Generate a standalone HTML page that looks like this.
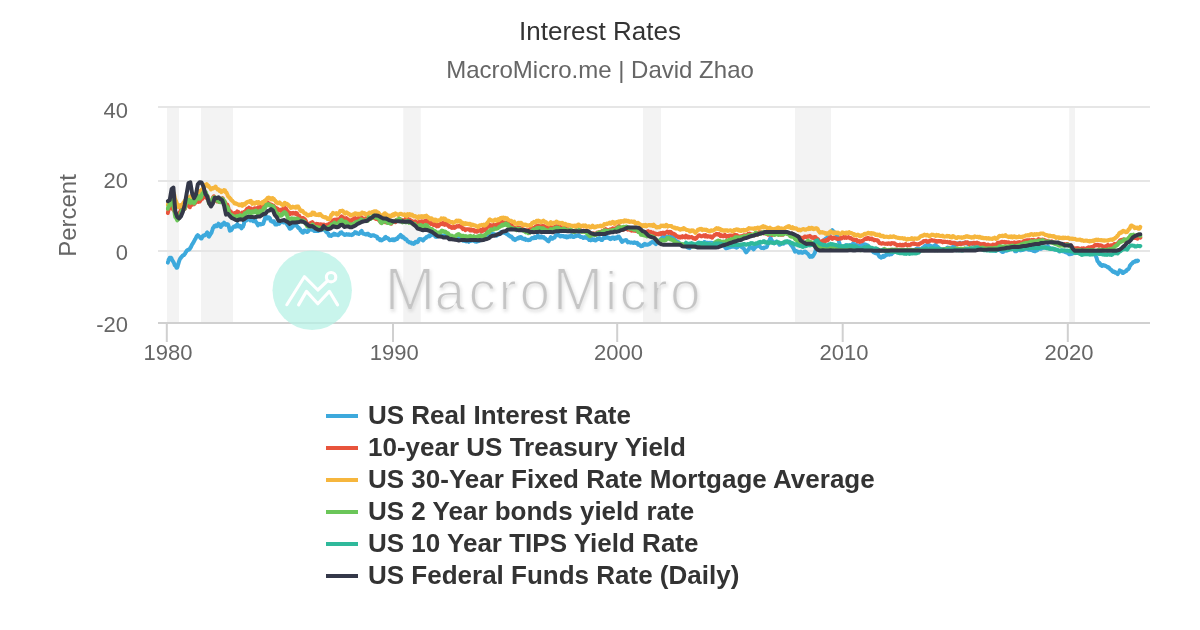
<!DOCTYPE html>
<html lang="en"><head><meta charset="utf-8"><title>Interest Rates</title>
<style>
html,body{margin:0;padding:0;background:#fff;}
body{width:1200px;height:630px;overflow:hidden;font-family:"Liberation Sans",sans-serif;}
svg{display:block}
text{font-family:"Liberation Sans",sans-serif}
.ax{font-size:22px;fill:#666}
.lg{font-size:26px;font-weight:bold;fill:#333}
</style></head><body>
<svg width="1200" height="630" viewBox="0 0 1200 630">
<defs><filter id="wmblur" x="-5%" y="-20%" width="110%" height="140%"><feGaussianBlur stdDeviation="1.6"/></filter>
<filter id="wmsoft" x="-5%" y="-20%" width="110%" height="140%"><feGaussianBlur stdDeviation="0.5"/></filter>
<mask id="wmmask" maskUnits="userSpaceOnUse" x="380" y="255" width="330" height="70"><text y="310.4" font-size="61" fill="#fff" stroke="#000" stroke-width="2.0"><tspan x="384.6">M</tspan><tspan font-size="55" x="434.4 468.6 498.4 519.5">acro</tspan><tspan x="552.5">M</tspan><tspan font-size="55" x="604.9 619.5 649.4 669.9">icro</tspan></text></mask>
<clipPath id="plot"><rect x="165.8" y="100" width="990" height="230"/></clipPath></defs>
<rect width="1200" height="630" fill="#fff"/>

<rect x="167.0" y="107" width="12.0" height="216" fill="#f3f3f3"/>
<rect x="201.0" y="107" width="32.0" height="216" fill="#f3f3f3"/>
<rect x="403.3" y="107" width="17.4" height="216" fill="#f3f3f3"/>
<rect x="643.0" y="107" width="18.0" height="216" fill="#f3f3f3"/>
<rect x="795.0" y="107" width="36.0" height="216" fill="#f3f3f3"/>
<rect x="1069.2" y="107" width="5.8" height="216" fill="#f3f3f3"/>
<rect x="158" y="106.0" width="992" height="2" fill="#e6e6e6"/>
<rect x="158" y="180.0" width="992" height="2" fill="#e6e6e6"/>
<rect x="158" y="250.0" width="992" height="2" fill="#e6e6e6"/>
<rect x="158" y="322" width="992" height="2" fill="#d0d0d0"/>
<rect x="165.8" y="323" width="2" height="19" fill="#d0d0d0"/>
<text class="ax" x="168.0" y="360" text-anchor="middle">1980</text>
<rect x="392.0" y="323" width="2" height="19" fill="#d0d0d0"/>
<text class="ax" x="394.2" y="360" text-anchor="middle">1990</text>
<rect x="616.2" y="323" width="2" height="19" fill="#d0d0d0"/>
<text class="ax" x="618.4" y="360" text-anchor="middle">2000</text>
<rect x="841.7" y="323" width="2" height="19" fill="#d0d0d0"/>
<text class="ax" x="843.9" y="360" text-anchor="middle">2010</text>
<rect x="1066.8" y="323" width="2" height="19" fill="#d0d0d0"/>
<text class="ax" x="1069.0" y="360" text-anchor="middle">2020</text>
<g id="wm">
<circle cx="312.2" cy="290.3" r="39.7" fill="#b7f2e6" fill-opacity="0.75"/>
<g fill="none" stroke="#fff" stroke-width="3.1" stroke-linecap="round" stroke-linejoin="round">
<path d="M286.8 304.7 L304.4 276.7 L317.8 290.0 L327.3 281.0"/>
<circle cx="331.1" cy="277.2" r="4.7"/>
<path d="M298.6 304.9 L306.5 291.4 L317.8 303.8 L329.4 291.4 L337.6 304.9"/>
</g>
<text y="311.6" font-size="61" fill="#b8b8b8" opacity="0.32" filter="url(#wmblur)"><tspan x="385.6">M</tspan><tspan font-size="55" x="435.4 469.6 499.4 520.5">acro</tspan><tspan x="553.5">M</tspan><tspan font-size="55" x="605.9 620.5 650.4 670.9">icro</tspan></text>
<rect x="380" y="255" width="330" height="70" fill="#c5c5c5" mask="url(#wmmask)" filter="url(#wmsoft)"/>
</g>
<text class="ax" x="128" y="117.7" text-anchor="end">40</text>
<text class="ax" x="128" y="187.6" text-anchor="end">20</text>
<text class="ax" x="128" y="259.9" text-anchor="end">0</text>
<text class="ax" x="128" y="332.1" text-anchor="end">-20</text>
<text x="75.9" y="215.5" font-size="24" fill="#666" text-anchor="middle" transform="rotate(-90 75.9 215.5)">Percent</text>
<g fill="none" stroke-linejoin="round" stroke-linecap="round" clip-path="url(#plot)">
<path d="M167.8 262.6 L168.3 261.0 L168.7 259.5 L169.2 258.7 L169.7 257.8 L170.1 257.9 L170.6 257.9 L171.1 257.8 L171.6 258.6 L172.0 259.9 L172.5 260.5 L173.0 261.4 L173.4 262.0 L173.9 262.9 L174.4 264.2 L174.8 265.3 L175.3 265.2 L175.8 266.2 L176.2 267.1 L176.7 267.8 L177.2 267.8 L177.7 266.1 L178.1 264.6 L178.6 262.9 L179.1 261.2 L179.5 260.1 L180.0 258.9 L180.5 258.2 L180.9 257.9 L181.4 256.8 L181.9 256.6 L182.4 255.8 L182.8 255.4 L183.3 255.1 L183.8 255.1 L184.2 254.9 L184.7 254.0 L185.2 253.4 L185.6 252.4 L186.1 251.9 L186.6 250.8 L187.0 250.4 L187.5 250.2 L188.0 249.9 L188.5 249.7 L188.9 249.6 L189.4 249.0 L189.9 248.8 L190.3 247.9 L190.8 247.3 L191.3 246.2 L191.7 245.4 L192.2 244.2 L192.7 243.8 L193.1 242.8 L193.6 242.2 L194.1 241.1 L194.6 240.2 L195.0 239.4 L195.5 238.9 L196.0 237.6 L196.4 236.9 L196.9 235.9 L197.4 235.9 L197.8 235.2 L198.3 235.6 L198.8 236.1 L199.2 236.5 L199.7 236.9 L200.2 237.6 L200.7 238.2 L201.1 238.4 L201.6 238.4 L202.1 237.3 L202.5 236.7 L203.0 236.0 L203.5 235.5 L203.9 235.4 L204.4 235.5 L204.9 235.2 L205.4 234.6 L205.8 234.5 L206.3 234.3 L206.8 232.8 L207.2 232.4 L207.7 233.4 L208.2 234.5 L208.6 236.4 L209.1 236.6 L209.6 235.4 L210.0 235.0 L210.5 234.0 L211.0 233.4 L211.5 232.6 L211.9 231.3 L212.4 229.9 L212.9 228.2 L213.3 227.6 L213.8 227.3 L214.3 226.2 L214.7 226.4 L215.2 225.8 L215.7 225.3 L216.1 225.6 L216.6 226.3 L217.1 226.1 L217.6 225.3 L218.0 224.6 L218.5 223.7 L219.0 225.0 L219.4 225.3 L219.9 225.4 L220.4 226.0 L220.8 226.9 L221.3 225.7 L221.8 224.3 L222.2 224.1 L222.7 224.8 L223.2 224.7 L223.7 224.1 L224.1 222.6 L224.6 223.3 L225.1 224.1 L225.5 223.9 L226.0 224.8 L226.5 224.0 L226.9 224.7 L227.4 224.9 L227.9 224.3 L228.3 225.2 L228.8 226.7 L229.3 228.3 L229.8 230.7 L230.2 230.5 L230.7 230.4 L231.2 230.2 L231.6 229.5 L232.1 229.0 L232.6 227.9 L233.0 227.3 L233.5 226.8 L234.0 226.7 L234.5 226.5 L234.9 226.2 L235.4 226.7 L235.9 226.4 L236.3 226.5 L236.8 225.0 L237.3 224.1 L237.7 225.0 L238.2 225.7 L238.7 226.5 L239.1 226.3 L239.6 226.5 L240.1 225.9 L240.6 226.7 L241.0 227.7 L241.5 228.4 L242.0 226.8 L242.4 226.4 L242.9 226.9 L243.4 225.2 L243.8 224.7 L244.3 221.2 L244.8 220.1 L245.2 219.9 L245.7 219.9 L246.2 220.6 L246.7 219.6 L247.1 219.8 L247.6 218.5 L248.1 219.3 L248.5 218.8 L249.0 218.0 L249.5 217.6 L249.9 219.2 L250.4 220.4 L250.9 219.5 L251.3 219.2 L251.8 220.1 L252.3 220.4 L252.8 220.7 L253.2 221.2 L253.7 221.3 L254.2 220.5 L254.6 220.6 L255.1 220.2 L255.6 221.2 L256.0 221.9 L256.5 223.0 L257.0 223.3 L257.5 224.4 L257.9 225.3 L258.4 224.5 L258.9 223.9 L259.3 224.1 L259.8 224.0 L260.3 224.1 L260.7 224.5 L261.2 224.2 L261.7 224.1 L262.1 224.1 L262.6 224.1 L263.1 223.8 L263.6 222.7 L264.0 221.2 L264.5 220.3 L265.0 218.3 L265.4 217.5 L265.9 217.2 L266.4 216.7 L266.8 217.5 L267.3 218.4 L267.8 217.6 L268.2 218.1 L268.7 217.3 L269.2 217.6 L269.7 218.0 L270.1 218.6 L270.6 220.8 L271.1 220.7 L271.5 221.2 L272.0 221.6 L272.5 221.7 L272.9 221.2 L273.4 221.2 L273.9 221.3 L274.3 222.9 L274.8 223.2 L275.3 224.5 L275.8 224.1 L276.2 223.8 L276.7 224.5 L277.2 224.0 L277.6 223.8 L278.1 223.2 L278.6 223.8 L279.0 223.9 L279.5 223.7 L280.0 222.3 L280.5 221.8 L280.9 222.2 L281.4 222.1 L281.9 222.1 L282.3 222.0 L282.8 222.1 L283.3 222.1 L283.7 222.5 L284.2 222.3 L284.7 221.5 L285.1 221.9 L285.6 222.5 L286.1 223.2 L286.6 223.7 L287.0 224.2 L287.5 225.2 L288.0 225.6 L288.4 226.1 L288.9 227.2 L289.4 228.0 L289.8 228.8 L290.3 228.6 L290.8 227.4 L291.2 228.2 L291.7 227.4 L292.2 227.1 L292.7 226.8 L293.1 226.2 L293.6 225.3 L294.1 225.2 L294.5 225.2 L295.0 225.3 L295.5 225.0 L295.9 224.7 L296.4 225.3 L296.9 226.0 L297.3 226.5 L297.8 227.2 L298.3 228.0 L298.8 227.7 L299.2 228.2 L299.7 229.2 L300.2 229.3 L300.6 230.6 L301.1 231.0 L301.6 231.0 L302.0 232.1 L302.5 232.6 L303.0 232.7 L303.4 231.6 L303.9 230.8 L304.4 231.4 L304.9 230.5 L305.3 231.0 L305.8 231.2 L306.3 231.5 L306.7 231.5 L307.2 232.0 L307.7 231.7 L308.1 231.6 L308.6 230.7 L309.1 229.2 L309.6 228.0 L310.0 228.5 L310.5 229.1 L311.0 229.2 L311.4 229.6 L311.9 228.6 L312.4 228.9 L312.8 229.8 L313.3 229.6 L313.8 229.8 L314.2 231.0 L314.7 231.0 L315.2 231.0 L315.7 231.0 L316.1 231.0 L316.6 231.0 L317.1 230.8 L317.5 231.0 L318.0 231.1 L318.5 230.0 L318.9 229.8 L319.4 229.6 L319.9 230.2 L320.3 229.9 L320.8 229.4 L321.3 230.1 L321.8 229.3 L322.2 229.6 L322.7 229.3 L323.2 229.4 L323.6 229.3 L324.1 229.2 L324.6 230.1 L325.0 229.8 L325.5 230.9 L326.0 231.7 L326.4 231.6 L326.9 232.5 L327.4 232.8 L327.9 233.1 L328.3 233.5 L328.8 235.3 L329.3 235.7 L329.7 235.0 L330.2 235.0 L330.7 235.5 L331.1 235.9 L331.6 235.5 L332.1 235.4 L332.6 234.8 L333.0 234.3 L333.5 234.2 L334.0 233.7 L334.4 234.0 L334.9 234.6 L335.4 234.0 L335.8 234.7 L336.3 234.8 L336.8 234.8 L337.2 234.9 L337.7 235.3 L338.2 235.2 L338.7 234.3 L339.1 234.4 L339.6 234.0 L340.1 233.0 L340.5 232.4 L341.0 232.4 L341.5 232.3 L341.9 233.4 L342.4 233.5 L342.9 233.7 L343.3 234.0 L343.8 234.2 L344.3 234.9 L344.8 235.0 L345.2 234.8 L345.7 234.7 L346.2 234.4 L346.6 234.1 L347.1 234.3 L347.6 234.6 L348.0 234.7 L348.5 234.3 L349.0 234.3 L349.4 234.5 L349.9 234.9 L350.4 234.8 L350.9 234.9 L351.3 234.7 L351.8 235.1 L352.3 234.8 L352.7 234.6 L353.2 233.8 L353.7 233.8 L354.1 233.4 L354.6 232.9 L355.1 232.1 L355.5 232.4 L356.0 233.0 L356.5 232.7 L357.0 233.4 L357.4 233.3 L357.9 233.5 L358.4 233.4 L358.8 234.0 L359.3 233.2 L359.8 233.1 L360.2 233.1 L360.7 231.7 L361.2 231.5 L361.7 230.8 L362.1 232.0 L362.6 233.1 L363.1 233.6 L363.5 233.3 L364.0 233.8 L364.5 234.0 L364.9 234.1 L365.4 234.5 L365.9 234.2 L366.3 234.2 L366.8 234.4 L367.3 233.8 L367.8 233.7 L368.2 233.8 L368.7 234.3 L369.2 235.2 L369.6 234.8 L370.1 235.0 L370.6 235.9 L371.0 235.5 L371.5 235.9 L372.0 235.6 L372.4 235.4 L372.9 235.2 L373.4 235.2 L373.9 235.2 L374.3 235.7 L374.8 235.9 L375.3 236.1 L375.7 236.3 L376.2 236.3 L376.7 236.7 L377.1 236.8 L377.6 238.6 L378.1 238.7 L378.5 239.0 L379.0 238.5 L379.5 238.9 L380.0 240.2 L380.4 240.0 L380.9 240.2 L381.4 239.8 L381.8 240.4 L382.3 239.9 L382.8 239.5 L383.2 239.2 L383.7 239.0 L384.2 239.0 L384.7 238.0 L385.1 237.2 L385.6 236.9 L386.1 237.7 L386.5 237.7 L387.0 237.9 L387.5 238.4 L387.9 238.7 L388.4 238.5 L388.9 239.4 L389.3 239.8 L389.8 240.3 L390.3 240.0 L390.8 239.9 L391.2 239.9 L391.7 240.0 L392.2 239.4 L392.6 239.9 L393.1 240.2 L393.6 239.3 L394.0 239.6 L394.5 240.2 L395.0 239.7 L395.4 239.7 L395.9 238.8 L396.4 239.2 L396.9 239.1 L397.3 238.9 L397.8 237.8 L398.3 237.4 L398.7 236.5 L399.2 236.3 L399.7 236.1 L400.1 235.4 L400.6 234.9 L401.1 235.6 L401.5 236.6 L402.0 237.4 L402.5 237.5 L403.0 236.7 L403.4 237.4 L403.9 237.9 L404.4 238.1 L404.8 238.8 L405.3 239.3 L405.8 239.5 L406.2 239.3 L406.7 239.9 L407.2 240.6 L407.7 241.5 L408.1 241.5 L408.6 241.6 L409.1 242.2 L409.5 242.6 L410.0 242.5 L410.5 242.4 L410.9 242.6 L411.4 243.0 L411.9 243.5 L412.3 243.5 L412.8 243.6 L413.3 243.1 L413.8 243.9 L414.2 243.6 L414.7 242.8 L415.2 242.7 L415.6 241.9 L416.1 242.1 L416.6 242.0 L417.0 242.0 L417.5 242.3 L418.0 241.7 L418.4 240.2 L418.9 239.6 L419.4 239.0 L419.9 239.0 L420.3 239.2 L420.8 239.1 L421.3 239.5 L421.7 239.8 L422.2 239.5 L422.7 239.9 L423.1 240.4 L423.6 239.8 L424.1 239.3 L424.5 238.5 L425.0 238.3 L425.5 238.3 L426.0 237.9 L426.4 236.9 L426.9 236.9 L427.4 236.7 L427.8 236.6 L428.3 236.3 L428.8 235.8 L429.2 235.4 L429.7 236.3 L430.2 235.5 L430.7 235.5 L431.1 235.4 L431.6 234.1 L432.1 234.3 L432.5 233.4 L433.0 233.8 L433.5 234.8 L433.9 234.7 L434.4 234.7 L434.9 235.4 L435.3 236.7 L435.8 236.7 L436.3 236.9 L436.8 236.8 L437.2 235.4 L437.7 235.3 L438.2 235.2 L438.6 235.1 L439.1 235.2 L439.6 235.2 L440.0 234.8 L440.5 234.8 L441.0 235.2 L441.4 235.3 L441.9 235.9 L442.4 235.5 L442.9 235.8 L443.3 235.6 L443.8 236.0 L444.3 235.8 L444.7 235.5 L445.2 235.8 L445.7 234.5 L446.1 235.1 L446.6 235.5 L447.1 236.0 L447.5 235.5 L448.0 235.8 L448.5 236.5 L449.0 237.7 L449.4 238.2 L449.9 238.0 L450.4 238.3 L450.8 238.8 L451.3 239.1 L451.8 239.0 L452.2 238.8 L452.7 239.0 L453.2 238.8 L453.6 237.8 L454.1 237.7 L454.6 238.7 L455.1 238.6 L455.5 238.3 L456.0 237.9 L456.5 237.1 L456.9 237.0 L457.4 237.2 L457.9 237.2 L458.3 237.2 L458.8 236.7 L459.3 237.1 L459.8 238.4 L460.2 238.9 L460.7 239.5 L461.2 239.2 L461.6 239.4 L462.1 239.4 L462.6 239.8 L463.0 240.7 L463.5 240.4 L464.0 240.4 L464.4 240.5 L464.9 241.1 L465.4 241.0 L465.9 241.2 L466.3 241.4 L466.8 241.0 L467.3 240.8 L467.7 241.1 L468.2 241.4 L468.7 241.8 L469.1 241.2 L469.6 240.4 L470.1 240.3 L470.5 241.0 L471.0 240.9 L471.5 240.3 L472.0 239.7 L472.4 239.7 L472.9 240.0 L473.4 240.3 L473.8 240.9 L474.3 241.1 L474.8 241.2 L475.2 241.6 L475.7 241.6 L476.2 241.7 L476.6 241.6 L477.1 241.3 L477.6 241.5 L478.1 241.1 L478.5 240.9 L479.0 241.0 L479.5 240.4 L479.9 240.0 L480.4 240.3 L480.9 239.7 L481.3 239.9 L481.8 239.7 L482.3 239.7 L482.8 239.9 L483.2 238.8 L483.7 239.3 L484.2 238.7 L484.6 238.8 L485.1 238.5 L485.6 238.3 L486.0 237.9 L486.5 236.9 L487.0 235.9 L487.4 236.1 L487.9 235.6 L488.4 234.7 L488.9 234.6 L489.3 234.0 L489.8 234.2 L490.3 233.6 L490.7 233.2 L491.2 233.1 L491.7 233.5 L492.1 234.5 L492.6 234.3 L493.1 234.9 L493.5 234.5 L494.0 234.1 L494.5 234.3 L495.0 234.9 L495.4 234.6 L495.9 235.0 L496.4 235.7 L496.8 235.6 L497.3 234.8 L497.8 235.0 L498.2 234.9 L498.7 234.4 L499.2 234.4 L499.6 233.6 L500.1 232.6 L500.6 232.3 L501.1 232.3 L501.5 233.1 L502.0 232.0 L502.5 231.9 L502.9 231.8 L503.4 231.7 L503.9 232.4 L504.3 232.9 L504.8 232.8 L505.3 232.3 L505.8 233.4 L506.2 233.7 L506.7 234.2 L507.2 234.1 L507.6 234.0 L508.1 234.6 L508.6 235.4 L509.0 235.4 L509.5 235.7 L510.0 236.5 L510.4 236.1 L510.9 236.6 L511.4 236.6 L511.9 237.6 L512.3 237.5 L512.8 238.6 L513.3 238.5 L513.7 239.4 L514.2 238.9 L514.7 239.4 L515.1 240.1 L515.6 239.6 L516.1 239.1 L516.5 239.1 L517.0 238.8 L517.5 238.2 L518.0 237.8 L518.4 238.5 L518.9 237.7 L519.4 237.3 L519.8 237.3 L520.3 237.1 L520.8 237.8 L521.2 237.2 L521.7 237.9 L522.2 238.5 L522.6 238.8 L523.1 238.7 L523.6 238.9 L524.1 239.2 L524.5 238.7 L525.0 238.8 L525.5 239.7 L525.9 239.9 L526.4 239.6 L526.9 239.7 L527.3 239.8 L527.8 239.9 L528.3 240.2 L528.7 239.7 L529.2 240.0 L529.7 240.0 L530.2 239.7 L530.6 239.2 L531.1 238.8 L531.6 238.2 L532.0 238.4 L532.5 237.9 L533.0 237.9 L533.4 238.3 L533.9 238.1 L534.4 237.1 L534.9 237.0 L535.3 237.3 L535.8 238.0 L536.3 237.6 L536.7 237.2 L537.2 236.7 L537.7 235.5 L538.1 235.8 L538.6 236.3 L539.1 237.0 L539.5 237.6 L540.0 237.5 L540.5 237.6 L541.0 236.5 L541.4 237.3 L541.9 237.5 L542.4 237.0 L542.8 237.1 L543.3 237.6 L543.8 237.2 L544.2 237.7 L544.7 238.5 L545.2 238.4 L545.6 238.7 L546.1 239.5 L546.6 239.8 L547.1 240.2 L547.5 240.6 L548.0 241.1 L548.5 241.4 L548.9 240.7 L549.4 239.5 L549.9 238.7 L550.3 238.0 L550.8 237.2 L551.3 237.8 L551.7 237.8 L552.2 238.8 L552.7 238.6 L553.2 238.1 L553.6 237.8 L554.1 237.6 L554.6 237.5 L555.0 236.7 L555.5 235.7 L556.0 235.6 L556.4 235.0 L556.9 235.2 L557.4 235.0 L557.9 235.2 L558.3 234.8 L558.8 235.1 L559.3 235.3 L559.7 235.8 L560.2 236.4 L560.7 236.4 L561.1 236.0 L561.6 235.7 L562.1 236.3 L562.5 236.1 L563.0 235.9 L563.5 236.0 L564.0 236.6 L564.4 236.4 L564.9 236.8 L565.4 236.2 L565.8 236.2 L566.3 236.2 L566.8 237.4 L567.2 236.9 L567.7 236.6 L568.2 237.1 L568.6 236.4 L569.1 236.3 L569.6 236.3 L570.1 236.6 L570.5 236.7 L571.0 236.6 L571.5 235.3 L571.9 235.9 L572.4 236.2 L572.9 236.8 L573.3 237.1 L573.8 236.9 L574.3 236.9 L574.7 236.1 L575.2 236.0 L575.7 235.6 L576.2 236.1 L576.6 235.6 L577.1 235.6 L577.6 235.4 L578.0 235.6 L578.5 236.0 L579.0 235.4 L579.4 236.0 L579.9 236.3 L580.4 236.9 L580.8 236.9 L581.3 237.1 L581.8 237.0 L582.3 237.1 L582.7 237.5 L583.2 237.9 L583.7 237.5 L584.1 237.2 L584.6 237.1 L585.1 237.7 L585.5 237.4 L586.0 237.3 L586.5 237.4 L587.0 237.7 L587.4 238.3 L587.9 238.6 L588.4 238.7 L588.8 239.4 L589.3 240.1 L589.8 240.1 L590.2 240.1 L590.7 240.4 L591.2 240.1 L591.6 239.3 L592.1 239.1 L592.6 239.3 L593.1 239.9 L593.5 239.7 L594.0 239.4 L594.5 239.8 L594.9 240.2 L595.4 240.5 L595.9 240.0 L596.3 239.7 L596.8 239.7 L597.3 238.8 L597.7 238.4 L598.2 238.3 L598.7 239.0 L599.2 238.6 L599.6 238.2 L600.1 239.2 L600.6 239.3 L601.0 239.5 L601.5 240.1 L602.0 240.1 L602.4 239.8 L602.9 238.9 L603.4 238.2 L603.8 237.6 L604.3 237.1 L604.8 237.1 L605.3 237.0 L605.7 237.8 L606.2 237.4 L606.7 236.7 L607.1 237.5 L607.6 237.8 L608.1 237.6 L608.5 237.6 L609.0 238.3 L609.5 238.6 L610.0 239.0 L610.4 238.3 L610.9 239.1 L611.4 238.6 L611.8 237.9 L612.3 237.5 L612.8 237.4 L613.2 237.5 L613.7 238.5 L614.2 238.7 L614.6 238.9 L615.1 238.7 L615.6 237.6 L616.1 238.5 L616.5 238.0 L617.0 238.2 L617.5 237.1 L617.9 236.5 L618.4 236.7 L618.9 236.6 L619.3 237.5 L619.8 237.9 L620.3 238.7 L620.7 239.8 L621.2 240.7 L621.7 241.5 L622.2 242.0 L622.6 241.7 L623.1 240.6 L623.6 240.7 L624.0 240.6 L624.5 240.5 L625.0 240.3 L625.4 240.3 L625.9 240.0 L626.4 240.1 L626.8 240.8 L627.3 241.6 L627.8 242.3 L628.3 242.0 L628.7 242.1 L629.2 242.1 L629.7 242.5 L630.1 242.5 L630.6 242.7 L631.1 242.5 L631.5 242.6 L632.0 242.6 L632.5 242.7 L633.0 242.7 L633.4 242.9 L633.9 242.9 L634.4 242.4 L634.8 242.6 L635.3 242.9 L635.8 242.7 L636.2 243.0 L636.7 243.1 L637.2 242.8 L637.6 243.7 L638.1 244.7 L638.6 244.4 L639.1 244.3 L639.5 245.1 L640.0 245.5 L640.5 245.4 L640.9 246.3 L641.4 246.1 L641.9 246.0 L642.3 245.7 L642.8 245.9 L643.3 244.9 L643.7 244.6 L644.2 244.1 L644.7 243.9 L645.2 244.6 L645.6 244.4 L646.1 244.8 L646.6 244.6 L647.0 244.8 L647.5 244.7 L648.0 244.7 L648.4 244.4 L648.9 244.0 L649.4 244.2 L649.8 243.9 L650.3 243.1 L650.8 242.8 L651.3 242.8 L651.7 242.3 L652.2 242.0 L652.7 241.9 L653.1 242.2 L653.6 242.4 L654.1 242.1 L654.5 243.0 L655.0 243.4 L655.5 243.9 L656.0 244.1 L656.4 243.1 L656.9 242.7 L657.4 241.9 L657.8 242.5 L658.3 242.3 L658.8 241.4 L659.2 240.9 L659.7 240.6 L660.2 239.9 L660.6 239.5 L661.1 239.0 L661.6 238.4 L662.1 237.7 L662.5 237.5 L663.0 237.1 L663.5 236.2 L663.9 237.1 L664.4 237.4 L664.9 237.1 L665.3 237.4 L665.8 237.4 L666.3 236.6 L666.7 236.9 L667.2 237.3 L667.7 237.1 L668.2 236.6 L668.6 237.8 L669.1 238.2 L669.6 237.7 L670.0 237.6 L670.5 236.4 L671.0 236.3 L671.4 236.8 L671.9 236.8 L672.4 237.3 L672.8 237.5 L673.3 237.9 L673.8 237.7 L674.3 239.5 L674.7 239.7 L675.2 239.9 L675.7 240.5 L676.1 240.7 L676.6 241.7 L677.1 242.0 L677.5 242.2 L678.0 242.6 L678.5 242.1 L678.9 243.0 L679.4 243.4 L679.9 243.8 L680.4 244.3 L680.8 244.9 L681.3 244.6 L681.8 244.4 L682.2 244.4 L682.7 244.3 L683.2 244.7 L683.6 245.1 L684.1 245.1 L684.6 245.1 L685.1 245.6 L685.5 246.1 L686.0 246.3 L686.5 246.2 L686.9 246.5 L687.4 247.4 L687.9 247.8 L688.3 247.6 L688.8 247.5 L689.3 248.0 L689.7 248.1 L690.2 246.9 L690.7 245.6 L691.2 244.7 L691.6 244.6 L692.1 244.8 L692.6 245.2 L693.0 245.5 L693.5 245.9 L694.0 246.1 L694.4 246.2 L694.9 245.9 L695.4 246.2 L695.8 245.7 L696.3 245.3 L696.8 245.0 L697.3 244.4 L697.7 243.6 L698.2 243.2 L698.7 242.5 L699.1 242.5 L699.6 243.0 L700.1 243.8 L700.5 243.7 L701.0 244.4 L701.5 243.4 L701.9 243.4 L702.4 243.1 L702.9 243.2 L703.4 242.9 L703.8 242.8 L704.3 242.0 L704.8 241.9 L705.2 242.4 L705.7 243.0 L706.2 242.7 L706.6 242.8 L707.1 243.0 L707.6 242.7 L708.1 242.9 L708.5 242.9 L709.0 243.0 L709.5 242.9 L709.9 242.8 L710.4 243.0 L710.9 242.7 L711.3 242.8 L711.8 243.6 L712.3 243.5 L712.7 243.1 L713.2 243.3 L713.7 243.1 L714.2 243.5 L714.6 243.9 L715.1 244.7 L715.6 245.2 L716.0 245.8 L716.5 245.9 L717.0 245.7 L717.4 245.6 L717.9 245.5 L718.4 245.6 L718.8 245.9 L719.3 245.6 L719.8 245.6 L720.3 245.1 L720.7 244.7 L721.2 244.8 L721.7 245.4 L722.1 245.4 L722.6 245.2 L723.1 245.4 L723.5 245.1 L724.0 245.6 L724.5 246.1 L724.9 246.9 L725.4 247.9 L725.9 248.2 L726.4 248.3 L726.8 248.1 L727.3 248.0 L727.8 247.8 L728.2 247.8 L728.7 247.6 L729.2 247.3 L729.6 246.9 L730.1 246.7 L730.6 247.1 L731.0 246.4 L731.5 246.5 L732.0 246.7 L732.5 246.6 L732.9 246.7 L733.4 246.5 L733.9 246.8 L734.3 246.3 L734.8 245.9 L735.3 246.4 L735.7 247.4 L736.2 247.5 L736.7 247.8 L737.2 247.4 L737.6 246.9 L738.1 246.6 L738.6 246.4 L739.0 246.0 L739.5 246.0 L740.0 245.7 L740.4 244.7 L740.9 245.5 L741.4 246.2 L741.8 247.3 L742.3 247.6 L742.8 247.6 L743.3 248.2 L743.7 248.4 L744.2 249.2 L744.7 249.8 L745.1 250.9 L745.6 251.7 L746.1 252.4 L746.5 252.1 L747.0 251.3 L747.5 250.8 L747.9 250.4 L748.4 249.7 L748.9 249.1 L749.4 247.8 L749.8 246.9 L750.3 247.3 L750.8 247.0 L751.2 247.3 L751.7 247.6 L752.2 247.6 L752.6 248.6 L753.1 248.7 L753.6 249.4 L754.0 248.7 L754.5 248.3 L755.0 247.6 L755.5 247.2 L755.9 246.9 L756.4 246.7 L756.9 246.2 L757.3 246.2 L757.8 245.8 L758.3 245.4 L758.7 245.6 L759.2 245.4 L759.7 246.2 L760.2 246.8 L760.6 247.2 L761.1 247.8 L761.6 248.1 L762.0 248.0 L762.5 248.0 L763.0 248.0 L763.4 247.7 L763.9 248.1 L764.4 247.4 L764.8 247.4 L765.3 247.5 L765.8 247.4 L766.3 247.2 L766.7 246.9 L767.2 245.7 L767.7 244.3 L768.1 243.4 L768.6 241.7 L769.1 240.9 L769.5 240.3 L770.0 239.2 L770.5 237.9 L770.9 238.7 L771.4 240.1 L771.9 240.4 L772.4 241.5 L772.8 242.1 L773.3 242.8 L773.8 243.0 L774.2 243.4 L774.7 242.9 L775.2 242.5 L775.6 242.0 L776.1 241.6 L776.6 241.5 L777.0 242.1 L777.5 242.4 L778.0 242.7 L778.5 243.4 L778.9 243.8 L779.4 244.7 L779.9 244.8 L780.3 244.3 L780.8 244.1 L781.3 243.3 L781.7 243.5 L782.2 243.4 L782.7 243.3 L783.2 243.6 L783.6 243.7 L784.1 243.1 L784.6 242.9 L785.0 242.5 L785.5 241.9 L786.0 241.9 L786.4 242.4 L786.9 242.2 L787.4 241.6 L787.8 241.6 L788.3 241.9 L788.8 242.2 L789.3 241.6 L789.7 241.9 L790.2 243.3 L790.7 244.7 L791.1 245.0 L791.6 245.7 L792.1 246.2 L792.5 246.8 L793.0 247.6 L793.5 248.4 L793.9 249.2 L794.4 250.3 L794.9 251.6 L795.4 251.2 L795.8 251.2 L796.3 251.0 L796.8 251.1 L797.2 251.4 L797.7 251.8 L798.2 252.1 L798.6 252.8 L799.1 252.6 L799.6 252.5 L800.0 252.0 L800.5 251.7 L801.0 251.8 L801.5 252.3 L801.9 252.8 L802.4 252.9 L802.9 252.6 L803.3 252.5 L803.8 252.0 L804.3 251.6 L804.7 251.7 L805.2 251.6 L805.7 251.8 L806.1 252.3 L806.6 252.9 L807.1 253.4 L807.6 253.6 L808.0 254.0 L808.5 254.7 L809.0 255.1 L809.4 256.2 L809.9 256.8 L810.4 256.3 L810.8 256.3 L811.3 256.1 L811.8 256.8 L812.3 256.7 L812.7 256.4 L813.2 255.6 L813.7 254.9 L814.1 254.1 L814.6 253.2 L815.1 252.1 L815.5 250.9 L816.0 248.5 L816.5 246.5 L816.9 243.9 L817.4 241.8 L817.9 242.4 L818.4 242.4 L818.8 242.6 L819.3 242.4 L819.8 242.1 L820.2 242.2 L820.7 241.8 L821.2 241.6 L821.6 241.7 L822.1 241.5 L822.6 241.3 L823.0 241.4 L823.5 241.1 L824.0 240.1 L824.5 239.8 L824.9 239.5 L825.4 238.9 L825.9 239.1 L826.3 238.5 L826.8 238.5 L827.3 237.5 L827.7 237.0 L828.2 236.0 L828.7 234.4 L829.1 234.0 L829.6 234.0 L830.1 232.6 L830.6 232.6 L831.0 231.5 L831.5 231.5 L832.0 231.7 L832.4 230.1 L832.9 231.1 L833.4 231.3 L833.8 231.5 L834.3 232.9 L834.8 233.1 L835.3 233.6 L835.7 233.6 L836.2 234.0 L836.7 235.5 L837.1 236.2 L837.6 236.9 L838.1 238.1 L838.5 239.7 L839.0 241.7 L839.5 243.5 L839.9 245.2 L840.4 245.8 L840.9 246.2 L841.4 246.8 L841.8 247.4 L842.3 247.2 L842.8 247.2 L843.2 247.3 L843.7 246.8 L844.2 246.0 L844.6 245.8 L845.1 245.6 L845.6 245.3 L846.0 245.1 L846.5 245.3 L847.0 245.9 L847.5 246.0 L847.9 245.9 L848.4 245.6 L848.9 245.6 L849.3 245.4 L849.8 245.0 L850.3 245.1 L850.7 245.9 L851.2 246.3 L851.7 245.6 L852.1 244.9 L852.6 244.5 L853.1 243.4 L853.6 244.1 L854.0 244.0 L854.5 244.0 L855.0 244.5 L855.4 244.9 L855.9 244.9 L856.4 245.0 L856.8 245.8 L857.3 245.9 L857.8 245.4 L858.3 245.5 L858.7 245.6 L859.2 245.9 L859.7 246.1 L860.1 246.3 L860.6 245.6 L861.1 246.0 L861.5 245.2 L862.0 245.0 L862.5 244.8 L862.9 244.8 L863.4 244.8 L863.9 244.2 L864.4 244.2 L864.8 244.4 L865.3 244.5 L865.8 244.5 L866.2 244.8 L866.7 245.0 L867.2 245.4 L867.6 245.3 L868.1 245.5 L868.6 246.8 L869.0 247.3 L869.5 247.6 L870.0 248.7 L870.5 249.2 L870.9 249.2 L871.4 249.7 L871.9 250.2 L872.3 251.0 L872.8 251.4 L873.3 252.1 L873.7 252.6 L874.2 252.6 L874.7 252.7 L875.1 253.0 L875.6 253.3 L876.1 253.2 L876.6 253.2 L877.0 253.1 L877.5 253.3 L878.0 254.1 L878.4 255.0 L878.9 255.8 L879.4 256.5 L879.8 256.5 L880.3 257.2 L880.8 257.4 L881.3 257.7 L881.7 257.3 L882.2 256.7 L882.7 256.4 L883.1 255.7 L883.6 255.8 L884.1 256.8 L884.5 256.3 L885.0 256.0 L885.5 255.2 L885.9 255.4 L886.4 255.0 L886.9 254.6 L887.4 254.8 L887.8 254.3 L888.3 254.2 L888.8 254.4 L889.2 254.7 L889.7 254.6 L890.2 253.9 L890.6 253.6 L891.1 254.3 L891.6 254.2 L892.0 253.4 L892.5 253.0 L893.0 252.8 L893.5 252.3 L893.9 252.1 L894.4 251.8 L894.9 251.5 L895.3 251.5 L895.8 250.8 L896.3 250.6 L896.7 250.6 L897.2 250.7 L897.7 251.0 L898.1 251.2 L898.6 251.1 L899.1 251.3 L899.6 251.0 L900.0 250.5 L900.5 251.0 L901.0 251.3 L901.4 250.9 L901.9 250.9 L902.4 251.6 L902.8 251.6 L903.3 251.8 L903.8 251.8 L904.2 252.1 L904.7 252.4 L905.2 252.7 L905.7 252.7 L906.1 252.4 L906.6 252.2 L907.1 252.0 L907.5 251.8 L908.0 251.4 L908.5 251.4 L908.9 251.5 L909.4 251.3 L909.9 250.6 L910.4 250.5 L910.8 250.0 L911.3 249.7 L911.8 250.2 L912.2 250.3 L912.7 250.6 L913.2 251.0 L913.6 250.8 L914.1 250.3 L914.6 250.1 L915.0 249.6 L915.5 249.4 L916.0 249.0 L916.5 248.7 L916.9 248.7 L917.4 248.6 L917.9 248.5 L918.3 248.8 L918.8 249.2 L919.3 249.0 L919.7 249.7 L920.2 249.5 L920.7 249.2 L921.1 248.7 L921.6 249.0 L922.1 248.6 L922.6 248.2 L923.0 247.5 L923.5 247.9 L924.0 247.0 L924.4 246.4 L924.9 245.9 L925.4 245.8 L925.8 245.7 L926.3 245.3 L926.8 244.8 L927.2 244.8 L927.7 245.1 L928.2 245.0 L928.7 245.0 L929.1 245.1 L929.6 245.3 L930.1 245.6 L930.5 245.9 L931.0 246.0 L931.5 246.1 L931.9 246.5 L932.4 246.7 L932.9 246.3 L933.4 246.6 L933.8 246.9 L934.3 246.4 L934.8 245.6 L935.2 245.1 L935.7 245.1 L936.2 245.8 L936.6 246.1 L937.1 246.6 L937.6 246.9 L938.0 247.1 L938.5 247.8 L939.0 248.3 L939.5 248.6 L939.9 248.8 L940.4 249.1 L940.9 249.4 L941.3 249.7 L941.8 249.7 L942.3 249.3 L942.7 249.3 L943.2 250.0 L943.7 249.4 L944.1 249.2 L944.6 249.3 L945.1 249.2 L945.6 249.7 L946.0 249.5 L946.5 248.6 L947.0 247.9 L947.4 247.6 L947.9 248.1 L948.4 248.0 L948.8 247.8 L949.3 248.4 L949.8 248.1 L950.2 248.7 L950.7 248.8 L951.2 248.7 L951.7 248.1 L952.1 247.7 L952.6 247.0 L953.1 247.1 L953.5 246.7 L954.0 245.8 L954.5 246.0 L954.9 245.4 L955.4 244.8 L955.9 244.5 L956.4 244.0 L956.8 243.5 L957.3 243.4 L957.8 243.5 L958.2 243.6 L958.7 243.9 L959.2 243.7 L959.6 242.9 L960.1 242.8 L960.6 243.5 L961.0 244.0 L961.5 243.8 L962.0 243.5 L962.5 243.5 L962.9 243.4 L963.4 243.1 L963.9 242.8 L964.3 242.8 L964.8 242.5 L965.3 243.1 L965.7 242.8 L966.2 242.8 L966.7 243.5 L967.1 243.0 L967.6 243.7 L968.1 244.1 L968.6 243.1 L969.0 243.2 L969.5 243.5 L970.0 243.2 L970.4 243.0 L970.9 243.4 L971.4 243.1 L971.8 243.0 L972.3 243.6 L972.8 243.9 L973.2 244.4 L973.7 244.2 L974.2 244.5 L974.7 244.8 L975.1 245.1 L975.6 245.3 L976.1 245.2 L976.5 245.2 L977.0 245.5 L977.5 246.5 L977.9 247.0 L978.4 247.7 L978.9 248.2 L979.3 248.4 L979.8 248.4 L980.3 248.2 L980.8 247.8 L981.2 247.8 L981.7 247.8 L982.2 247.8 L982.6 247.6 L983.1 247.5 L983.6 247.7 L984.0 247.8 L984.5 248.7 L985.0 248.2 L985.5 248.4 L985.9 248.1 L986.4 248.6 L986.9 248.5 L987.3 248.7 L987.8 248.4 L988.3 248.6 L988.7 248.3 L989.2 248.5 L989.7 248.0 L990.1 248.4 L990.6 248.2 L991.1 248.8 L991.6 249.3 L992.0 249.2 L992.5 249.7 L993.0 250.0 L993.4 250.6 L993.9 250.7 L994.4 250.6 L994.8 250.7 L995.3 250.4 L995.8 250.9 L996.2 250.2 L996.7 250.0 L997.2 249.4 L997.7 249.4 L998.1 249.6 L998.6 249.7 L999.1 249.6 L999.5 249.5 L1000.0 250.1 L1000.5 250.6 L1000.9 250.8 L1001.4 251.1 L1001.9 251.7 L1002.3 252.0 L1002.8 252.1 L1003.3 251.8 L1003.8 251.3 L1004.2 251.0 L1004.7 250.8 L1005.2 250.8 L1005.6 250.5 L1006.1 250.7 L1006.6 250.8 L1007.0 250.3 L1007.5 250.5 L1008.0 249.9 L1008.5 249.7 L1008.9 249.7 L1009.4 249.4 L1009.9 249.4 L1010.3 249.1 L1010.8 249.1 L1011.3 249.2 L1011.7 248.3 L1012.2 248.7 L1012.7 248.5 L1013.1 248.9 L1013.6 249.1 L1014.1 249.8 L1014.6 250.2 L1015.0 251.1 L1015.5 250.6 L1016.0 250.7 L1016.4 251.2 L1016.9 250.6 L1017.4 250.2 L1017.8 249.3 L1018.3 249.3 L1018.8 249.5 L1019.2 249.8 L1019.7 250.0 L1020.2 250.3 L1020.7 250.4 L1021.1 250.0 L1021.6 249.7 L1022.1 250.0 L1022.5 250.1 L1023.0 249.7 L1023.5 249.1 L1023.9 249.2 L1024.4 249.5 L1024.9 248.9 L1025.3 248.6 L1025.8 248.1 L1026.3 248.5 L1026.8 248.4 L1027.2 249.1 L1027.7 249.2 L1028.2 249.3 L1028.6 249.8 L1029.1 249.8 L1029.6 249.4 L1030.0 249.5 L1030.5 249.9 L1031.0 249.9 L1031.4 250.0 L1031.9 250.2 L1032.4 250.4 L1032.9 250.6 L1033.3 251.1 L1033.8 251.0 L1034.3 251.0 L1034.7 251.2 L1035.2 251.2 L1035.7 250.9 L1036.1 250.6 L1036.6 250.2 L1037.1 250.4 L1037.6 250.0 L1038.0 249.4 L1038.5 249.0 L1039.0 248.4 L1039.4 248.6 L1039.9 248.3 L1040.4 248.6 L1040.8 248.9 L1041.3 248.3 L1041.8 247.7 L1042.2 248.2 L1042.7 247.8 L1043.2 247.7 L1043.7 247.4 L1044.1 247.2 L1044.6 247.5 L1045.1 247.8 L1045.5 247.3 L1046.0 246.9 L1046.5 246.8 L1046.9 246.8 L1047.4 247.0 L1047.9 246.2 L1048.3 246.8 L1048.8 247.6 L1049.3 247.6 L1049.8 248.0 L1050.2 248.4 L1050.7 248.5 L1051.2 248.4 L1051.6 248.4 L1052.1 249.0 L1052.6 248.7 L1053.0 249.1 L1053.5 249.4 L1054.0 248.8 L1054.4 249.0 L1054.9 249.6 L1055.4 249.4 L1055.9 249.6 L1056.3 249.5 L1056.8 249.7 L1057.3 250.1 L1057.7 250.3 L1058.2 250.3 L1058.7 250.8 L1059.1 251.0 L1059.6 251.5 L1060.1 251.2 L1060.6 250.7 L1061.0 250.8 L1061.5 250.6 L1062.0 250.8 L1062.4 251.2 L1062.9 251.3 L1063.4 251.4 L1063.8 251.4 L1064.3 251.8 L1064.8 251.8 L1065.2 252.2 L1065.7 252.2 L1066.2 252.3 L1066.7 252.7 L1067.1 252.5 L1067.6 252.8 L1068.1 253.1 L1068.5 253.4 L1069.0 254.2 L1069.5 254.3 L1069.9 254.2 L1070.4 253.8 L1070.9 254.0 L1071.3 253.6 L1071.8 253.8 L1072.3 253.7 L1072.8 253.5 L1073.2 252.2 L1073.7 251.8 L1074.2 250.8 L1074.6 249.7 L1075.1 249.5 L1075.6 249.3 L1076.0 248.9 L1076.5 248.8 L1077.0 249.5 L1077.4 249.7 L1077.9 250.3 L1078.4 250.7 L1078.9 250.7 L1079.3 250.8 L1079.8 251.3 L1080.3 252.0 L1080.7 252.6 L1081.2 253.0 L1081.7 252.8 L1082.1 253.1 L1082.6 253.6 L1083.1 253.2 L1083.6 253.3 L1084.0 253.1 L1084.5 253.0 L1085.0 253.4 L1085.4 253.1 L1085.9 252.7 L1086.4 252.5 L1086.8 252.0 L1087.3 252.3 L1087.8 252.2 L1088.2 252.3 L1088.7 252.5 L1089.2 252.8 L1089.7 253.1 L1090.1 253.3 L1090.6 252.7 L1091.1 252.5 L1091.5 252.2 L1092.0 252.5 L1092.5 252.5 L1092.9 252.8 L1093.4 252.9 L1093.9 253.2 L1094.3 253.5 L1094.8 253.9 L1095.3 254.5 L1095.8 256.0 L1096.2 257.0 L1096.7 258.3 L1097.2 260.2 L1097.6 261.3 L1098.1 261.7 L1098.6 262.3 L1099.0 263.4 L1099.5 262.9 L1100.0 264.5 L1100.4 265.0 L1100.9 265.1 L1101.4 264.8 L1101.9 265.9 L1102.3 265.9 L1102.8 265.3 L1103.3 265.0 L1103.7 265.4 L1104.2 265.4 L1104.7 265.7 L1105.1 265.5 L1105.6 265.9 L1106.1 266.4 L1106.6 266.5 L1107.0 266.5 L1107.5 267.3 L1108.0 267.0 L1108.4 267.1 L1108.9 267.5 L1109.4 268.2 L1109.8 268.6 L1110.3 269.4 L1110.8 269.6 L1111.2 269.9 L1111.7 270.1 L1112.2 271.1 L1112.7 271.5 L1113.1 271.9 L1113.6 271.4 L1114.1 271.4 L1114.5 272.1 L1115.0 272.6 L1115.5 272.8 L1115.9 272.3 L1116.4 272.8 L1116.9 273.3 L1117.3 273.9 L1117.8 274.1 L1118.3 272.6 L1118.8 272.5 L1119.2 271.9 L1119.7 270.3 L1120.2 270.5 L1120.6 271.5 L1121.1 271.0 L1121.6 271.9 L1122.0 271.7 L1122.5 273.0 L1123.0 273.1 L1123.4 272.5 L1123.9 272.4 L1124.4 272.2 L1124.9 271.6 L1125.3 271.2 L1125.8 271.2 L1126.3 271.2 L1126.7 270.0 L1127.2 269.6 L1127.7 269.3 L1128.1 269.4 L1128.6 268.8 L1129.1 268.1 L1129.5 266.9 L1130.0 265.5 L1130.5 265.2 L1131.0 264.3 L1131.4 264.0 L1131.9 263.5 L1132.4 263.2 L1132.8 262.5 L1133.3 261.9 L1133.8 261.9 L1134.2 261.7 L1134.7 261.4 L1135.2 261.7 L1135.7 260.8 L1136.1 261.3 L1136.6 261.2 L1137.1 261.3 L1137.5 260.5 L1138.0 260.8" stroke="#3da9dc" stroke-width="4"/>
<path d="M167.8 213.0 L168.3 210.9 L168.7 209.5 L169.2 208.2 L169.7 205.9 L170.1 205.8 L170.6 205.8 L171.1 204.3 L171.6 204.9 L172.0 207.0 L172.5 208.6 L173.0 209.4 L173.4 209.7 L173.9 210.3 L174.4 211.1 L174.8 211.7 L175.3 212.7 L175.8 213.6 L176.2 213.8 L176.7 214.5 L177.2 215.7 L177.7 214.8 L178.1 214.6 L178.6 214.5 L179.1 212.9 L179.5 212.3 L180.0 212.4 L180.5 211.7 L180.9 209.5 L181.4 210.1 L181.9 209.5 L182.4 209.2 L182.8 208.9 L183.3 208.6 L183.8 209.1 L184.2 209.2 L184.7 208.9 L185.2 208.1 L185.6 206.6 L186.1 204.9 L186.6 205.3 L187.0 204.8 L187.5 205.5 L188.0 205.5 L188.5 205.2 L188.9 205.1 L189.4 205.5 L189.9 207.3 L190.3 205.6 L190.8 205.3 L191.3 205.1 L191.7 203.8 L192.2 203.7 L192.7 204.6 L193.1 203.7 L193.6 203.4 L194.1 204.2 L194.6 202.9 L195.0 202.3 L195.5 202.8 L196.0 200.8 L196.4 200.7 L196.9 201.4 L197.4 200.5 L197.8 200.1 L198.3 200.1 L198.8 201.9 L199.2 201.5 L199.7 201.6 L200.2 200.9 L200.7 200.2 L201.1 199.0 L201.6 198.5 L202.1 198.4 L202.5 198.6 L203.0 197.2 L203.5 196.2 L203.9 196.2 L204.4 196.1 L204.9 195.5 L205.4 197.1 L205.8 196.3 L206.3 197.9 L206.8 196.9 L207.2 196.0 L207.7 196.6 L208.2 199.2 L208.6 200.7 L209.1 202.6 L209.6 203.8 L210.0 202.3 L210.5 201.9 L211.0 201.5 L211.5 201.4 L211.9 200.3 L212.4 199.3 L212.9 197.6 L213.3 198.0 L213.8 196.2 L214.3 198.0 L214.7 198.8 L215.2 199.4 L215.7 200.5 L216.1 199.8 L216.6 200.3 L217.1 201.5 L217.6 201.2 L218.0 200.3 L218.5 201.6 L219.0 201.4 L219.4 201.7 L219.9 200.3 L220.4 201.0 L220.8 201.2 L221.3 201.0 L221.8 199.0 L222.2 199.3 L222.7 198.2 L223.2 200.4 L223.7 200.7 L224.1 201.0 L224.6 202.1 L225.1 202.7 L225.5 202.9 L226.0 204.2 L226.5 205.7 L226.9 204.8 L227.4 204.7 L227.9 206.5 L228.3 207.6 L228.8 210.6 L229.3 210.4 L229.8 212.5 L230.2 212.7 L230.7 211.3 L231.2 213.0 L231.6 213.1 L232.1 213.7 L232.6 214.4 L233.0 214.3 L233.5 213.4 L234.0 214.1 L234.5 213.9 L234.9 213.1 L235.4 213.4 L235.9 213.9 L236.3 212.3 L236.8 212.3 L237.3 211.4 L237.7 212.7 L238.2 211.8 L238.7 213.3 L239.1 214.3 L239.6 214.0 L240.1 213.9 L240.6 213.5 L241.0 213.9 L241.5 213.3 L242.0 212.7 L242.4 213.6 L242.9 214.4 L243.4 213.8 L243.8 212.5 L244.3 211.7 L244.8 211.8 L245.2 212.0 L245.7 211.2 L246.2 210.0 L246.7 210.2 L247.1 208.8 L247.6 208.7 L248.1 208.3 L248.5 208.5 L249.0 207.7 L249.5 208.3 L249.9 209.6 L250.4 208.8 L250.9 209.3 L251.3 208.6 L251.8 208.9 L252.3 209.6 L252.8 209.3 L253.2 209.4 L253.7 209.7 L254.2 209.2 L254.6 208.3 L255.1 208.4 L255.6 208.4 L256.0 208.7 L256.5 208.3 L257.0 208.4 L257.5 208.1 L257.9 208.4 L258.4 207.2 L258.9 208.9 L259.3 208.6 L259.8 208.0 L260.3 207.2 L260.7 208.1 L261.2 208.1 L261.7 207.1 L262.1 205.9 L262.6 205.1 L263.1 206.3 L263.6 205.7 L264.0 204.1 L264.5 203.7 L265.0 203.9 L265.4 203.4 L265.9 203.7 L266.4 202.2 L266.8 202.3 L267.3 202.4 L267.8 203.0 L268.2 202.9 L268.7 203.5 L269.2 203.8 L269.7 203.9 L270.1 204.4 L270.6 204.4 L271.1 205.0 L271.5 204.5 L272.0 205.2 L272.5 205.4 L272.9 205.6 L273.4 206.6 L273.9 205.9 L274.3 206.9 L274.8 208.3 L275.3 207.4 L275.8 207.7 L276.2 208.9 L276.7 208.7 L277.2 208.5 L277.6 208.6 L278.1 209.9 L278.6 209.6 L279.0 210.3 L279.5 210.5 L280.0 210.5 L280.5 210.8 L280.9 209.9 L281.4 210.3 L281.9 209.5 L282.3 209.3 L282.8 209.5 L283.3 208.9 L283.7 208.1 L284.2 207.3 L284.7 208.4 L285.1 207.8 L285.6 208.5 L286.1 208.6 L286.6 210.6 L287.0 211.7 L287.5 211.0 L288.0 211.9 L288.4 212.2 L288.9 212.3 L289.4 214.2 L289.8 214.3 L290.3 213.1 L290.8 213.1 L291.2 213.5 L291.7 213.3 L292.2 213.6 L292.7 213.2 L293.1 212.8 L293.6 213.4 L294.1 213.2 L294.5 213.3 L295.0 213.0 L295.5 212.8 L295.9 214.0 L296.4 213.3 L296.9 213.2 L297.3 214.4 L297.8 214.8 L298.3 215.9 L298.8 215.9 L299.2 215.8 L299.7 216.9 L300.2 217.4 L300.6 218.0 L301.1 218.4 L301.6 218.5 L302.0 218.7 L302.5 217.9 L303.0 218.0 L303.4 218.8 L303.9 218.5 L304.4 219.4 L304.9 219.2 L305.3 220.9 L305.8 220.8 L306.3 222.1 L306.7 223.4 L307.2 223.4 L307.7 224.5 L308.1 225.1 L308.6 224.9 L309.1 224.7 L309.6 223.9 L310.0 223.5 L310.5 223.0 L311.0 223.0 L311.4 222.6 L311.9 222.8 L312.4 222.2 L312.8 222.6 L313.3 224.4 L313.8 225.4 L314.2 224.4 L314.7 224.9 L315.2 224.9 L315.7 225.1 L316.1 225.0 L316.6 223.8 L317.1 224.5 L317.5 224.3 L318.0 224.1 L318.5 224.7 L318.9 224.8 L319.4 224.6 L319.9 224.4 L320.3 224.3 L320.8 225.4 L321.3 225.9 L321.8 224.6 L322.2 225.0 L322.7 224.7 L323.2 225.3 L323.6 225.7 L324.1 224.6 L324.6 225.6 L325.0 226.0 L325.5 225.4 L326.0 225.3 L326.4 225.9 L326.9 225.3 L327.4 224.6 L327.9 225.5 L328.3 225.4 L328.8 224.7 L329.3 223.9 L329.7 224.9 L330.2 224.1 L330.7 223.1 L331.1 222.7 L331.6 222.3 L332.1 221.6 L332.6 220.5 L333.0 220.5 L333.5 220.0 L334.0 219.8 L334.4 219.9 L334.9 219.6 L335.4 220.5 L335.8 220.6 L336.3 220.0 L336.8 219.6 L337.2 219.4 L337.7 219.8 L338.2 219.9 L338.7 220.2 L339.1 219.4 L339.6 219.0 L340.1 218.3 L340.5 217.5 L341.0 216.7 L341.5 216.3 L341.9 216.5 L342.4 217.2 L342.9 217.6 L343.3 217.8 L343.8 218.0 L344.3 218.7 L344.8 218.4 L345.2 218.9 L345.7 218.4 L346.2 218.1 L346.6 218.8 L347.1 219.6 L347.6 219.0 L348.0 220.1 L348.5 219.9 L349.0 220.6 L349.4 221.2 L349.9 221.6 L350.4 221.6 L350.9 221.3 L351.3 220.1 L351.8 219.7 L352.3 220.1 L352.7 219.8 L353.2 219.2 L353.7 219.5 L354.1 218.2 L354.6 218.4 L355.1 218.0 L355.5 218.5 L356.0 219.1 L356.5 219.4 L357.0 219.4 L357.4 218.6 L357.9 218.8 L358.4 218.2 L358.8 218.5 L359.3 218.9 L359.8 218.3 L360.2 218.3 L360.7 218.8 L361.2 218.1 L361.7 217.4 L362.1 218.0 L362.6 219.0 L363.1 219.3 L363.5 219.8 L364.0 219.5 L364.5 219.9 L364.9 219.7 L365.4 219.2 L365.9 218.3 L366.3 219.2 L366.8 220.0 L367.3 218.3 L367.8 218.1 L368.2 218.3 L368.7 217.9 L369.2 218.6 L369.6 218.6 L370.1 218.0 L370.6 218.3 L371.0 218.1 L371.5 217.8 L372.0 217.8 L372.4 218.0 L372.9 217.5 L373.4 216.8 L373.9 216.4 L374.3 217.3 L374.8 217.0 L375.3 218.5 L375.7 218.9 L376.2 218.2 L376.7 218.0 L377.1 217.7 L377.6 219.3 L378.1 218.7 L378.5 219.7 L379.0 220.4 L379.5 220.5 L380.0 220.4 L380.4 221.5 L380.9 222.6 L381.4 222.6 L381.8 222.5 L382.3 221.6 L382.8 221.6 L383.2 221.8 L383.7 222.0 L384.2 222.0 L384.7 221.3 L385.1 222.3 L385.6 222.2 L386.1 222.4 L386.5 221.6 L387.0 221.8 L387.5 222.4 L387.9 222.0 L388.4 221.3 L388.9 221.5 L389.3 222.8 L389.8 222.9 L390.3 222.2 L390.8 223.4 L391.2 223.7 L391.7 223.0 L392.2 222.1 L392.6 222.2 L393.1 221.5 L393.6 221.3 L394.0 220.8 L394.5 221.3 L395.0 221.9 L395.4 222.1 L395.9 221.0 L396.4 220.0 L396.9 219.7 L397.3 220.6 L397.8 220.9 L398.3 220.2 L398.7 220.1 L399.2 220.7 L399.7 220.3 L400.1 220.2 L400.6 219.9 L401.1 219.7 L401.5 219.8 L402.0 220.1 L402.5 220.1 L403.0 220.4 L403.4 220.7 L403.9 220.7 L404.4 220.0 L404.8 220.2 L405.3 219.5 L405.8 218.6 L406.2 218.1 L406.7 219.9 L407.2 219.4 L407.7 218.6 L408.1 219.0 L408.6 219.5 L409.1 220.2 L409.5 220.2 L410.0 219.9 L410.5 221.0 L410.9 220.7 L411.4 221.2 L411.9 221.1 L412.3 221.7 L412.8 221.6 L413.3 221.7 L413.8 222.3 L414.2 222.4 L414.7 221.6 L415.2 221.4 L415.6 222.1 L416.1 221.9 L416.6 222.8 L417.0 223.0 L417.5 224.4 L418.0 223.5 L418.4 222.4 L418.9 222.3 L419.4 221.6 L419.9 222.1 L420.3 221.9 L420.8 222.0 L421.3 222.6 L421.7 221.2 L422.2 222.0 L422.7 222.7 L423.1 222.2 L423.6 221.6 L424.1 221.3 L424.5 221.3 L425.0 220.9 L425.5 220.6 L426.0 220.6 L426.4 221.7 L426.9 220.5 L427.4 221.3 L427.8 222.8 L428.3 222.2 L428.8 222.6 L429.2 222.7 L429.7 222.0 L430.2 223.0 L430.7 223.7 L431.1 224.1 L431.6 223.8 L432.1 223.5 L432.5 223.6 L433.0 223.8 L433.5 225.0 L433.9 224.5 L434.4 223.9 L434.9 224.6 L435.3 225.2 L435.8 225.8 L436.3 225.6 L436.8 226.3 L437.2 225.0 L437.7 225.5 L438.2 225.9 L438.6 226.1 L439.1 225.2 L439.6 224.4 L440.0 224.6 L440.5 224.3 L441.0 224.0 L441.4 223.5 L441.9 223.3 L442.4 223.1 L442.9 224.3 L443.3 222.9 L443.8 223.8 L444.3 224.6 L444.7 224.9 L445.2 224.4 L445.7 224.1 L446.1 223.2 L446.6 223.4 L447.1 224.6 L447.5 224.9 L448.0 225.5 L448.5 226.0 L449.0 226.2 L449.4 226.8 L449.9 226.2 L450.4 226.5 L450.8 226.6 L451.3 227.1 L451.8 227.9 L452.2 227.6 L452.7 227.9 L453.2 227.1 L453.6 226.8 L454.1 227.7 L454.6 227.9 L455.1 227.7 L455.5 227.3 L456.0 226.4 L456.5 226.4 L456.9 226.0 L457.4 226.4 L457.9 226.5 L458.3 226.0 L458.8 226.4 L459.3 225.8 L459.8 226.5 L460.2 226.7 L460.7 226.9 L461.2 227.1 L461.6 226.8 L462.1 228.0 L462.6 228.6 L463.0 229.2 L463.5 228.4 L464.0 228.7 L464.4 229.1 L464.9 229.1 L465.4 230.1 L465.9 229.4 L466.3 229.4 L466.8 229.3 L467.3 229.3 L467.7 229.3 L468.2 229.3 L468.7 229.6 L469.1 229.6 L469.6 229.3 L470.1 230.4 L470.5 229.7 L471.0 229.5 L471.5 230.3 L472.0 230.0 L472.4 230.0 L472.9 230.5 L473.4 229.8 L473.8 230.2 L474.3 230.7 L474.8 231.6 L475.2 230.7 L475.7 231.3 L476.2 231.4 L476.6 231.7 L477.1 230.9 L477.6 231.5 L478.1 230.7 L478.5 230.3 L479.0 230.0 L479.5 229.8 L479.9 229.6 L480.4 230.0 L480.9 231.0 L481.3 231.7 L481.8 230.4 L482.3 231.2 L482.8 230.1 L483.2 228.9 L483.7 230.3 L484.2 229.7 L484.6 229.4 L485.1 229.7 L485.6 230.0 L486.0 229.0 L486.5 227.6 L487.0 227.5 L487.4 227.1 L487.9 226.7 L488.4 226.3 L488.9 225.7 L489.3 224.6 L489.8 225.4 L490.3 226.1 L490.7 225.1 L491.2 225.4 L491.7 225.6 L492.1 226.2 L492.6 225.9 L493.1 225.7 L493.5 225.0 L494.0 225.1 L494.5 225.5 L495.0 224.9 L495.4 224.9 L495.9 225.8 L496.4 225.5 L496.8 224.6 L497.3 224.5 L497.8 224.5 L498.2 223.9 L498.7 224.1 L499.2 224.1 L499.6 223.3 L500.1 223.2 L500.6 223.3 L501.1 222.8 L501.5 222.4 L502.0 221.8 L502.5 221.7 L502.9 222.2 L503.4 222.6 L503.9 223.3 L504.3 223.0 L504.8 223.1 L505.3 222.6 L505.8 222.4 L506.2 222.7 L506.7 223.3 L507.2 223.6 L507.6 223.2 L508.1 223.1 L508.6 224.3 L509.0 226.1 L509.5 225.3 L510.0 226.0 L510.4 225.7 L510.9 225.4 L511.4 224.8 L511.9 225.7 L512.3 226.3 L512.8 227.0 L513.3 227.1 L513.7 228.1 L514.2 227.9 L514.7 228.2 L515.1 228.1 L515.6 228.5 L516.1 228.4 L516.5 228.3 L517.0 228.3 L517.5 228.6 L518.0 228.4 L518.4 228.0 L518.9 227.5 L519.4 227.4 L519.8 228.2 L520.3 228.3 L520.8 228.3 L521.2 228.3 L521.7 228.6 L522.2 228.8 L522.6 229.3 L523.1 229.3 L523.6 229.5 L524.1 230.3 L524.5 230.3 L525.0 231.1 L525.5 230.4 L525.9 230.0 L526.4 230.5 L526.9 230.4 L527.3 230.4 L527.8 230.7 L528.3 230.1 L528.7 230.3 L529.2 230.1 L529.7 230.1 L530.2 229.2 L530.6 229.9 L531.1 229.3 L531.6 229.4 L532.0 229.0 L532.5 228.9 L533.0 227.9 L533.4 228.2 L533.9 228.2 L534.4 227.8 L534.9 227.8 L535.3 227.7 L535.8 226.3 L536.3 226.7 L536.7 226.8 L537.2 225.8 L537.7 225.9 L538.1 225.5 L538.6 226.6 L539.1 226.6 L539.5 226.2 L540.0 226.3 L540.5 226.4 L541.0 226.2 L541.4 226.5 L541.9 226.1 L542.4 226.0 L542.8 226.6 L543.3 226.3 L543.8 226.0 L544.2 227.1 L544.7 227.0 L545.2 227.1 L545.6 227.0 L546.1 228.5 L546.6 227.5 L547.1 228.9 L547.5 228.7 L548.0 227.4 L548.5 228.5 L548.9 227.4 L549.4 227.5 L549.9 226.7 L550.3 226.4 L550.8 226.7 L551.3 227.5 L551.7 227.8 L552.2 228.4 L552.7 228.8 L553.2 227.9 L553.6 228.1 L554.1 227.3 L554.6 227.0 L555.0 226.8 L555.5 227.1 L556.0 227.2 L556.4 226.2 L556.9 226.8 L557.4 227.0 L557.9 226.9 L558.3 226.6 L558.8 226.0 L559.3 225.9 L559.7 226.5 L560.2 226.9 L560.7 227.2 L561.1 227.9 L561.6 228.3 L562.1 229.3 L562.5 228.6 L563.0 228.7 L563.5 228.3 L564.0 227.3 L564.4 227.5 L564.9 227.6 L565.4 227.8 L565.8 228.5 L566.3 229.0 L566.8 229.7 L567.2 229.7 L567.7 229.5 L568.2 229.2 L568.6 229.2 L569.1 229.7 L569.6 230.3 L570.1 230.1 L570.5 229.9 L571.0 230.8 L571.5 230.4 L571.9 231.1 L572.4 231.1 L572.9 231.1 L573.3 231.6 L573.8 231.5 L574.3 231.2 L574.7 231.5 L575.2 230.9 L575.7 230.6 L576.2 230.4 L576.6 231.0 L577.1 230.8 L577.6 230.9 L578.0 230.7 L578.5 230.4 L579.0 230.8 L579.4 230.7 L579.9 230.3 L580.4 230.6 L580.8 230.3 L581.3 230.6 L581.8 231.4 L582.3 231.3 L582.7 231.2 L583.2 231.4 L583.7 230.6 L584.1 231.1 L584.6 231.9 L585.1 231.7 L585.5 231.8 L586.0 231.5 L586.5 230.7 L587.0 231.7 L587.4 232.1 L587.9 233.2 L588.4 234.0 L588.8 234.4 L589.3 234.4 L589.8 234.7 L590.2 234.8 L590.7 234.7 L591.2 234.7 L591.6 234.4 L592.1 233.6 L592.6 234.2 L593.1 233.8 L593.5 233.4 L594.0 234.3 L594.5 233.9 L594.9 233.7 L595.4 234.9 L595.9 234.0 L596.3 233.5 L596.8 233.7 L597.3 232.6 L597.7 233.4 L598.2 232.5 L598.7 232.3 L599.2 232.7 L599.6 232.2 L600.1 232.9 L600.6 232.3 L601.0 232.1 L601.5 231.8 L602.0 231.2 L602.4 231.6 L602.9 231.1 L603.4 231.2 L603.8 232.0 L604.3 230.6 L604.8 229.7 L605.3 229.5 L605.7 229.0 L606.2 229.6 L606.7 230.6 L607.1 230.6 L607.6 230.3 L608.1 229.9 L608.5 229.9 L609.0 230.6 L609.5 230.6 L610.0 230.2 L610.4 229.4 L610.9 229.8 L611.4 230.1 L611.8 229.8 L612.3 229.0 L612.8 228.4 L613.2 229.2 L613.7 228.9 L614.2 228.5 L614.6 228.6 L615.1 229.2 L615.6 228.7 L616.1 228.7 L616.5 228.7 L617.0 227.3 L617.5 227.4 L617.9 227.0 L618.4 226.3 L618.9 226.1 L619.3 226.7 L619.8 227.4 L620.3 227.5 L620.7 228.1 L621.2 228.2 L621.7 228.4 L622.2 229.2 L622.6 229.4 L623.1 229.9 L623.6 229.6 L624.0 229.3 L624.5 228.6 L625.0 228.4 L625.4 228.5 L625.9 228.0 L626.4 228.8 L626.8 228.5 L627.3 229.4 L627.8 229.6 L628.3 228.6 L628.7 228.7 L629.2 229.4 L629.7 229.4 L630.1 229.9 L630.6 230.2 L631.1 230.2 L631.5 230.6 L632.0 230.2 L632.5 229.7 L633.0 230.3 L633.4 230.6 L633.9 230.7 L634.4 230.7 L634.8 230.4 L635.3 230.7 L635.8 230.9 L636.2 230.9 L636.7 230.2 L637.2 229.9 L637.6 230.2 L638.1 230.9 L638.6 231.9 L639.1 231.7 L639.5 231.1 L640.0 232.0 L640.5 232.5 L640.9 232.0 L641.4 232.0 L641.9 232.2 L642.3 231.6 L642.8 232.3 L643.3 233.0 L643.7 233.2 L644.2 233.2 L644.7 233.3 L645.2 232.6 L645.6 232.4 L646.1 232.8 L646.6 232.2 L647.0 232.2 L647.5 231.4 L648.0 231.1 L648.4 231.5 L648.9 231.4 L649.4 232.2 L649.8 231.9 L650.3 232.0 L650.8 231.8 L651.3 232.5 L651.7 232.6 L652.2 232.6 L652.7 232.7 L653.1 232.5 L653.6 233.1 L654.1 234.0 L654.5 233.9 L655.0 233.5 L655.5 233.4 L656.0 234.3 L656.4 234.0 L656.9 234.2 L657.4 234.1 L657.8 234.3 L658.3 233.9 L658.8 234.4 L659.2 233.5 L659.7 233.5 L660.2 234.0 L660.6 234.1 L661.1 233.0 L661.6 233.2 L662.1 233.3 L662.5 232.8 L663.0 232.9 L663.5 232.8 L663.9 233.8 L664.4 233.8 L664.9 233.3 L665.3 232.6 L665.8 232.5 L666.3 232.4 L666.7 232.2 L667.2 231.5 L667.7 231.6 L668.2 232.3 L668.6 233.0 L669.1 232.7 L669.6 232.7 L670.0 231.8 L670.5 232.5 L671.0 232.2 L671.4 233.3 L671.9 232.8 L672.4 233.6 L672.8 233.5 L673.3 233.7 L673.8 233.8 L674.3 234.0 L674.7 234.7 L675.2 234.6 L675.7 235.3 L676.1 235.5 L676.6 236.1 L677.1 236.2 L677.5 236.5 L678.0 236.9 L678.5 237.4 L678.9 236.7 L679.4 236.9 L679.9 236.8 L680.4 237.6 L680.8 236.9 L681.3 237.3 L681.8 236.9 L682.2 237.3 L682.7 236.2 L683.2 237.0 L683.6 236.8 L684.1 237.1 L684.6 237.2 L685.1 237.4 L685.5 236.4 L686.0 235.6 L686.5 236.3 L686.9 236.3 L687.4 236.8 L687.9 237.4 L688.3 236.6 L688.8 236.7 L689.3 237.4 L689.7 237.4 L690.2 237.2 L690.7 237.2 L691.2 237.0 L691.6 237.0 L692.1 237.3 L692.6 237.7 L693.0 238.0 L693.5 238.5 L694.0 238.0 L694.4 238.6 L694.9 238.9 L695.4 239.0 L695.8 238.4 L696.3 238.3 L696.8 237.2 L697.3 237.1 L697.7 236.7 L698.2 235.9 L698.7 235.5 L699.1 235.3 L699.6 235.3 L700.1 235.7 L700.5 235.9 L701.0 236.3 L701.5 236.4 L701.9 236.3 L702.4 235.9 L702.9 235.9 L703.4 235.8 L703.8 235.3 L704.3 235.6 L704.8 236.3 L705.2 235.9 L705.7 235.1 L706.2 236.5 L706.6 236.1 L707.1 236.4 L707.6 236.7 L708.1 236.1 L708.5 236.2 L709.0 236.2 L709.5 236.7 L709.9 236.7 L710.4 236.9 L710.9 236.3 L711.3 236.7 L711.8 237.7 L712.3 237.7 L712.7 236.4 L713.2 236.4 L713.7 236.0 L714.2 235.5 L714.6 234.9 L715.1 234.5 L715.6 234.5 L716.0 234.3 L716.5 233.9 L717.0 234.4 L717.4 234.3 L717.9 234.0 L718.4 234.3 L718.8 234.8 L719.3 234.2 L719.8 234.6 L720.3 235.0 L720.7 236.3 L721.2 235.5 L721.7 235.3 L722.1 235.6 L722.6 235.8 L723.1 236.3 L723.5 235.6 L724.0 235.6 L724.5 235.1 L724.9 234.9 L725.4 236.3 L725.9 236.0 L726.4 236.8 L726.8 236.2 L727.3 236.0 L727.8 236.1 L728.2 235.7 L728.7 235.7 L729.2 235.9 L729.6 235.9 L730.1 235.5 L730.6 235.5 L731.0 235.4 L731.5 235.6 L732.0 235.9 L732.5 236.2 L732.9 236.0 L733.4 236.0 L733.9 235.8 L734.3 235.0 L734.8 234.7 L735.3 235.0 L735.7 235.0 L736.2 235.4 L736.7 235.0 L737.2 235.5 L737.6 235.7 L738.1 236.3 L738.6 236.6 L739.0 236.9 L739.5 236.5 L740.0 236.4 L740.4 236.3 L740.9 236.5 L741.4 236.3 L741.8 236.0 L742.3 236.0 L742.8 236.6 L743.3 235.4 L743.7 235.4 L744.2 235.2 L744.7 235.2 L745.1 235.8 L745.6 235.9 L746.1 236.1 L746.5 235.4 L747.0 235.2 L747.5 235.4 L747.9 234.9 L748.4 233.8 L748.9 234.3 L749.4 234.3 L749.8 233.7 L750.3 234.6 L750.8 234.6 L751.2 234.3 L751.7 234.4 L752.2 235.0 L752.6 235.0 L753.1 235.0 L753.6 234.7 L754.0 234.4 L754.5 235.3 L755.0 234.9 L755.5 234.9 L755.9 234.5 L756.4 234.5 L756.9 234.1 L757.3 234.6 L757.8 233.9 L758.3 233.4 L758.7 232.7 L759.2 232.2 L759.7 232.6 L760.2 232.9 L760.6 232.2 L761.1 232.2 L761.6 232.3 L762.0 232.2 L762.5 233.0 L763.0 233.2 L763.4 233.2 L763.9 233.4 L764.4 232.4 L764.8 233.3 L765.3 233.2 L765.8 233.2 L766.3 233.7 L766.7 233.5 L767.2 233.9 L767.7 234.4 L768.1 234.7 L768.6 233.9 L769.1 234.1 L769.5 234.0 L770.0 233.7 L770.5 233.7 L770.9 234.3 L771.4 234.0 L771.9 233.8 L772.4 234.8 L772.8 234.3 L773.3 234.2 L773.8 234.0 L774.2 234.1 L774.7 234.3 L775.2 234.5 L775.6 233.9 L776.1 233.7 L776.6 233.6 L777.0 234.0 L777.5 233.6 L778.0 233.5 L778.5 233.5 L778.9 234.2 L779.4 234.2 L779.9 234.1 L780.3 234.8 L780.8 234.8 L781.3 234.3 L781.7 234.7 L782.2 234.4 L782.7 234.1 L783.2 234.6 L783.6 233.9 L784.1 233.6 L784.6 232.8 L785.0 232.7 L785.5 232.7 L786.0 232.8 L786.4 232.7 L786.9 233.6 L787.4 233.4 L787.8 233.2 L788.3 233.2 L788.8 233.6 L789.3 234.5 L789.7 234.5 L790.2 234.4 L790.7 234.5 L791.1 234.6 L791.6 234.0 L792.1 233.6 L792.5 234.4 L793.0 234.9 L793.5 235.1 L793.9 234.9 L794.4 235.9 L794.9 236.5 L795.4 236.7 L795.8 236.0 L796.3 236.3 L796.8 236.3 L797.2 236.0 L797.7 236.4 L798.2 237.1 L798.6 237.9 L799.1 237.3 L799.6 237.4 L800.0 237.6 L800.5 237.5 L801.0 238.0 L801.5 238.0 L801.9 238.1 L802.4 238.7 L802.9 238.3 L803.3 237.9 L803.8 237.3 L804.3 237.2 L804.7 236.6 L805.2 236.6 L805.7 236.9 L806.1 236.7 L806.6 236.7 L807.1 236.9 L807.6 236.6 L808.0 236.3 L808.5 236.7 L809.0 236.6 L809.4 236.3 L809.9 235.9 L810.4 236.4 L810.8 236.8 L811.3 237.1 L811.8 237.7 L812.3 237.3 L812.7 237.6 L813.2 237.9 L813.7 238.2 L814.1 237.3 L814.6 236.9 L815.1 236.9 L815.5 237.2 L816.0 237.9 L816.5 238.7 L816.9 238.7 L817.4 238.8 L817.9 239.0 L818.4 240.3 L818.8 241.8 L819.3 242.1 L819.8 241.9 L820.2 242.1 L820.7 241.9 L821.2 241.7 L821.6 241.6 L822.1 241.6 L822.6 241.0 L823.0 240.5 L823.5 240.5 L824.0 241.0 L824.5 241.2 L824.9 241.0 L825.4 241.0 L825.9 240.9 L826.3 240.0 L826.8 240.7 L827.3 240.3 L827.7 240.2 L828.2 239.6 L828.7 238.6 L829.1 238.4 L829.6 237.8 L830.1 238.0 L830.6 237.5 L831.0 237.2 L831.5 237.8 L832.0 238.2 L832.4 238.8 L832.9 237.9 L833.4 238.1 L833.8 237.6 L834.3 237.8 L834.8 238.1 L835.3 238.1 L835.7 238.4 L836.2 238.3 L836.7 238.7 L837.1 239.0 L837.6 238.8 L838.1 239.0 L838.5 238.9 L839.0 238.6 L839.5 238.5 L839.9 238.7 L840.4 238.0 L840.9 238.6 L841.4 238.5 L841.8 238.3 L842.3 237.7 L842.8 237.5 L843.2 237.4 L843.7 236.9 L844.2 237.3 L844.6 237.8 L845.1 237.3 L845.6 237.0 L846.0 237.7 L846.5 237.9 L847.0 237.7 L847.5 237.5 L847.9 237.4 L848.4 237.1 L848.9 237.7 L849.3 237.5 L849.8 238.2 L850.3 237.9 L850.7 238.0 L851.2 238.5 L851.7 238.8 L852.1 239.1 L852.6 239.3 L853.1 239.8 L853.6 239.6 L854.0 239.6 L854.5 240.1 L855.0 240.1 L855.4 239.9 L855.9 240.0 L856.4 240.0 L856.8 240.0 L857.3 241.2 L857.8 241.5 L858.3 241.6 L858.7 241.4 L859.2 241.1 L859.7 241.9 L860.1 241.7 L860.6 241.7 L861.1 241.2 L861.5 241.1 L862.0 241.3 L862.5 241.0 L862.9 240.7 L863.4 240.2 L863.9 239.8 L864.4 239.2 L864.8 239.0 L865.3 238.8 L865.8 238.4 L866.2 238.3 L866.7 239.0 L867.2 238.4 L867.6 238.4 L868.1 237.8 L868.6 238.3 L869.0 238.7 L869.5 239.2 L870.0 239.0 L870.5 238.5 L870.9 238.9 L871.4 238.6 L871.9 238.6 L872.3 239.5 L872.8 239.4 L873.3 239.6 L873.7 239.5 L874.2 240.3 L874.7 239.9 L875.1 240.1 L875.6 239.9 L876.1 240.2 L876.6 240.4 L877.0 240.4 L877.5 240.3 L878.0 240.5 L878.4 241.5 L878.9 242.2 L879.4 243.1 L879.8 243.3 L880.3 243.3 L880.8 243.2 L881.3 243.7 L881.7 243.6 L882.2 243.5 L882.7 243.1 L883.1 243.2 L883.6 243.4 L884.1 243.4 L884.5 243.7 L885.0 243.7 L885.5 243.8 L885.9 243.9 L886.4 243.6 L886.9 243.8 L887.4 244.0 L887.8 243.8 L888.3 243.3 L888.8 243.6 L889.2 243.8 L889.7 243.6 L890.2 243.6 L890.6 244.1 L891.1 243.5 L891.6 243.0 L892.0 243.3 L892.5 243.3 L893.0 243.1 L893.5 243.2 L893.9 243.4 L894.4 243.2 L894.9 244.1 L895.3 244.3 L895.8 244.3 L896.3 244.4 L896.7 244.8 L897.2 245.4 L897.7 244.9 L898.1 244.9 L898.6 245.1 L899.1 245.2 L899.6 245.1 L900.0 244.7 L900.5 245.3 L901.0 245.2 L901.4 245.6 L901.9 245.5 L902.4 244.8 L902.8 244.9 L903.3 245.5 L903.8 245.4 L904.2 244.7 L904.7 244.6 L905.2 244.3 L905.7 244.1 L906.1 244.7 L906.6 244.8 L907.1 245.1 L907.5 245.4 L908.0 244.9 L908.5 244.8 L908.9 245.0 L909.4 245.3 L909.9 245.0 L910.4 244.7 L910.8 244.6 L911.3 244.0 L911.8 243.9 L912.2 243.8 L912.7 243.5 L913.2 243.8 L913.6 243.9 L914.1 243.3 L914.6 243.9 L915.0 243.9 L915.5 243.9 L916.0 244.1 L916.5 244.4 L916.9 244.5 L917.4 244.2 L917.9 244.2 L918.3 244.2 L918.8 244.5 L919.3 244.0 L919.7 243.7 L920.2 243.4 L920.7 243.2 L921.1 243.1 L921.6 242.7 L922.1 242.2 L922.6 242.2 L923.0 242.2 L923.5 241.3 L924.0 241.0 L924.4 241.2 L924.9 241.0 L925.4 241.0 L925.8 240.9 L926.3 240.7 L926.8 241.3 L927.2 241.9 L927.7 241.5 L928.2 241.4 L928.7 241.7 L929.1 241.1 L929.6 241.1 L930.1 241.1 L930.5 240.6 L931.0 240.2 L931.5 240.1 L931.9 240.1 L932.4 240.6 L932.9 240.6 L933.4 240.8 L933.8 240.5 L934.3 240.4 L934.8 240.8 L935.2 240.7 L935.7 241.4 L936.2 240.9 L936.6 241.0 L937.1 241.8 L937.6 241.4 L938.0 241.1 L938.5 241.0 L939.0 241.4 L939.5 241.0 L939.9 241.0 L940.4 241.3 L940.9 241.1 L941.3 241.7 L941.8 241.6 L942.3 241.6 L942.7 242.3 L943.2 241.8 L943.7 241.6 L944.1 241.9 L944.6 241.9 L945.1 241.6 L945.6 241.9 L946.0 241.9 L946.5 242.0 L947.0 242.2 L947.4 241.9 L947.9 242.4 L948.4 242.5 L948.8 242.5 L949.3 242.1 L949.8 242.0 L950.2 242.5 L950.7 243.1 L951.2 242.5 L951.7 242.7 L952.1 242.9 L952.6 242.7 L953.1 242.9 L953.5 242.8 L954.0 242.8 L954.5 243.3 L954.9 242.9 L955.4 243.5 L955.9 243.7 L956.4 243.8 L956.8 243.6 L957.3 244.5 L957.8 244.2 L958.2 244.0 L958.7 243.8 L959.2 243.5 L959.6 243.2 L960.1 244.0 L960.6 243.9 L961.0 243.6 L961.5 243.9 L962.0 243.5 L962.5 243.3 L962.9 243.0 L963.4 243.3 L963.9 243.6 L964.3 243.3 L964.8 243.0 L965.3 242.7 L965.7 242.2 L966.2 242.5 L966.7 242.9 L967.1 242.2 L967.6 242.2 L968.1 242.8 L968.6 243.0 L969.0 244.2 L969.5 244.1 L970.0 243.6 L970.4 243.2 L970.9 243.3 L971.4 243.3 L971.8 243.5 L972.3 243.7 L972.8 243.2 L973.2 242.8 L973.7 242.8 L974.2 243.1 L974.7 243.6 L975.1 242.9 L975.6 243.2 L976.1 243.2 L976.5 243.0 L977.0 242.5 L977.5 243.2 L977.9 243.3 L978.4 243.2 L978.9 243.2 L979.3 243.7 L979.8 243.9 L980.3 244.1 L980.8 244.6 L981.2 245.0 L981.7 244.7 L982.2 244.0 L982.6 244.4 L983.1 244.6 L983.6 244.2 L984.0 243.9 L984.5 244.2 L985.0 244.3 L985.5 244.9 L985.9 245.0 L986.4 244.9 L986.9 245.3 L987.3 244.9 L987.8 245.3 L988.3 244.6 L988.7 245.3 L989.2 245.3 L989.7 245.6 L990.1 245.7 L990.6 245.3 L991.1 245.7 L991.6 245.6 L992.0 245.2 L992.5 245.5 L993.0 244.6 L993.4 245.3 L993.9 245.0 L994.4 244.9 L994.8 244.7 L995.3 244.7 L995.8 244.8 L996.2 244.2 L996.7 244.1 L997.2 244.0 L997.7 242.9 L998.1 243.4 L998.6 242.7 L999.1 242.5 L999.5 242.7 L1000.0 243.2 L1000.5 242.9 L1000.9 242.4 L1001.4 241.9 L1001.9 242.1 L1002.3 241.8 L1002.8 242.1 L1003.3 242.1 L1003.8 242.1 L1004.2 241.8 L1004.7 242.3 L1005.2 242.7 L1005.6 242.1 L1006.1 242.3 L1006.6 242.4 L1007.0 242.3 L1007.5 242.4 L1008.0 242.6 L1008.5 242.2 L1008.9 242.2 L1009.4 242.6 L1009.9 242.8 L1010.3 243.1 L1010.8 243.2 L1011.3 243.2 L1011.7 242.8 L1012.2 243.0 L1012.7 242.9 L1013.1 242.7 L1013.6 242.7 L1014.1 242.4 L1014.6 243.0 L1015.0 243.0 L1015.5 243.1 L1016.0 242.8 L1016.4 243.0 L1016.9 242.7 L1017.4 243.1 L1017.8 243.0 L1018.3 242.2 L1018.8 242.4 L1019.2 242.3 L1019.7 242.1 L1020.2 242.3 L1020.7 242.6 L1021.1 242.4 L1021.6 242.5 L1022.1 242.4 L1022.5 242.2 L1023.0 241.8 L1023.5 241.4 L1023.9 241.0 L1024.4 241.4 L1024.9 241.1 L1025.3 240.5 L1025.8 240.7 L1026.3 240.9 L1026.8 240.2 L1027.2 240.3 L1027.7 240.3 L1028.2 240.7 L1028.6 240.2 L1029.1 240.1 L1029.6 240.4 L1030.0 240.3 L1030.5 240.2 L1031.0 240.2 L1031.4 240.2 L1031.9 239.8 L1032.4 240.3 L1032.9 240.9 L1033.3 240.4 L1033.8 239.9 L1034.3 240.4 L1034.7 240.3 L1035.2 240.4 L1035.7 240.7 L1036.1 240.9 L1036.6 240.6 L1037.1 241.1 L1037.6 240.7 L1038.0 239.6 L1038.5 239.0 L1039.0 240.3 L1039.4 240.1 L1039.9 240.2 L1040.4 239.8 L1040.8 239.8 L1041.3 239.8 L1041.8 239.7 L1042.2 239.6 L1042.7 239.6 L1043.2 239.7 L1043.7 239.8 L1044.1 239.7 L1044.6 240.2 L1045.1 240.6 L1045.5 240.5 L1046.0 240.7 L1046.5 240.8 L1046.9 241.3 L1047.4 241.7 L1047.9 241.2 L1048.3 241.7 L1048.8 241.9 L1049.3 241.8 L1049.8 242.0 L1050.2 241.7 L1050.7 241.6 L1051.2 241.6 L1051.6 241.3 L1052.1 241.6 L1052.6 242.0 L1053.0 242.4 L1053.5 242.6 L1054.0 242.7 L1054.4 242.7 L1054.9 242.5 L1055.4 243.0 L1055.9 243.4 L1056.3 244.0 L1056.8 243.2 L1057.3 243.7 L1057.7 243.6 L1058.2 244.4 L1058.7 244.3 L1059.1 244.7 L1059.6 245.3 L1060.1 244.7 L1060.6 244.4 L1061.0 244.6 L1061.5 244.8 L1062.0 244.8 L1062.4 245.0 L1062.9 244.8 L1063.4 244.9 L1063.8 245.0 L1064.3 244.7 L1064.8 244.1 L1065.2 244.7 L1065.7 244.2 L1066.2 244.1 L1066.7 244.0 L1067.1 244.1 L1067.6 244.1 L1068.1 244.9 L1068.5 244.8 L1069.0 245.3 L1069.5 245.2 L1069.9 245.3 L1070.4 245.4 L1070.9 245.5 L1071.3 246.3 L1071.8 246.9 L1072.3 247.0 L1072.8 247.4 L1073.2 247.9 L1073.7 248.3 L1074.2 248.5 L1074.6 248.4 L1075.1 248.4 L1075.6 248.5 L1076.0 248.2 L1076.5 248.3 L1077.0 248.3 L1077.4 248.4 L1077.9 248.3 L1078.4 248.3 L1078.9 248.6 L1079.3 248.7 L1079.8 249.1 L1080.3 249.0 L1080.7 249.1 L1081.2 248.8 L1081.7 248.4 L1082.1 248.6 L1082.6 248.5 L1083.1 248.3 L1083.6 248.9 L1084.0 248.4 L1084.5 248.8 L1085.0 248.9 L1085.4 248.8 L1085.9 248.8 L1086.4 248.7 L1086.8 248.3 L1087.3 247.9 L1087.8 247.6 L1088.2 247.6 L1088.7 247.3 L1089.2 247.5 L1089.7 247.7 L1090.1 247.2 L1090.6 247.4 L1091.1 246.9 L1091.5 247.0 L1092.0 247.3 L1092.5 247.2 L1092.9 246.9 L1093.4 246.6 L1093.9 246.1 L1094.3 245.6 L1094.8 245.3 L1095.3 244.8 L1095.8 245.4 L1096.2 245.1 L1096.7 244.7 L1097.2 245.1 L1097.6 244.9 L1098.1 244.7 L1098.6 245.2 L1099.0 245.8 L1099.5 245.7 L1100.0 245.6 L1100.4 245.3 L1100.9 245.3 L1101.4 245.5 L1101.9 245.8 L1102.3 246.1 L1102.8 246.4 L1103.3 246.4 L1103.7 246.4 L1104.2 246.4 L1104.7 246.6 L1105.1 246.6 L1105.6 246.3 L1106.1 246.3 L1106.6 245.9 L1107.0 245.5 L1107.5 245.8 L1108.0 244.9 L1108.4 245.4 L1108.9 245.8 L1109.4 245.9 L1109.8 245.9 L1110.3 245.6 L1110.8 245.2 L1111.2 245.3 L1111.7 245.2 L1112.2 246.1 L1112.7 245.4 L1113.1 245.5 L1113.6 245.3 L1114.1 244.2 L1114.5 243.8 L1115.0 244.0 L1115.5 244.3 L1115.9 244.3 L1116.4 244.4 L1116.9 244.0 L1117.3 243.5 L1117.8 243.2 L1118.3 242.6 L1118.8 242.3 L1119.2 241.5 L1119.7 240.8 L1120.2 240.2 L1120.6 240.4 L1121.1 240.2 L1121.6 240.1 L1122.0 239.9 L1122.5 239.7 L1123.0 239.6 L1123.4 239.3 L1123.9 240.1 L1124.4 240.5 L1124.9 240.8 L1125.3 240.9 L1125.8 240.8 L1126.3 240.3 L1126.7 240.3 L1127.2 240.4 L1127.7 239.9 L1128.1 239.1 L1128.6 239.1 L1129.1 238.4 L1129.5 238.2 L1130.0 237.4 L1130.5 236.5 L1131.0 236.3 L1131.4 236.3 L1131.9 236.1 L1132.4 236.8 L1132.8 236.8 L1133.3 237.8 L1133.8 237.6 L1134.2 237.7 L1134.7 238.0 L1135.2 237.3 L1135.7 237.7 L1136.1 238.1 L1136.6 238.4 L1137.1 238.1 L1137.5 238.6 L1138.0 237.9 L1138.5 237.8 L1138.9 237.6 L1139.4 237.5 L1139.9 237.1 L1140.3 237.6" stroke="#e8543c" stroke-width="4"/>
<path d="M167.8 204.7 L168.3 203.7 L168.7 204.4 L169.2 205.2 L169.7 204.3 L170.1 201.8 L170.6 199.7 L171.1 197.6 L171.6 195.8 L172.0 195.2 L172.5 194.5 L173.0 193.4 L173.4 192.5 L173.9 193.7 L174.4 195.4 L174.8 198.2 L175.3 199.4 L175.8 200.9 L176.2 201.8 L176.7 202.7 L177.2 204.4 L177.7 206.2 L178.1 206.0 L178.6 207.3 L179.1 206.5 L179.5 206.8 L180.0 206.5 L180.5 205.1 L180.9 206.2 L181.4 205.3 L181.9 205.2 L182.4 204.5 L182.8 204.1 L183.3 202.8 L183.8 202.4 L184.2 201.7 L184.7 200.9 L185.2 201.6 L185.6 200.1 L186.1 200.1 L186.6 200.6 L187.0 199.9 L187.5 198.6 L188.0 197.6 L188.5 197.7 L188.9 197.5 L189.4 197.3 L189.9 196.7 L190.3 197.1 L190.8 196.4 L191.3 197.0 L191.7 197.1 L192.2 196.3 L192.7 195.7 L193.1 195.8 L193.6 195.3 L194.1 195.2 L194.6 194.8 L195.0 194.3 L195.5 194.3 L196.0 194.1 L196.4 193.9 L196.9 193.6 L197.4 193.9 L197.8 192.2 L198.3 191.7 L198.8 191.1 L199.2 191.9 L199.7 191.4 L200.2 191.2 L200.7 191.8 L201.1 190.5 L201.6 189.7 L202.1 190.3 L202.5 189.4 L203.0 188.1 L203.5 188.9 L203.9 187.4 L204.4 186.0 L204.9 184.8 L205.4 185.6 L205.8 185.8 L206.3 185.1 L206.8 184.2 L207.2 184.9 L207.7 185.6 L208.2 186.4 L208.6 185.9 L209.1 186.9 L209.6 187.3 L210.0 187.9 L210.5 188.3 L211.0 189.4 L211.5 189.1 L211.9 188.3 L212.4 188.1 L212.9 188.6 L213.3 188.5 L213.8 187.6 L214.3 187.5 L214.7 187.6 L215.2 187.8 L215.7 186.5 L216.1 187.9 L216.6 188.5 L217.1 188.8 L217.6 189.5 L218.0 189.2 L218.5 189.3 L219.0 189.7 L219.4 190.9 L219.9 190.2 L220.4 190.2 L220.8 190.6 L221.3 192.1 L221.8 191.4 L222.2 191.7 L222.7 191.2 L223.2 191.1 L223.7 191.1 L224.1 190.1 L224.6 190.7 L225.1 190.6 L225.5 192.0 L226.0 192.5 L226.5 192.4 L226.9 193.4 L227.4 194.8 L227.9 195.9 L228.3 196.6 L228.8 197.1 L229.3 197.3 L229.8 198.1 L230.2 198.5 L230.7 199.0 L231.2 200.0 L231.6 200.3 L232.1 200.5 L232.6 201.2 L233.0 201.6 L233.5 201.9 L234.0 202.6 L234.5 203.4 L234.9 203.2 L235.4 203.6 L235.9 203.3 L236.3 203.8 L236.8 203.8 L237.3 203.9 L237.7 204.4 L238.2 204.4 L238.7 205.0 L239.1 205.2 L239.6 204.6 L240.1 204.5 L240.6 204.7 L241.0 205.2 L241.5 204.8 L242.0 204.0 L242.4 205.9 L242.9 205.2 L243.4 205.0 L243.8 204.3 L244.3 203.8 L244.8 204.7 L245.2 203.2 L245.7 203.5 L246.2 203.2 L246.7 202.3 L247.1 202.1 L247.6 201.7 L248.1 201.7 L248.5 201.8 L249.0 201.5 L249.5 202.0 L249.9 201.0 L250.4 201.2 L250.9 200.8 L251.3 202.1 L251.8 203.2 L252.3 203.9 L252.8 203.2 L253.2 203.5 L253.7 202.7 L254.2 203.4 L254.6 203.7 L255.1 202.9 L255.6 202.9 L256.0 202.4 L256.5 202.1 L257.0 202.3 L257.5 203.2 L257.9 203.4 L258.4 202.0 L258.9 202.7 L259.3 202.9 L259.8 203.1 L260.3 203.1 L260.7 203.0 L261.2 203.2 L261.7 203.1 L262.1 203.7 L262.6 201.9 L263.1 201.9 L263.6 202.4 L264.0 201.5 L264.5 200.9 L265.0 201.6 L265.4 201.3 L265.9 199.7 L266.4 199.3 L266.8 199.0 L267.3 198.2 L267.8 198.5 L268.2 198.6 L268.7 197.5 L269.2 197.8 L269.7 198.2 L270.1 198.1 L270.6 198.4 L271.1 199.4 L271.5 198.2 L272.0 198.7 L272.5 198.0 L272.9 198.5 L273.4 199.6 L273.9 198.9 L274.3 199.6 L274.8 200.4 L275.3 200.6 L275.8 202.1 L276.2 201.7 L276.7 202.3 L277.2 202.6 L277.6 203.3 L278.1 203.0 L278.6 203.2 L279.0 202.9 L279.5 202.4 L280.0 203.0 L280.5 203.5 L280.9 203.6 L281.4 204.4 L281.9 204.7 L282.3 204.2 L282.8 204.5 L283.3 205.1 L283.7 204.4 L284.2 203.7 L284.7 202.8 L285.1 203.5 L285.6 203.9 L286.1 203.6 L286.6 203.8 L287.0 203.8 L287.5 204.4 L288.0 204.4 L288.4 205.4 L288.9 205.3 L289.4 206.0 L289.8 206.5 L290.3 207.1 L290.8 208.0 L291.2 207.8 L291.7 207.8 L292.2 206.9 L292.7 206.6 L293.1 206.9 L293.6 206.9 L294.1 207.5 L294.5 207.3 L295.0 207.0 L295.5 207.2 L295.9 207.7 L296.4 206.7 L296.9 207.5 L297.3 206.5 L297.8 206.6 L298.3 206.6 L298.8 208.1 L299.2 208.1 L299.7 209.5 L300.2 209.9 L300.6 210.9 L301.1 211.2 L301.6 211.3 L302.0 210.9 L302.5 210.8 L303.0 211.6 L303.4 212.0 L303.9 212.6 L304.4 213.0 L304.9 213.6 L305.3 213.6 L305.8 213.5 L306.3 214.4 L306.7 214.6 L307.2 215.3 L307.7 215.6 L308.1 215.6 L308.6 215.0 L309.1 215.1 L309.6 214.5 L310.0 214.6 L310.5 215.0 L311.0 215.1 L311.4 214.2 L311.9 213.8 L312.4 212.4 L312.8 212.4 L313.3 213.5 L313.8 212.8 L314.2 212.8 L314.7 214.6 L315.2 214.7 L315.7 214.3 L316.1 215.1 L316.6 215.1 L317.1 214.6 L317.5 214.6 L318.0 214.7 L318.5 214.5 L318.9 215.2 L319.4 214.0 L319.9 214.3 L320.3 214.0 L320.8 215.1 L321.3 215.3 L321.8 215.6 L322.2 216.3 L322.7 216.5 L323.2 216.9 L323.6 217.0 L324.1 217.2 L324.6 217.4 L325.0 217.4 L325.5 217.0 L326.0 217.5 L326.4 217.6 L326.9 217.9 L327.4 219.0 L327.9 219.0 L328.3 219.1 L328.8 219.3 L329.3 219.1 L329.7 218.8 L330.2 217.3 L330.7 216.7 L331.1 215.2 L331.6 214.5 L332.1 214.6 L332.6 213.8 L333.0 212.9 L333.5 213.2 L334.0 213.2 L334.4 213.6 L334.9 213.6 L335.4 213.4 L335.8 213.7 L336.3 213.2 L336.8 214.7 L337.2 214.6 L337.7 214.3 L338.2 213.3 L338.7 213.0 L339.1 212.6 L339.6 212.0 L340.1 211.1 L340.5 210.9 L341.0 211.1 L341.5 210.9 L341.9 211.0 L342.4 210.6 L342.9 210.9 L343.3 211.7 L343.8 212.1 L344.3 212.8 L344.8 213.3 L345.2 213.6 L345.7 212.7 L346.2 212.6 L346.6 212.4 L347.1 212.9 L347.6 213.2 L348.0 213.3 L348.5 214.0 L349.0 213.8 L349.4 214.1 L349.9 214.8 L350.4 215.6 L350.9 215.6 L351.3 215.3 L351.8 214.7 L352.3 214.8 L352.7 214.6 L353.2 214.2 L353.7 214.1 L354.1 214.0 L354.6 214.3 L355.1 213.2 L355.5 213.2 L356.0 213.5 L356.5 213.4 L357.0 214.0 L357.4 214.4 L357.9 214.7 L358.4 213.8 L358.8 214.2 L359.3 213.7 L359.8 214.0 L360.2 214.3 L360.7 213.8 L361.2 213.5 L361.7 213.6 L362.1 212.5 L362.6 212.8 L363.1 213.4 L363.5 213.1 L364.0 213.6 L364.5 213.2 L364.9 214.4 L365.4 213.6 L365.9 214.3 L366.3 214.5 L366.8 214.1 L367.3 214.3 L367.8 214.4 L368.2 213.7 L368.7 213.2 L369.2 213.7 L369.6 212.6 L370.1 212.9 L370.6 212.8 L371.0 212.8 L371.5 212.6 L372.0 212.1 L372.4 213.5 L372.9 212.7 L373.4 211.7 L373.9 211.4 L374.3 211.2 L374.8 211.8 L375.3 211.3 L375.7 211.5 L376.2 211.3 L376.7 212.0 L377.1 212.1 L377.6 212.2 L378.1 213.1 L378.5 212.6 L379.0 213.3 L379.5 214.4 L380.0 214.7 L380.4 214.7 L380.9 215.1 L381.4 215.7 L381.8 215.8 L382.3 216.1 L382.8 216.4 L383.2 215.1 L383.7 214.2 L384.2 213.7 L384.7 213.2 L385.1 213.3 L385.6 214.4 L386.1 214.9 L386.5 214.4 L387.0 215.0 L387.5 215.4 L387.9 215.4 L388.4 215.4 L388.9 216.2 L389.3 216.1 L389.8 215.7 L390.3 216.8 L390.8 215.8 L391.2 215.5 L391.7 216.0 L392.2 214.9 L392.6 215.0 L393.1 214.9 L393.6 214.2 L394.0 215.6 L394.5 214.9 L395.0 213.9 L395.4 213.4 L395.9 213.8 L396.4 214.0 L396.9 214.4 L397.3 214.2 L397.8 214.4 L398.3 215.1 L398.7 214.6 L399.2 214.4 L399.7 214.2 L400.1 213.9 L400.6 213.7 L401.1 213.7 L401.5 214.0 L402.0 214.4 L402.5 214.8 L403.0 214.8 L403.4 214.9 L403.9 214.9 L404.4 214.3 L404.8 214.4 L405.3 214.8 L405.8 215.7 L406.2 215.7 L406.7 216.4 L407.2 214.9 L407.7 214.1 L408.1 214.4 L408.6 214.6 L409.1 214.2 L409.5 214.0 L410.0 215.0 L410.5 214.9 L410.9 215.0 L411.4 215.5 L411.9 214.6 L412.3 214.8 L412.8 215.6 L413.3 215.9 L413.8 216.5 L414.2 216.6 L414.7 216.6 L415.2 216.0 L415.6 216.2 L416.1 216.7 L416.6 217.2 L417.0 217.1 L417.5 217.7 L418.0 218.1 L418.4 217.5 L418.9 216.4 L419.4 216.9 L419.9 216.8 L420.3 216.9 L420.8 216.3 L421.3 216.4 L421.7 217.2 L422.2 216.2 L422.7 216.6 L423.1 217.2 L423.6 217.1 L424.1 216.8 L424.5 216.1 L425.0 216.3 L425.5 216.7 L426.0 216.0 L426.4 215.6 L426.9 216.3 L427.4 216.6 L427.8 216.9 L428.3 217.5 L428.8 218.2 L429.2 217.7 L429.7 218.5 L430.2 219.3 L430.7 218.7 L431.1 218.3 L431.6 218.3 L432.1 219.1 L432.5 219.2 L433.0 219.8 L433.5 219.8 L433.9 220.8 L434.4 220.6 L434.9 219.7 L435.3 220.4 L435.8 219.7 L436.3 220.1 L436.8 221.1 L437.2 220.4 L437.7 220.9 L438.2 220.6 L438.6 220.4 L439.1 220.2 L439.6 219.9 L440.0 220.1 L440.5 219.9 L441.0 219.6 L441.4 218.4 L441.9 218.8 L442.4 218.8 L442.9 218.7 L443.3 218.4 L443.8 218.9 L444.3 219.1 L444.7 219.8 L445.2 218.7 L445.7 220.0 L446.1 219.9 L446.6 220.2 L447.1 220.2 L447.5 220.6 L448.0 221.0 L448.5 220.8 L449.0 220.9 L449.4 221.5 L449.9 221.8 L450.4 221.9 L450.8 222.1 L451.3 222.1 L451.8 221.9 L452.2 222.0 L452.7 222.9 L453.2 222.7 L453.6 222.9 L454.1 222.2 L454.6 222.2 L455.1 221.8 L455.5 221.7 L456.0 221.1 L456.5 220.5 L456.9 220.7 L457.4 221.6 L457.9 221.4 L458.3 220.6 L458.8 221.4 L459.3 221.6 L459.8 220.8 L460.2 220.8 L460.7 221.3 L461.2 222.0 L461.6 223.1 L462.1 222.5 L462.6 222.8 L463.0 223.9 L463.5 223.9 L464.0 224.0 L464.4 224.1 L464.9 224.3 L465.4 223.2 L465.9 224.0 L466.3 223.5 L466.8 223.6 L467.3 223.9 L467.7 223.8 L468.2 223.7 L468.7 224.3 L469.1 224.4 L469.6 223.8 L470.1 223.7 L470.5 224.1 L471.0 224.9 L471.5 225.6 L472.0 224.8 L472.4 224.5 L472.9 224.7 L473.4 224.9 L473.8 225.3 L474.3 225.4 L474.8 225.2 L475.2 225.4 L475.7 226.0 L476.2 226.0 L476.6 226.4 L477.1 226.4 L477.6 226.8 L478.1 227.2 L478.5 226.7 L479.0 225.8 L479.5 225.7 L479.9 225.2 L480.4 225.4 L480.9 225.2 L481.3 225.3 L481.8 224.8 L482.3 225.3 L482.8 225.4 L483.2 225.1 L483.7 224.7 L484.2 225.5 L484.6 224.8 L485.1 225.4 L485.6 225.2 L486.0 224.8 L486.5 223.7 L487.0 223.7 L487.4 222.7 L487.9 222.0 L488.4 221.6 L488.9 220.8 L489.3 219.8 L489.8 219.4 L490.3 220.1 L490.7 219.8 L491.2 220.3 L491.7 220.5 L492.1 220.8 L492.6 220.6 L493.1 220.9 L493.5 221.0 L494.0 220.4 L494.5 220.0 L495.0 219.6 L495.4 219.6 L495.9 220.4 L496.4 220.8 L496.8 220.3 L497.3 220.0 L497.8 219.6 L498.2 219.2 L498.7 220.2 L499.2 219.9 L499.6 219.1 L500.1 219.3 L500.6 218.1 L501.1 218.2 L501.5 217.8 L502.0 217.9 L502.5 217.7 L502.9 217.6 L503.4 217.5 L503.9 218.3 L504.3 218.9 L504.8 218.4 L505.3 217.9 L505.8 218.1 L506.2 218.4 L506.7 218.2 L507.2 218.4 L507.6 219.4 L508.1 219.5 L508.6 219.9 L509.0 220.2 L509.5 220.6 L510.0 220.4 L510.4 220.7 L510.9 220.7 L511.4 220.9 L511.9 221.4 L512.3 221.9 L512.8 222.0 L513.3 222.1 L513.7 222.0 L514.2 221.7 L514.7 223.1 L515.1 223.8 L515.6 223.3 L516.1 223.6 L516.5 223.6 L517.0 224.0 L517.5 223.3 L518.0 223.7 L518.4 222.8 L518.9 222.9 L519.4 222.9 L519.8 222.7 L520.3 223.4 L520.8 223.6 L521.2 222.8 L521.7 223.9 L522.2 223.9 L522.6 224.8 L523.1 224.4 L523.6 224.4 L524.1 224.8 L524.5 225.1 L525.0 224.4 L525.5 224.4 L525.9 225.2 L526.4 224.9 L526.9 225.5 L527.3 225.8 L527.8 225.5 L528.3 225.7 L528.7 225.4 L529.2 225.1 L529.7 225.5 L530.2 225.3 L530.6 224.8 L531.1 225.1 L531.6 224.0 L532.0 223.1 L532.5 223.6 L533.0 223.3 L533.4 222.4 L533.9 221.9 L534.4 222.2 L534.9 222.2 L535.3 222.2 L535.8 222.5 L536.3 221.9 L536.7 220.7 L537.2 221.5 L537.7 221.1 L538.1 221.5 L538.6 220.7 L539.1 221.7 L539.5 221.1 L540.0 221.2 L540.5 222.0 L541.0 222.2 L541.4 222.2 L541.9 221.3 L542.4 221.3 L542.8 220.9 L543.3 220.6 L543.8 221.3 L544.2 221.7 L544.7 222.1 L545.2 221.8 L545.6 221.9 L546.1 222.2 L546.6 223.2 L547.1 223.6 L547.5 223.3 L548.0 223.5 L548.5 224.1 L548.9 224.4 L549.4 223.6 L549.9 223.0 L550.3 222.7 L550.8 222.1 L551.3 223.3 L551.7 224.0 L552.2 223.6 L552.7 223.2 L553.2 223.5 L553.6 223.0 L554.1 222.6 L554.6 222.7 L555.0 222.7 L555.5 222.4 L556.0 222.1 L556.4 221.5 L556.9 221.9 L557.4 222.4 L557.9 222.8 L558.3 222.8 L558.8 222.6 L559.3 223.2 L559.7 223.4 L560.2 223.2 L560.7 223.3 L561.1 222.8 L561.6 223.2 L562.1 223.5 L562.5 222.9 L563.0 224.3 L563.5 224.8 L564.0 224.7 L564.4 224.3 L564.9 223.8 L565.4 223.8 L565.8 224.3 L566.3 224.9 L566.8 224.6 L567.2 224.8 L567.7 225.2 L568.2 225.5 L568.6 224.9 L569.1 225.1 L569.6 225.0 L570.1 225.2 L570.5 225.5 L571.0 225.7 L571.5 225.8 L571.9 225.7 L572.4 226.0 L572.9 225.7 L573.3 226.2 L573.8 225.9 L574.3 225.7 L574.7 225.5 L575.2 226.7 L575.7 225.8 L576.2 225.5 L576.6 225.6 L577.1 225.5 L577.6 225.6 L578.0 226.0 L578.5 224.5 L579.0 225.0 L579.4 225.0 L579.9 225.6 L580.4 225.6 L580.8 226.4 L581.3 226.0 L581.8 226.1 L582.3 226.0 L582.7 225.8 L583.2 225.4 L583.7 225.7 L584.1 226.3 L584.6 226.4 L585.1 226.0 L585.5 225.4 L586.0 226.7 L586.5 226.9 L587.0 226.9 L587.4 226.8 L587.9 226.6 L588.4 226.3 L588.8 226.4 L589.3 226.2 L589.8 226.8 L590.2 227.2 L590.7 227.5 L591.2 227.2 L591.6 226.5 L592.1 226.4 L592.6 225.7 L593.1 226.4 L593.5 227.0 L594.0 226.8 L594.5 227.5 L594.9 226.8 L595.4 226.6 L595.9 227.1 L596.3 226.7 L596.8 226.6 L597.3 226.1 L597.7 226.5 L598.2 226.5 L598.7 226.3 L599.2 226.1 L599.6 226.2 L600.1 225.7 L600.6 225.6 L601.0 226.2 L601.5 226.5 L602.0 226.5 L602.4 226.2 L602.9 226.0 L603.4 225.6 L603.8 224.9 L604.3 224.0 L604.8 224.4 L605.3 224.3 L605.7 224.5 L606.2 224.1 L606.7 223.6 L607.1 224.0 L607.6 223.5 L608.1 223.6 L608.5 223.6 L609.0 223.1 L609.5 222.6 L610.0 222.9 L610.4 223.7 L610.9 223.7 L611.4 223.4 L611.8 222.4 L612.3 223.1 L612.8 221.9 L613.2 222.2 L613.7 222.2 L614.2 222.4 L614.6 224.0 L615.1 223.4 L615.6 223.0 L616.1 222.6 L616.5 222.1 L617.0 222.2 L617.5 222.4 L617.9 221.8 L618.4 221.5 L618.9 221.3 L619.3 221.5 L619.8 221.3 L620.3 222.5 L620.7 221.7 L621.2 221.1 L621.7 221.3 L622.2 221.4 L622.6 221.3 L623.1 221.6 L623.6 221.8 L624.0 221.1 L624.5 220.4 L625.0 221.4 L625.4 221.2 L625.9 220.5 L626.4 220.4 L626.8 221.2 L627.3 221.5 L627.8 221.2 L628.3 220.9 L628.7 221.7 L629.2 221.8 L629.7 222.0 L630.1 221.5 L630.6 221.6 L631.1 221.7 L631.5 221.3 L632.0 221.6 L632.5 222.0 L633.0 221.7 L633.4 221.6 L633.9 221.6 L634.4 221.6 L634.8 222.2 L635.3 223.5 L635.8 223.4 L636.2 223.2 L636.7 223.2 L637.2 222.9 L637.6 223.2 L638.1 222.9 L638.6 223.5 L639.1 223.8 L639.5 224.0 L640.0 224.2 L640.5 225.2 L640.9 225.1 L641.4 225.4 L641.9 226.3 L642.3 225.3 L642.8 225.4 L643.3 225.1 L643.7 225.9 L644.2 225.7 L644.7 226.2 L645.2 225.0 L645.6 224.8 L646.1 225.2 L646.6 226.3 L647.0 225.8 L647.5 225.4 L648.0 225.4 L648.4 225.1 L648.9 225.3 L649.4 225.0 L649.8 225.0 L650.3 225.4 L650.8 225.0 L651.3 225.0 L651.7 225.2 L652.2 225.6 L652.7 226.0 L653.1 225.0 L653.6 224.6 L654.1 225.2 L654.5 225.9 L655.0 225.8 L655.5 226.5 L656.0 226.9 L656.4 227.6 L656.9 227.5 L657.4 227.5 L657.8 227.0 L658.3 226.9 L658.8 227.3 L659.2 227.3 L659.7 227.2 L660.2 226.8 L660.6 226.3 L661.1 225.5 L661.6 226.0 L662.1 225.7 L662.5 225.7 L663.0 225.4 L663.5 225.7 L663.9 226.2 L664.4 225.8 L664.9 225.6 L665.3 226.3 L665.8 225.7 L666.3 224.8 L666.7 225.5 L667.2 225.4 L667.7 226.6 L668.2 226.1 L668.6 226.3 L669.1 225.9 L669.6 226.1 L670.0 226.1 L670.5 225.9 L671.0 225.9 L671.4 226.0 L671.9 226.7 L672.4 227.0 L672.8 227.1 L673.3 227.4 L673.8 227.7 L674.3 227.6 L674.7 227.5 L675.2 227.8 L675.7 228.4 L676.1 228.0 L676.6 228.5 L677.1 228.0 L677.5 228.4 L678.0 228.6 L678.5 228.5 L678.9 228.8 L679.4 229.3 L679.9 229.1 L680.4 229.7 L680.8 229.2 L681.3 229.1 L681.8 228.9 L682.2 229.1 L682.7 228.5 L683.2 228.8 L683.6 229.2 L684.1 228.2 L684.6 228.9 L685.1 229.0 L685.5 229.4 L686.0 229.7 L686.5 229.8 L686.9 230.1 L687.4 230.0 L687.9 230.1 L688.3 230.3 L688.8 230.5 L689.3 230.5 L689.7 231.3 L690.2 230.6 L690.7 231.3 L691.2 230.8 L691.6 230.4 L692.1 230.8 L692.6 230.9 L693.0 230.4 L693.5 231.0 L694.0 231.6 L694.4 231.6 L694.9 232.2 L695.4 232.9 L695.8 232.4 L696.3 231.6 L696.8 231.2 L697.3 230.6 L697.7 229.9 L698.2 230.2 L698.7 229.9 L699.1 229.2 L699.6 229.4 L700.1 228.9 L700.5 229.2 L701.0 229.5 L701.5 228.9 L701.9 229.7 L702.4 230.1 L702.9 229.5 L703.4 229.6 L703.8 229.7 L704.3 229.5 L704.8 229.9 L705.2 229.9 L705.7 230.0 L706.2 229.5 L706.6 229.8 L707.1 230.5 L707.6 230.8 L708.1 230.5 L708.5 231.0 L709.0 231.3 L709.5 231.2 L709.9 231.5 L710.4 231.1 L710.9 230.4 L711.3 230.2 L711.8 230.8 L712.3 230.8 L712.7 230.7 L713.2 230.6 L713.7 230.1 L714.2 229.9 L714.6 229.8 L715.1 229.3 L715.6 229.0 L716.0 228.4 L716.5 228.1 L717.0 228.7 L717.4 228.7 L717.9 229.0 L718.4 228.3 L718.8 228.4 L719.3 228.8 L719.8 229.5 L720.3 229.2 L720.7 229.9 L721.2 230.4 L721.7 230.5 L722.1 229.9 L722.6 230.1 L723.1 230.4 L723.5 230.6 L724.0 230.2 L724.5 230.6 L724.9 230.8 L725.4 230.4 L725.9 230.2 L726.4 230.4 L726.8 230.3 L727.3 230.2 L727.8 231.0 L728.2 230.6 L728.7 230.7 L729.2 230.5 L729.6 230.5 L730.1 230.4 L730.6 230.2 L731.0 230.7 L731.5 230.9 L732.0 230.9 L732.5 230.9 L732.9 231.4 L733.4 230.8 L733.9 230.1 L734.3 230.1 L734.8 230.4 L735.3 229.8 L735.7 229.4 L736.2 229.5 L736.7 229.3 L737.2 229.4 L737.6 229.9 L738.1 230.3 L738.6 229.6 L739.0 230.0 L739.5 230.6 L740.0 230.3 L740.4 231.0 L740.9 231.0 L741.4 230.3 L741.8 230.1 L742.3 230.4 L742.8 230.1 L743.3 229.9 L743.7 230.7 L744.2 230.4 L744.7 229.9 L745.1 230.0 L745.6 230.5 L746.1 230.1 L746.5 230.1 L747.0 229.5 L747.5 229.2 L747.9 228.7 L748.4 229.0 L748.9 228.1 L749.4 228.3 L749.8 228.2 L750.3 228.5 L750.8 228.5 L751.2 228.4 L751.7 228.6 L752.2 228.4 L752.6 228.4 L753.1 228.7 L753.6 228.9 L754.0 228.7 L754.5 228.3 L755.0 228.0 L755.5 228.6 L755.9 228.2 L756.4 228.0 L756.9 228.7 L757.3 228.3 L757.8 227.5 L758.3 227.8 L758.7 228.1 L759.2 228.5 L759.7 227.9 L760.2 227.7 L760.6 227.5 L761.1 227.1 L761.6 227.5 L762.0 227.3 L762.5 226.5 L763.0 226.2 L763.4 226.8 L763.9 227.4 L764.4 226.9 L764.8 226.6 L765.3 226.8 L765.8 227.4 L766.3 227.2 L766.7 227.8 L767.2 228.2 L767.7 228.3 L768.1 228.2 L768.6 228.1 L769.1 228.5 L769.5 228.2 L770.0 227.7 L770.5 228.5 L770.9 228.2 L771.4 228.6 L771.9 229.5 L772.4 229.0 L772.8 229.3 L773.3 229.1 L773.8 229.3 L774.2 230.1 L774.7 229.7 L775.2 228.9 L775.6 228.5 L776.1 229.0 L776.6 228.5 L777.0 228.3 L777.5 227.8 L778.0 227.4 L778.5 227.5 L778.9 227.7 L779.4 228.1 L779.9 228.5 L780.3 229.1 L780.8 229.0 L781.3 228.5 L781.7 228.3 L782.2 228.7 L782.7 229.4 L783.2 229.2 L783.6 229.4 L784.1 228.5 L784.6 228.5 L785.0 228.1 L785.5 227.5 L786.0 227.3 L786.4 227.1 L786.9 226.7 L787.4 226.7 L787.8 226.4 L788.3 227.2 L788.8 227.1 L789.3 226.2 L789.7 226.9 L790.2 227.6 L790.7 227.8 L791.1 228.1 L791.6 228.2 L792.1 227.6 L792.5 227.2 L793.0 227.8 L793.5 228.4 L793.9 228.0 L794.4 227.9 L794.9 228.4 L795.4 228.3 L795.8 228.7 L796.3 228.4 L796.8 228.8 L797.2 229.1 L797.7 229.3 L798.2 230.1 L798.6 230.3 L799.1 230.0 L799.6 229.6 L800.0 229.9 L800.5 230.4 L801.0 230.2 L801.5 229.7 L801.9 229.6 L802.4 229.4 L802.9 229.0 L803.3 229.0 L803.8 229.1 L804.3 229.3 L804.7 229.8 L805.2 229.6 L805.7 229.5 L806.1 229.7 L806.6 229.1 L807.1 229.0 L807.6 228.9 L808.0 228.8 L808.5 229.1 L809.0 227.9 L809.4 228.1 L809.9 228.2 L810.4 228.8 L810.8 228.3 L811.3 227.9 L811.8 227.7 L812.3 228.4 L812.7 229.0 L813.2 228.4 L813.7 229.2 L814.1 229.0 L814.6 228.9 L815.1 228.8 L815.5 228.2 L816.0 228.4 L816.5 228.4 L816.9 228.3 L817.4 228.5 L817.9 229.5 L818.4 230.8 L818.8 231.1 L819.3 231.9 L819.8 232.6 L820.2 232.4 L820.7 232.0 L821.2 232.2 L821.6 232.4 L822.1 232.0 L822.6 232.1 L823.0 232.7 L823.5 232.6 L824.0 232.5 L824.5 232.9 L824.9 233.3 L825.4 233.7 L825.9 233.1 L826.3 233.2 L826.8 233.8 L827.3 233.3 L827.7 233.4 L828.2 233.8 L828.7 233.8 L829.1 233.0 L829.6 232.1 L830.1 231.6 L830.6 231.4 L831.0 232.5 L831.5 232.6 L832.0 232.2 L832.4 232.6 L832.9 232.9 L833.4 233.0 L833.8 233.3 L834.3 232.3 L834.8 233.1 L835.3 233.2 L835.7 232.8 L836.2 232.7 L836.7 232.5 L837.1 233.1 L837.6 233.2 L838.1 232.6 L838.5 233.3 L839.0 233.2 L839.5 233.6 L839.9 234.1 L840.4 234.0 L840.9 233.9 L841.4 233.3 L841.8 233.0 L842.3 232.3 L842.8 233.0 L843.2 233.1 L843.7 232.8 L844.2 233.1 L844.6 233.4 L845.1 233.2 L845.6 232.8 L846.0 233.2 L846.5 232.6 L847.0 233.1 L847.5 232.8 L847.9 232.6 L848.4 232.9 L848.9 232.7 L849.3 232.2 L849.8 233.0 L850.3 232.8 L850.7 233.2 L851.2 233.1 L851.7 233.0 L852.1 233.3 L852.6 233.9 L853.1 233.9 L853.6 234.5 L854.0 235.1 L854.5 234.2 L855.0 234.7 L855.4 235.5 L855.9 235.1 L856.4 235.6 L856.8 235.2 L857.3 234.7 L857.8 234.6 L858.3 234.7 L858.7 235.2 L859.2 235.7 L859.7 236.3 L860.1 236.4 L860.6 236.2 L861.1 236.1 L861.5 235.3 L862.0 235.6 L862.5 235.6 L862.9 234.9 L863.4 234.8 L863.9 234.2 L864.4 233.8 L864.8 234.1 L865.3 233.8 L865.8 233.9 L866.2 234.0 L866.7 233.6 L867.2 233.4 L867.6 233.5 L868.1 232.9 L868.6 232.7 L869.0 233.1 L869.5 233.5 L870.0 233.7 L870.5 233.6 L870.9 233.2 L871.4 233.9 L871.9 233.2 L872.3 233.5 L872.8 233.8 L873.3 233.2 L873.7 233.4 L874.2 233.4 L874.7 234.2 L875.1 234.1 L875.6 235.0 L876.1 235.0 L876.6 235.1 L877.0 234.4 L877.5 234.4 L878.0 235.2 L878.4 235.0 L878.9 235.2 L879.4 235.4 L879.8 234.7 L880.3 236.0 L880.8 235.8 L881.3 236.3 L881.7 236.2 L882.2 236.1 L882.7 235.8 L883.1 235.8 L883.6 236.0 L884.1 237.0 L884.5 236.9 L885.0 236.7 L885.5 236.8 L885.9 236.9 L886.4 236.6 L886.9 236.7 L887.4 236.9 L887.8 236.9 L888.3 237.1 L888.8 237.2 L889.2 237.2 L889.7 236.8 L890.2 236.4 L890.6 236.6 L891.1 237.0 L891.6 237.0 L892.0 236.8 L892.5 236.9 L893.0 236.6 L893.5 236.3 L893.9 236.2 L894.4 236.8 L894.9 236.9 L895.3 237.1 L895.8 237.0 L896.3 237.5 L896.7 237.5 L897.2 237.5 L897.7 237.9 L898.1 237.8 L898.6 237.7 L899.1 238.0 L899.6 238.3 L900.0 238.2 L900.5 238.1 L901.0 238.3 L901.4 238.2 L901.9 238.1 L902.4 238.5 L902.8 238.3 L903.3 238.6 L903.8 238.9 L904.2 238.5 L904.7 238.3 L905.2 238.9 L905.7 239.0 L906.1 239.2 L906.6 239.6 L907.1 239.0 L907.5 239.1 L908.0 238.8 L908.5 239.0 L908.9 239.3 L909.4 238.9 L909.9 239.0 L910.4 238.7 L910.8 239.1 L911.3 238.5 L911.8 238.0 L912.2 238.4 L912.7 239.0 L913.2 239.1 L913.6 238.7 L914.1 239.0 L914.6 238.7 L915.0 238.3 L915.5 238.5 L916.0 238.4 L916.5 238.6 L916.9 238.9 L917.4 238.6 L917.9 238.7 L918.3 238.4 L918.8 238.4 L919.3 237.4 L919.7 237.4 L920.2 236.7 L920.7 236.2 L921.1 235.9 L921.6 235.8 L922.1 235.8 L922.6 236.0 L923.0 235.8 L923.5 235.2 L924.0 234.9 L924.4 234.6 L924.9 235.2 L925.4 234.9 L925.8 235.1 L926.3 235.5 L926.8 235.1 L927.2 234.9 L927.7 235.5 L928.2 235.6 L928.7 235.8 L929.1 236.1 L929.6 236.5 L930.1 235.8 L930.5 235.2 L931.0 235.3 L931.5 234.8 L931.9 234.6 L932.4 235.0 L932.9 234.8 L933.4 234.7 L933.8 235.1 L934.3 235.3 L934.8 235.3 L935.2 235.6 L935.7 236.0 L936.2 235.6 L936.6 234.9 L937.1 235.1 L937.6 235.4 L938.0 235.6 L938.5 235.0 L939.0 235.5 L939.5 235.7 L939.9 235.9 L940.4 235.9 L940.9 236.1 L941.3 236.1 L941.8 236.0 L942.3 235.6 L942.7 235.7 L943.2 236.5 L943.7 236.3 L944.1 236.5 L944.6 236.7 L945.1 236.5 L945.6 236.6 L946.0 236.4 L946.5 236.4 L947.0 235.9 L947.4 236.1 L947.9 236.5 L948.4 236.1 L948.8 236.3 L949.3 236.1 L949.8 236.8 L950.2 237.1 L950.7 237.3 L951.2 237.2 L951.7 237.4 L952.1 236.5 L952.6 236.1 L953.1 236.7 L953.5 236.3 L954.0 236.4 L954.5 237.1 L954.9 237.4 L955.4 237.4 L955.9 237.9 L956.4 237.7 L956.8 238.0 L957.3 237.5 L957.8 237.0 L958.2 237.3 L958.7 237.1 L959.2 237.3 L959.6 237.3 L960.1 237.6 L960.6 237.6 L961.0 237.2 L961.5 237.2 L962.0 237.9 L962.5 237.8 L962.9 237.4 L963.4 237.1 L963.9 237.1 L964.3 237.4 L964.8 237.3 L965.3 236.8 L965.7 236.4 L966.2 236.7 L966.7 236.5 L967.1 236.0 L967.6 236.5 L968.1 236.9 L968.6 236.9 L969.0 236.6 L969.5 236.9 L970.0 236.9 L970.4 237.3 L970.9 237.1 L971.4 237.7 L971.8 237.4 L972.3 237.4 L972.8 237.0 L973.2 237.0 L973.7 237.5 L974.2 236.8 L974.7 236.2 L975.1 236.4 L975.6 236.6 L976.1 236.9 L976.5 236.9 L977.0 236.9 L977.5 236.8 L977.9 236.8 L978.4 237.0 L978.9 237.5 L979.3 236.7 L979.8 236.9 L980.3 237.1 L980.8 237.7 L981.2 238.0 L981.7 238.0 L982.2 237.9 L982.6 237.5 L983.1 238.2 L983.6 238.1 L984.0 238.1 L984.5 238.2 L985.0 237.9 L985.5 237.9 L985.9 238.0 L986.4 238.0 L986.9 238.7 L987.3 238.2 L987.8 238.3 L988.3 238.1 L988.7 238.3 L989.2 238.8 L989.7 238.5 L990.1 238.8 L990.6 238.6 L991.1 238.8 L991.6 238.9 L992.0 238.5 L992.5 238.9 L993.0 238.3 L993.4 238.2 L993.9 238.3 L994.4 238.3 L994.8 237.7 L995.3 238.2 L995.8 238.9 L996.2 238.7 L996.7 238.3 L997.2 238.0 L997.7 238.0 L998.1 237.3 L998.6 236.6 L999.1 236.1 L999.5 235.8 L1000.0 236.3 L1000.5 236.0 L1000.9 236.0 L1001.4 235.9 L1001.9 236.0 L1002.3 235.6 L1002.8 236.2 L1003.3 236.1 L1003.8 235.8 L1004.2 236.0 L1004.7 235.8 L1005.2 235.5 L1005.6 235.0 L1006.1 236.3 L1006.6 236.3 L1007.0 236.4 L1007.5 236.6 L1008.0 236.6 L1008.5 237.1 L1008.9 236.6 L1009.4 236.5 L1009.9 237.0 L1010.3 236.7 L1010.8 237.2 L1011.3 237.1 L1011.7 236.3 L1012.2 237.0 L1012.7 237.4 L1013.1 237.0 L1013.6 236.9 L1014.1 236.3 L1014.6 236.3 L1015.0 236.6 L1015.5 237.3 L1016.0 237.5 L1016.4 237.5 L1016.9 236.9 L1017.4 237.2 L1017.8 237.0 L1018.3 237.3 L1018.8 236.9 L1019.2 236.3 L1019.7 236.7 L1020.2 236.9 L1020.7 237.2 L1021.1 237.0 L1021.6 237.1 L1022.1 237.3 L1022.5 236.5 L1023.0 236.6 L1023.5 236.5 L1023.9 236.4 L1024.4 236.1 L1024.9 235.9 L1025.3 235.8 L1025.8 235.3 L1026.3 235.6 L1026.8 235.6 L1027.2 235.3 L1027.7 235.1 L1028.2 235.5 L1028.6 235.4 L1029.1 235.5 L1029.6 235.2 L1030.0 234.5 L1030.5 234.9 L1031.0 234.6 L1031.4 234.1 L1031.9 234.4 L1032.4 234.3 L1032.9 234.8 L1033.3 235.2 L1033.8 234.6 L1034.3 234.6 L1034.7 234.1 L1035.2 234.5 L1035.7 234.8 L1036.1 234.4 L1036.6 234.0 L1037.1 234.1 L1037.6 234.5 L1038.0 234.4 L1038.5 234.2 L1039.0 234.4 L1039.4 234.3 L1039.9 233.6 L1040.4 233.5 L1040.8 233.4 L1041.3 233.5 L1041.8 233.4 L1042.2 233.5 L1042.7 233.4 L1043.2 233.5 L1043.7 234.1 L1044.1 234.1 L1044.6 234.5 L1045.1 234.5 L1045.5 235.1 L1046.0 235.1 L1046.5 235.2 L1046.9 235.0 L1047.4 235.2 L1047.9 235.7 L1048.3 235.5 L1048.8 236.4 L1049.3 236.2 L1049.8 235.5 L1050.2 235.9 L1050.7 236.0 L1051.2 236.3 L1051.6 236.1 L1052.1 236.4 L1052.6 236.1 L1053.0 236.1 L1053.5 236.6 L1054.0 236.0 L1054.4 236.8 L1054.9 237.0 L1055.4 237.0 L1055.9 237.9 L1056.3 237.7 L1056.8 237.4 L1057.3 237.2 L1057.7 237.5 L1058.2 237.6 L1058.7 237.3 L1059.1 238.1 L1059.6 238.3 L1060.1 237.7 L1060.6 237.8 L1061.0 237.8 L1061.5 238.1 L1062.0 238.2 L1062.4 238.3 L1062.9 237.6 L1063.4 237.6 L1063.8 238.1 L1064.3 237.7 L1064.8 237.9 L1065.2 237.5 L1065.7 238.0 L1066.2 238.0 L1066.7 237.9 L1067.1 238.2 L1067.6 237.8 L1068.1 237.6 L1068.5 237.9 L1069.0 238.3 L1069.5 238.8 L1069.9 238.4 L1070.4 238.5 L1070.9 238.7 L1071.3 238.6 L1071.8 238.5 L1072.3 239.0 L1072.8 238.5 L1073.2 238.8 L1073.7 238.9 L1074.2 239.0 L1074.6 239.1 L1075.1 238.9 L1075.6 239.4 L1076.0 239.5 L1076.5 239.8 L1077.0 239.7 L1077.4 239.7 L1077.9 239.7 L1078.4 239.7 L1078.9 239.8 L1079.3 239.6 L1079.8 239.8 L1080.3 239.6 L1080.7 240.0 L1081.2 240.4 L1081.7 240.2 L1082.1 240.0 L1082.6 240.5 L1083.1 240.5 L1083.6 240.7 L1084.0 240.9 L1084.5 240.7 L1085.0 240.7 L1085.4 240.5 L1085.9 240.8 L1086.4 240.7 L1086.8 240.5 L1087.3 240.8 L1087.8 241.1 L1088.2 241.0 L1088.7 240.9 L1089.2 241.4 L1089.7 241.4 L1090.1 240.8 L1090.6 241.0 L1091.1 241.2 L1091.5 241.0 L1092.0 241.0 L1092.5 240.6 L1092.9 241.0 L1093.4 241.2 L1093.9 240.9 L1094.3 240.2 L1094.8 240.1 L1095.3 239.7 L1095.8 239.8 L1096.2 239.9 L1096.7 239.6 L1097.2 239.9 L1097.6 239.7 L1098.1 239.6 L1098.6 239.8 L1099.0 240.1 L1099.5 240.1 L1100.0 240.2 L1100.4 240.3 L1100.9 240.0 L1101.4 240.0 L1101.9 240.3 L1102.3 240.5 L1102.8 240.4 L1103.3 240.3 L1103.7 240.7 L1104.2 240.3 L1104.7 240.7 L1105.1 240.5 L1105.6 240.6 L1106.1 240.6 L1106.6 240.4 L1107.0 240.5 L1107.5 240.3 L1108.0 240.6 L1108.4 240.0 L1108.9 240.3 L1109.4 239.9 L1109.8 239.8 L1110.3 239.7 L1110.8 239.4 L1111.2 239.5 L1111.7 239.7 L1112.2 239.9 L1112.7 239.9 L1113.1 239.1 L1113.6 239.2 L1114.1 238.5 L1114.5 238.5 L1115.0 238.6 L1115.5 237.7 L1115.9 237.4 L1116.4 237.0 L1116.9 236.8 L1117.3 235.8 L1117.8 235.9 L1118.3 235.0 L1118.8 234.2 L1119.2 233.2 L1119.7 232.8 L1120.2 232.5 L1120.6 232.6 L1121.1 232.9 L1121.6 232.5 L1122.0 231.5 L1122.5 231.7 L1123.0 231.7 L1123.4 230.8 L1123.9 231.3 L1124.4 231.3 L1124.9 231.4 L1125.3 231.6 L1125.8 232.2 L1126.3 231.6 L1126.7 231.5 L1127.2 231.8 L1127.7 231.1 L1128.1 230.6 L1128.6 229.3 L1129.1 229.1 L1129.5 229.0 L1130.0 227.7 L1130.5 226.5 L1131.0 225.6 L1131.4 225.5 L1131.9 225.5 L1132.4 226.1 L1132.8 226.4 L1133.3 226.5 L1133.8 226.8 L1134.2 227.5 L1134.7 228.2 L1135.2 228.0 L1135.7 228.1 L1136.1 227.5 L1136.6 227.8 L1137.1 228.0 L1137.5 227.7 L1138.0 228.7 L1138.5 228.7 L1138.9 228.6 L1139.4 228.7 L1139.9 228.0 L1140.3 226.8" stroke="#f6b63d" stroke-width="4"/>
<path d="M167.8 208.8 L168.3 206.9 L168.7 206.6 L169.2 205.9 L169.7 203.4 L170.1 201.2 L170.6 200.1 L171.1 199.7 L171.6 198.2 L172.0 199.0 L172.5 202.3 L173.0 203.5 L173.4 205.5 L173.9 208.2 L174.4 210.8 L174.8 214.3 L175.3 217.1 L175.8 216.7 L176.2 218.1 L176.7 219.1 L177.2 220.4 L177.7 219.9 L178.1 218.9 L178.6 218.0 L179.1 217.8 L179.5 216.5 L180.0 215.2 L180.5 214.0 L180.9 212.3 L181.4 211.9 L181.9 210.4 L182.4 210.0 L182.8 210.2 L183.3 210.1 L183.8 209.1 L184.2 208.5 L184.7 208.5 L185.2 207.2 L185.6 205.2 L186.1 203.5 L186.6 201.8 L187.0 202.1 L187.5 201.2 L188.0 200.1 L188.5 199.8 L188.9 199.7 L189.4 201.5 L189.9 202.4 L190.3 203.1 L190.8 202.8 L191.3 202.0 L191.7 201.2 L192.2 200.6 L192.7 201.3 L193.1 201.9 L193.6 202.2 L194.1 203.4 L194.6 201.9 L195.0 201.6 L195.5 200.5 L196.0 200.1 L196.4 198.6 L196.9 197.7 L197.4 196.6 L197.8 196.0 L198.3 196.4 L198.8 196.1 L199.2 198.7 L199.7 198.8 L200.2 197.9 L200.7 197.4 L201.1 197.4 L201.6 195.1 L202.1 194.5 L202.5 193.3 L203.0 193.1 L203.5 192.8 L203.9 191.7 L204.4 191.4 L204.9 191.8 L205.4 191.8 L205.8 192.2 L206.3 193.7 L206.8 194.9 L207.2 195.4 L207.7 197.0 L208.2 199.1 L208.6 201.8 L209.1 203.6 L209.6 203.9 L210.0 204.0 L210.5 202.1 L211.0 202.8 L211.5 201.5 L211.9 200.3 L212.4 199.4 L212.9 198.2 L213.3 197.7 L213.8 197.5 L214.3 198.0 L214.7 197.7 L215.2 197.3 L215.7 197.9 L216.1 199.2 L216.6 199.8 L217.1 200.5 L217.6 201.0 L218.0 200.7 L218.5 199.2 L219.0 200.3 L219.4 201.9 L219.9 201.7 L220.4 202.1 L220.8 200.6 L221.3 199.3 L221.8 199.3 L222.2 198.7 L222.7 200.0 L223.2 199.6 L223.7 200.9 L224.1 201.4 L224.6 201.2 L225.1 203.9 L225.5 205.2 L226.0 206.6 L226.5 206.8 L226.9 207.2 L227.4 207.0 L227.9 207.8 L228.3 209.3 L228.8 211.9 L229.3 212.8 L229.8 215.0 L230.2 214.3 L230.7 214.9 L231.2 214.8 L231.6 215.7 L232.1 215.7 L232.6 215.9 L233.0 215.7 L233.5 216.1 L234.0 216.6 L234.5 216.9 L234.9 217.2 L235.4 217.6 L235.9 217.7 L236.3 217.8 L236.8 216.0 L237.3 216.5 L237.7 217.0 L238.2 216.0 L238.7 216.0 L239.1 216.2 L239.6 215.6 L240.1 215.1 L240.6 216.3 L241.0 215.7 L241.5 215.9 L242.0 215.7 L242.4 216.6 L242.9 215.9 L243.4 215.1 L243.8 216.5 L244.3 214.7 L244.8 213.4 L245.2 214.3 L245.7 213.4 L246.2 213.1 L246.7 212.4 L247.1 212.6 L247.6 211.6 L248.1 211.0 L248.5 211.0 L249.0 211.3 L249.5 212.6 L249.9 212.0 L250.4 212.9 L250.9 212.7 L251.3 213.2 L251.8 211.5 L252.3 212.4 L252.8 211.7 L253.2 212.3 L253.7 212.5 L254.2 212.1 L254.6 212.2 L255.1 210.8 L255.6 211.6 L256.0 210.7 L256.5 212.3 L257.0 212.9 L257.5 212.4 L257.9 213.4 L258.4 211.7 L258.9 211.7 L259.3 211.9 L259.8 210.9 L260.3 211.4 L260.7 211.5 L261.2 212.5 L261.7 212.2 L262.1 211.0 L262.6 211.3 L263.1 209.6 L263.6 208.4 L264.0 207.7 L264.5 208.3 L265.0 207.7 L265.4 207.4 L265.9 205.8 L266.4 204.7 L266.8 204.8 L267.3 204.4 L267.8 204.3 L268.2 204.0 L268.7 204.9 L269.2 205.4 L269.7 204.9 L270.1 205.0 L270.6 205.3 L271.1 206.0 L271.5 205.8 L272.0 206.1 L272.5 207.0 L272.9 206.0 L273.4 206.4 L273.9 207.8 L274.3 208.6 L274.8 209.6 L275.3 211.1 L275.8 212.0 L276.2 213.1 L276.7 213.6 L277.2 213.3 L277.6 213.6 L278.1 214.8 L278.6 214.9 L279.0 215.2 L279.5 215.7 L280.0 214.8 L280.5 215.7 L280.9 214.7 L281.4 215.6 L281.9 214.8 L282.3 214.9 L282.8 213.6 L283.3 213.0 L283.7 213.2 L284.2 212.2 L284.7 212.1 L285.1 212.4 L285.6 212.7 L286.1 214.3 L286.6 213.9 L287.0 215.6 L287.5 216.5 L288.0 218.0 L288.4 218.3 L288.9 219.4 L289.4 219.5 L289.8 220.8 L290.3 219.1 L290.8 218.9 L291.2 218.4 L291.7 218.3 L292.2 218.7 L292.7 218.6 L293.1 218.6 L293.6 219.6 L294.1 219.8 L294.5 219.4 L295.0 218.5 L295.5 219.3 L295.9 219.0 L296.4 219.3 L296.9 218.8 L297.3 218.6 L297.8 219.7 L298.3 220.3 L298.8 219.4 L299.2 219.4 L299.7 220.2 L300.2 220.3 L300.6 221.0 L301.1 221.3 L301.6 221.7 L302.0 221.4 L302.5 220.7 L303.0 220.5 L303.4 220.7 L303.9 221.4 L304.4 221.4 L304.9 222.2 L305.3 223.1 L305.8 223.6 L306.3 224.8 L306.7 225.2 L307.2 226.3 L307.7 225.6 L308.1 225.8 L308.6 226.5 L309.1 226.7 L309.6 226.5 L310.0 226.2 L310.5 226.5 L311.0 226.0 L311.4 226.0 L311.9 225.2 L312.4 224.5 L312.8 224.6 L313.3 226.2 L313.8 227.2 L314.2 226.6 L314.7 226.8 L315.2 226.9 L315.7 227.3 L316.1 227.8 L316.6 227.1 L317.1 227.3 L317.5 227.4 L318.0 228.2 L318.5 228.2 L318.9 227.6 L319.4 227.8 L319.9 227.7 L320.3 228.2 L320.8 228.0 L321.3 228.4 L321.8 228.5 L322.2 228.0 L322.7 227.5 L323.2 228.1 L323.6 228.4 L324.1 228.5 L324.6 228.6 L325.0 228.6 L325.5 228.2 L326.0 228.1 L326.4 228.1 L326.9 227.8 L327.4 228.6 L327.9 228.3 L328.3 227.2 L328.8 228.0 L329.3 228.2 L329.7 227.4 L330.2 226.3 L330.7 226.2 L331.1 226.2 L331.6 224.5 L332.1 225.3 L332.6 224.6 L333.0 223.8 L333.5 224.7 L334.0 223.4 L334.4 222.6 L334.9 224.0 L335.4 224.2 L335.8 224.2 L336.3 223.9 L336.8 224.2 L337.2 223.6 L337.7 223.3 L338.2 223.3 L338.7 223.0 L339.1 221.8 L339.6 221.6 L340.1 221.0 L340.5 220.7 L341.0 220.4 L341.5 219.8 L341.9 220.3 L342.4 220.8 L342.9 221.8 L343.3 221.7 L343.8 222.9 L344.3 223.2 L344.8 221.8 L345.2 222.3 L345.7 221.6 L346.2 222.1 L346.6 222.7 L347.1 222.7 L347.6 223.6 L348.0 224.8 L348.5 224.5 L349.0 224.9 L349.4 224.9 L349.9 224.3 L350.4 224.4 L350.9 225.4 L351.3 224.9 L351.8 225.7 L352.3 226.0 L352.7 223.9 L353.2 224.2 L353.7 224.9 L354.1 223.9 L354.6 223.3 L355.1 222.5 L355.5 222.2 L356.0 222.3 L356.5 221.8 L357.0 222.0 L357.4 222.4 L357.9 221.8 L358.4 221.9 L358.8 221.0 L359.3 221.0 L359.8 220.9 L360.2 220.8 L360.7 220.0 L361.2 219.3 L361.7 219.9 L362.1 221.3 L362.6 220.5 L363.1 221.0 L363.5 220.5 L364.0 221.0 L364.5 220.7 L364.9 221.0 L365.4 221.1 L365.9 221.2 L366.3 220.5 L366.8 219.9 L367.3 220.3 L367.8 220.7 L368.2 219.3 L368.7 217.4 L369.2 218.2 L369.6 218.3 L370.1 218.7 L370.6 218.9 L371.0 217.4 L371.5 218.3 L372.0 217.6 L372.4 217.7 L372.9 216.9 L373.4 215.8 L373.9 215.9 L374.3 216.1 L374.8 215.7 L375.3 216.4 L375.7 217.8 L376.2 216.6 L376.7 217.5 L377.1 217.7 L377.6 216.9 L378.1 217.4 L378.5 218.4 L379.0 218.4 L379.5 220.1 L380.0 221.6 L380.4 222.2 L380.9 222.1 L381.4 222.3 L381.8 223.2 L382.3 221.6 L382.8 221.4 L383.2 221.5 L383.7 221.8 L384.2 221.6 L384.7 221.3 L385.1 221.4 L385.6 219.7 L386.1 219.9 L386.5 220.7 L387.0 221.5 L387.5 222.9 L387.9 222.2 L388.4 222.8 L388.9 222.3 L389.3 222.5 L389.8 223.4 L390.3 223.1 L390.8 223.1 L391.2 223.2 L391.7 222.8 L392.2 222.4 L392.6 222.2 L393.1 221.5 L393.6 221.1 L394.0 221.2 L394.5 221.1 L395.0 221.0 L395.4 220.9 L395.9 220.6 L396.4 220.1 L396.9 220.1 L397.3 220.9 L397.8 220.2 L398.3 220.3 L398.7 219.9 L399.2 218.5 L399.7 218.6 L400.1 220.6 L400.6 221.2 L401.1 220.2 L401.5 220.8 L402.0 221.7 L402.5 222.3 L403.0 221.8 L403.4 222.0 L403.9 221.8 L404.4 221.9 L404.8 221.8 L405.3 222.1 L405.8 222.4 L406.2 221.8 L406.7 221.1 L407.2 222.0 L407.7 222.0 L408.1 220.9 L408.6 222.2 L409.1 222.9 L409.5 222.4 L410.0 222.2 L410.5 222.7 L410.9 222.5 L411.4 223.1 L411.9 223.4 L412.3 223.8 L412.8 223.9 L413.3 224.3 L413.8 223.9 L414.2 224.1 L414.7 223.9 L415.2 224.7 L415.6 225.5 L416.1 225.9 L416.6 226.1 L417.0 226.0 L417.5 226.5 L418.0 226.0 L418.4 225.6 L418.9 226.1 L419.4 226.3 L419.9 225.3 L420.3 225.9 L420.8 225.0 L421.3 225.7 L421.7 226.7 L422.2 227.1 L422.7 227.2 L423.1 225.7 L423.6 226.9 L424.1 227.6 L424.5 227.1 L425.0 226.4 L425.5 225.1 L426.0 225.1 L426.4 226.1 L426.9 225.4 L427.4 225.6 L427.8 226.8 L428.3 227.1 L428.8 227.5 L429.2 228.0 L429.7 228.5 L430.2 228.8 L430.7 228.7 L431.1 229.2 L431.6 228.9 L432.1 229.0 L432.5 230.2 L433.0 230.1 L433.5 230.4 L433.9 230.4 L434.4 231.0 L434.9 231.0 L435.3 231.4 L435.8 231.8 L436.3 232.4 L436.8 233.3 L437.2 233.2 L437.7 232.7 L438.2 232.6 L438.6 232.4 L439.1 232.5 L439.6 232.4 L440.0 232.8 L440.5 232.8 L441.0 231.9 L441.4 230.8 L441.9 230.6 L442.4 231.1 L442.9 231.3 L443.3 231.0 L443.8 231.8 L444.3 231.9 L444.7 231.8 L445.2 231.6 L445.7 231.8 L446.1 232.4 L446.6 232.7 L447.1 233.2 L447.5 233.1 L448.0 233.2 L448.5 233.9 L449.0 234.8 L449.4 235.7 L449.9 235.8 L450.4 235.5 L450.8 235.5 L451.3 235.6 L451.8 235.7 L452.2 235.8 L452.7 236.3 L453.2 236.6 L453.6 237.3 L454.1 236.6 L454.6 236.6 L455.1 236.3 L455.5 236.2 L456.0 235.6 L456.5 235.5 L456.9 234.8 L457.4 234.9 L457.9 234.2 L458.3 234.3 L458.8 234.1 L459.3 234.6 L459.8 234.8 L460.2 235.3 L460.7 235.6 L461.2 235.5 L461.6 236.0 L462.1 236.5 L462.6 236.6 L463.0 235.7 L463.5 235.8 L464.0 236.2 L464.4 236.5 L464.9 236.6 L465.4 236.7 L465.9 236.1 L466.3 236.2 L466.8 236.5 L467.3 237.3 L467.7 237.3 L468.2 236.8 L468.7 236.7 L469.1 236.3 L469.6 236.2 L470.1 235.9 L470.5 235.8 L471.0 236.2 L471.5 236.7 L472.0 236.7 L472.4 236.8 L472.9 237.0 L473.4 236.7 L473.8 236.2 L474.3 236.7 L474.8 237.0 L475.2 237.4 L475.7 237.2 L476.2 237.0 L476.6 237.0 L477.1 236.5 L477.6 236.7 L478.1 236.2 L478.5 236.4 L479.0 236.1 L479.5 236.2 L479.9 235.8 L480.4 235.3 L480.9 235.9 L481.3 236.1 L481.8 235.9 L482.3 235.9 L482.8 235.7 L483.2 236.9 L483.7 236.3 L484.2 235.5 L484.6 235.1 L485.1 235.3 L485.6 234.3 L486.0 233.8 L486.5 233.4 L487.0 233.0 L487.4 232.5 L487.9 231.8 L488.4 231.9 L488.9 232.6 L489.3 231.1 L489.8 231.5 L490.3 230.3 L490.7 229.7 L491.2 229.4 L491.7 230.0 L492.1 229.5 L492.6 229.7 L493.1 229.7 L493.5 229.5 L494.0 229.5 L494.5 228.4 L495.0 228.9 L495.4 228.8 L495.9 228.9 L496.4 228.7 L496.8 228.5 L497.3 228.5 L497.8 228.2 L498.2 227.9 L498.7 227.5 L499.2 226.8 L499.6 226.8 L500.1 226.7 L500.6 226.1 L501.1 225.9 L501.5 225.4 L502.0 224.8 L502.5 225.7 L502.9 224.8 L503.4 224.4 L503.9 224.6 L504.3 224.7 L504.8 224.9 L505.3 223.9 L505.8 223.4 L506.2 224.0 L506.7 224.6 L507.2 225.5 L507.6 224.6 L508.1 224.6 L508.6 225.4 L509.0 226.4 L509.5 226.7 L510.0 227.1 L510.4 227.6 L510.9 227.9 L511.4 228.1 L511.9 228.3 L512.3 228.1 L512.8 228.9 L513.3 228.8 L513.7 229.1 L514.2 229.1 L514.7 229.2 L515.1 229.0 L515.6 229.3 L516.1 230.0 L516.5 230.2 L517.0 228.9 L517.5 229.9 L518.0 229.7 L518.4 229.1 L518.9 229.2 L519.4 229.3 L519.8 228.8 L520.3 229.1 L520.8 229.7 L521.2 229.7 L521.7 229.9 L522.2 229.9 L522.6 230.0 L523.1 230.6 L523.6 230.8 L524.1 230.9 L524.5 231.2 L525.0 231.6 L525.5 231.2 L525.9 232.4 L526.4 232.3 L526.9 231.8 L527.3 232.0 L527.8 232.7 L528.3 233.1 L528.7 232.1 L529.2 232.2 L529.7 232.6 L530.2 232.7 L530.6 232.3 L531.1 231.6 L531.6 231.5 L532.0 230.6 L532.5 230.4 L533.0 230.0 L533.4 229.3 L533.9 230.1 L534.4 229.7 L534.9 229.3 L535.3 229.1 L535.8 229.0 L536.3 228.6 L536.7 228.1 L537.2 228.4 L537.7 228.2 L538.1 227.9 L538.6 228.2 L539.1 227.8 L539.5 228.4 L540.0 228.1 L540.5 228.5 L541.0 228.3 L541.4 228.3 L541.9 229.0 L542.4 228.5 L542.8 228.3 L543.3 228.3 L543.8 228.9 L544.2 229.0 L544.7 229.4 L545.2 229.7 L545.6 229.9 L546.1 230.0 L546.6 230.3 L547.1 231.0 L547.5 230.6 L548.0 231.8 L548.5 230.8 L548.9 230.5 L549.4 230.1 L549.9 230.0 L550.3 229.5 L550.8 229.1 L551.3 229.5 L551.7 229.8 L552.2 230.2 L552.7 230.5 L553.2 229.6 L553.6 229.3 L554.1 228.3 L554.6 229.0 L555.0 229.0 L555.5 228.4 L556.0 228.3 L556.4 227.7 L556.9 228.3 L557.4 227.7 L557.9 228.1 L558.3 228.2 L558.8 228.0 L559.3 229.0 L559.7 229.2 L560.2 229.6 L560.7 229.1 L561.1 230.1 L561.6 230.1 L562.1 230.3 L562.5 229.6 L563.0 228.9 L563.5 229.3 L564.0 228.6 L564.4 228.9 L564.9 229.9 L565.4 229.9 L565.8 230.3 L566.3 229.8 L566.8 229.8 L567.2 229.9 L567.7 230.5 L568.2 230.5 L568.6 230.9 L569.1 230.7 L569.6 230.0 L570.1 230.3 L570.5 229.7 L571.0 230.0 L571.5 230.3 L571.9 230.5 L572.4 231.5 L572.9 230.9 L573.3 231.4 L573.8 231.9 L574.3 231.4 L574.7 231.8 L575.2 231.2 L575.7 230.7 L576.2 230.5 L576.6 231.3 L577.1 231.2 L577.6 230.6 L578.0 230.6 L578.5 230.6 L579.0 229.8 L579.4 230.0 L579.9 230.6 L580.4 231.2 L580.8 231.3 L581.3 231.7 L581.8 231.7 L582.3 231.3 L582.7 231.8 L583.2 231.4 L583.7 231.6 L584.1 231.2 L584.6 231.8 L585.1 232.0 L585.5 231.9 L586.0 231.7 L586.5 231.9 L587.0 233.7 L587.4 233.7 L587.9 234.6 L588.4 234.7 L588.8 235.3 L589.3 235.9 L589.8 236.2 L590.2 236.3 L590.7 235.9 L591.2 235.3 L591.6 235.0 L592.1 234.8 L592.6 234.3 L593.1 233.8 L593.5 234.6 L594.0 234.7 L594.5 235.2 L594.9 234.8 L595.4 234.9 L595.9 234.1 L596.3 233.9 L596.8 233.7 L597.3 233.1 L597.7 233.1 L598.2 234.2 L598.7 232.9 L599.2 232.2 L599.6 232.4 L600.1 232.2 L600.6 232.5 L601.0 233.4 L601.5 233.8 L602.0 232.6 L602.4 232.1 L602.9 231.5 L603.4 230.9 L603.8 231.3 L604.3 230.9 L604.8 230.6 L605.3 230.2 L605.7 230.4 L606.2 230.9 L606.7 230.8 L607.1 231.7 L607.6 231.0 L608.1 231.0 L608.5 231.1 L609.0 230.6 L609.5 230.4 L610.0 230.4 L610.4 230.8 L610.9 231.0 L611.4 230.7 L611.8 230.4 L612.3 230.3 L612.8 230.5 L613.2 230.1 L613.7 230.3 L614.2 230.1 L614.6 230.4 L615.1 230.9 L615.6 230.0 L616.1 229.3 L616.5 229.1 L617.0 228.4 L617.5 228.2 L617.9 228.1 L618.4 227.3 L618.9 227.3 L619.3 227.6 L619.8 227.4 L620.3 227.4 L620.7 227.8 L621.2 227.3 L621.7 227.4 L622.2 227.7 L622.6 227.8 L623.1 226.9 L623.6 226.8 L624.0 226.9 L624.5 227.6 L625.0 227.9 L625.4 227.2 L625.9 226.6 L626.4 226.5 L626.8 226.9 L627.3 226.9 L627.8 227.9 L628.3 227.6 L628.7 227.9 L629.2 227.6 L629.7 227.7 L630.1 228.8 L630.6 228.6 L631.1 228.0 L631.5 227.9 L632.0 228.0 L632.5 228.7 L633.0 229.1 L633.4 228.8 L633.9 229.6 L634.4 229.3 L634.8 229.6 L635.3 229.3 L635.8 229.0 L636.2 229.4 L636.7 230.0 L637.2 230.1 L637.6 230.4 L638.1 231.9 L638.6 231.5 L639.1 231.9 L639.5 232.0 L640.0 231.9 L640.5 233.8 L640.9 234.6 L641.4 234.3 L641.9 234.8 L642.3 234.5 L642.8 233.7 L643.3 234.7 L643.7 235.3 L644.2 235.5 L644.7 235.2 L645.2 235.8 L645.6 235.6 L646.1 235.7 L646.6 235.8 L647.0 236.4 L647.5 236.1 L648.0 235.8 L648.4 236.2 L648.9 235.2 L649.4 235.7 L649.8 236.4 L650.3 236.3 L650.8 236.5 L651.3 236.5 L651.7 236.9 L652.2 236.4 L652.7 236.7 L653.1 237.1 L653.6 237.0 L654.1 237.7 L654.5 238.0 L655.0 238.5 L655.5 238.8 L656.0 239.2 L656.4 239.7 L656.9 240.1 L657.4 240.9 L657.8 242.0 L658.3 241.2 L658.8 240.9 L659.2 241.4 L659.7 241.9 L660.2 241.5 L660.6 241.2 L661.1 240.4 L661.6 239.7 L662.1 240.0 L662.5 240.5 L663.0 240.0 L663.5 240.2 L663.9 240.6 L664.4 240.6 L664.9 240.2 L665.3 240.1 L665.8 240.1 L666.3 239.6 L666.7 238.9 L667.2 237.9 L667.7 238.0 L668.2 237.7 L668.6 238.6 L669.1 238.7 L669.6 239.2 L670.0 238.7 L670.5 239.5 L671.0 239.6 L671.4 239.3 L671.9 239.8 L672.4 239.8 L672.8 240.4 L673.3 240.7 L673.8 240.2 L674.3 241.3 L674.7 241.8 L675.2 242.0 L675.7 242.3 L676.1 242.2 L676.6 243.3 L677.1 242.9 L677.5 243.1 L678.0 243.5 L678.5 243.6 L678.9 243.9 L679.4 243.6 L679.9 243.7 L680.4 244.1 L680.8 243.9 L681.3 244.5 L681.8 244.3 L682.2 244.5 L682.7 244.2 L683.2 244.3 L683.6 244.4 L684.1 244.5 L684.6 244.5 L685.1 244.5 L685.5 244.5 L686.0 244.4 L686.5 244.1 L686.9 244.3 L687.4 244.7 L687.9 245.0 L688.3 245.1 L688.8 244.9 L689.3 245.3 L689.7 245.1 L690.2 245.5 L690.7 245.8 L691.2 245.7 L691.6 245.2 L692.1 245.3 L692.6 245.9 L693.0 246.6 L693.5 246.2 L694.0 246.0 L694.4 246.3 L694.9 246.8 L695.4 246.7 L695.8 246.5 L696.3 246.2 L696.8 245.5 L697.3 245.6 L697.7 245.7 L698.2 245.0 L698.7 245.1 L699.1 244.3 L699.6 244.4 L700.1 244.4 L700.5 244.6 L701.0 244.8 L701.5 245.1 L701.9 244.8 L702.4 244.8 L702.9 245.5 L703.4 244.7 L703.8 244.7 L704.3 244.0 L704.8 243.6 L705.2 244.3 L705.7 244.3 L706.2 243.9 L706.6 244.0 L707.1 244.5 L707.6 245.1 L708.1 244.6 L708.5 244.7 L709.0 244.3 L709.5 244.8 L709.9 244.4 L710.4 244.6 L710.9 245.4 L711.3 245.1 L711.8 245.5 L712.3 245.8 L712.7 245.3 L713.2 244.6 L713.7 244.7 L714.2 243.8 L714.6 243.3 L715.1 242.4 L715.6 242.2 L716.0 241.7 L716.5 241.4 L717.0 241.2 L717.4 240.9 L717.9 240.6 L718.4 240.6 L718.8 240.8 L719.3 240.9 L719.8 241.0 L720.3 241.3 L720.7 241.6 L721.2 241.4 L721.7 241.8 L722.1 241.7 L722.6 242.2 L723.1 241.5 L723.5 241.5 L724.0 241.7 L724.5 241.7 L724.9 241.8 L725.4 242.0 L725.9 241.1 L726.4 241.1 L726.8 241.4 L727.3 241.3 L727.8 240.8 L728.2 240.1 L728.7 240.0 L729.2 240.2 L729.6 240.2 L730.1 239.8 L730.6 239.4 L731.0 239.3 L731.5 239.3 L732.0 239.6 L732.5 239.5 L732.9 239.1 L733.4 239.0 L733.9 238.5 L734.3 238.2 L734.8 237.8 L735.3 237.3 L735.7 237.2 L736.2 237.3 L736.7 237.7 L737.2 237.9 L737.6 237.3 L738.1 237.4 L738.6 237.4 L739.0 238.6 L739.5 237.7 L740.0 237.4 L740.4 238.1 L740.9 237.9 L741.4 237.5 L741.8 237.0 L742.3 236.9 L742.8 236.8 L743.3 236.7 L743.7 236.8 L744.2 236.0 L744.7 236.0 L745.1 236.3 L745.6 236.7 L746.1 237.0 L746.5 236.5 L747.0 236.4 L747.5 235.7 L747.9 235.6 L748.4 235.1 L748.9 235.8 L749.4 235.3 L749.8 235.0 L750.3 234.9 L750.8 235.3 L751.2 235.2 L751.7 235.1 L752.2 234.9 L752.6 234.8 L753.1 235.6 L753.6 235.0 L754.0 234.5 L754.5 234.6 L755.0 234.3 L755.5 232.8 L755.9 232.8 L756.4 233.1 L756.9 233.3 L757.3 233.8 L757.8 234.4 L758.3 234.0 L758.7 233.8 L759.2 233.7 L759.7 233.3 L760.2 233.4 L760.6 233.9 L761.1 233.4 L761.6 232.6 L762.0 232.7 L762.5 232.2 L763.0 232.2 L763.4 232.1 L763.9 232.3 L764.4 232.4 L764.8 233.1 L765.3 232.5 L765.8 233.3 L766.3 233.7 L766.7 233.8 L767.2 233.6 L767.7 233.7 L768.1 233.6 L768.6 233.9 L769.1 234.0 L769.5 233.9 L770.0 233.9 L770.5 233.8 L770.9 234.1 L771.4 233.8 L771.9 233.5 L772.4 233.6 L772.8 233.2 L773.3 233.9 L773.8 234.4 L774.2 235.0 L774.7 234.5 L775.2 234.3 L775.6 234.2 L776.1 234.1 L776.6 233.9 L777.0 234.2 L777.5 234.3 L778.0 233.8 L778.5 234.9 L778.9 234.4 L779.4 234.4 L779.9 233.9 L780.3 233.6 L780.8 234.3 L781.3 233.9 L781.7 234.4 L782.2 234.1 L782.7 234.3 L783.2 234.5 L783.6 234.0 L784.1 233.3 L784.6 233.0 L785.0 233.4 L785.5 233.5 L786.0 233.3 L786.4 233.7 L786.9 233.5 L787.4 233.4 L787.8 233.5 L788.3 234.0 L788.8 234.7 L789.3 234.7 L789.7 235.3 L790.2 236.2 L790.7 236.2 L791.1 236.1 L791.6 236.8 L792.1 236.7 L792.5 236.2 L793.0 236.6 L793.5 236.9 L793.9 237.3 L794.4 237.9 L794.9 238.9 L795.4 239.4 L795.8 239.6 L796.3 239.5 L796.8 240.0 L797.2 241.1 L797.7 240.9 L798.2 241.9 L798.6 242.2 L799.1 242.9 L799.6 243.4 L800.0 243.0 L800.5 243.3 L801.0 244.0 L801.5 244.4 L801.9 244.7 L802.4 245.2 L802.9 244.9 L803.3 244.3 L803.8 244.1 L804.3 243.7 L804.7 243.2 L805.2 242.8 L805.7 242.7 L806.1 242.1 L806.6 241.6 L807.1 241.4 L807.6 241.1 L808.0 240.7 L808.5 241.2 L809.0 241.4 L809.4 241.4 L809.9 241.7 L810.4 241.9 L810.8 242.4 L811.3 242.3 L811.8 242.6 L812.3 242.8 L812.7 242.9 L813.2 243.3 L813.7 243.5 L814.1 244.1 L814.6 244.3 L815.1 244.7 L815.5 245.2 L816.0 245.3 L816.5 245.8 L816.9 246.1 L817.4 246.2 L817.9 246.5 L818.4 246.9 L818.8 247.6 L819.3 248.0 L819.8 248.4 L820.2 247.9 L820.7 248.4 L821.2 248.4 L821.6 248.2 L822.1 248.1 L822.6 247.6 L823.0 247.3 L823.5 247.3 L824.0 247.2 L824.5 247.2 L824.9 247.5 L825.4 247.4 L825.9 247.6 L826.3 247.3 L826.8 247.6 L827.3 247.8 L827.7 247.8 L828.2 247.7 L828.7 248.0 L829.1 247.5 L829.6 247.6 L830.1 247.3 L830.6 247.3 L831.0 247.3 L831.5 247.0 L832.0 247.4 L832.4 247.3 L832.9 247.4 L833.4 247.0 L833.8 246.5 L834.3 246.8 L834.8 246.8 L835.3 246.9 L835.7 247.0 L836.2 247.4 L836.7 247.6 L837.1 247.6 L837.6 247.5 L838.1 247.7 L838.5 247.7 L839.0 248.2 L839.5 248.3 L839.9 248.5 L840.4 248.1 L840.9 247.7 L841.4 247.8 L841.8 247.5 L842.3 247.4 L842.8 248.1 L843.2 247.7 L843.7 247.5 L844.2 247.4 L844.6 247.2 L845.1 247.7 L845.6 247.5 L846.0 248.1 L846.5 247.6 L847.0 247.9 L847.5 247.3 L847.9 247.2 L848.4 247.3 L848.9 247.3 L849.3 246.8 L849.8 246.8 L850.3 247.1 L850.7 247.6 L851.2 247.7 L851.7 248.6 L852.1 248.4 L852.6 247.7 L853.1 248.4 L853.6 248.6 L854.0 248.9 L854.5 248.8 L855.0 248.9 L855.4 249.0 L855.9 248.9 L856.4 249.2 L856.8 249.3 L857.3 249.1 L857.8 249.1 L858.3 248.9 L858.7 249.0 L859.2 249.3 L859.7 249.4 L860.1 250.0 L860.6 250.3 L861.1 250.0 L861.5 249.4 L862.0 249.6 L862.5 249.4 L862.9 249.5 L863.4 249.0 L863.9 248.7 L864.4 248.8 L864.8 248.8 L865.3 248.7 L865.8 248.5 L866.2 248.0 L866.7 248.5 L867.2 248.2 L867.6 247.8 L868.1 248.0 L868.6 248.0 L869.0 247.9 L869.5 248.5 L870.0 248.4 L870.5 248.5 L870.9 248.6 L871.4 248.5 L871.9 248.4 L872.3 248.6 L872.8 249.1 L873.3 248.8 L873.7 249.2 L874.2 249.5 L874.7 249.3 L875.1 249.4 L875.6 249.7 L876.1 249.6 L876.6 249.6 L877.0 249.2 L877.5 249.6 L878.0 249.9 L878.4 249.7 L878.9 249.8 L879.4 250.4 L879.8 250.4 L880.3 250.4 L880.8 250.5 L881.3 250.6 L881.7 250.5 L882.2 250.4 L882.7 249.8 L883.1 249.5 L883.6 249.2 L884.1 248.9 L884.5 249.8 L885.0 249.7 L885.5 249.9 L885.9 249.7 L886.4 249.7 L886.9 250.2 L887.4 250.3 L887.8 250.2 L888.3 250.2 L888.8 249.8 L889.2 250.4 L889.7 250.3 L890.2 250.3 L890.6 249.8 L891.1 250.0 L891.6 249.6 L892.0 249.9 L892.5 249.5 L893.0 249.7 L893.5 249.8 L893.9 249.9 L894.4 249.8 L894.9 249.8 L895.3 250.0 L895.8 249.5 L896.3 249.6 L896.7 249.7 L897.2 250.1 L897.7 250.1 L898.1 250.1 L898.6 250.0 L899.1 249.9 L899.6 249.9 L900.0 249.8 L900.5 250.2 L901.0 250.1 L901.4 250.2 L901.9 249.7 L902.4 250.0 L902.8 250.5 L903.3 250.1 L903.8 250.3 L904.2 250.1 L904.7 250.1 L905.2 250.2 L905.7 250.1 L906.1 250.2 L906.6 249.8 L907.1 250.1 L907.5 249.7 L908.0 250.3 L908.5 250.3 L908.9 250.4 L909.4 250.2 L909.9 249.7 L910.4 249.8 L910.8 250.2 L911.3 249.9 L911.8 249.9 L912.2 250.3 L912.7 250.3 L913.2 250.1 L913.6 250.1 L914.1 250.2 L914.6 250.3 L915.0 250.3 L915.5 249.8 L916.0 250.2 L916.5 250.1 L916.9 250.4 L917.4 250.6 L917.9 250.1 L918.3 250.2 L918.8 250.2 L919.3 250.1 L919.7 250.0 L920.2 249.6 L920.7 249.9 L921.1 249.8 L921.6 250.0 L922.1 250.3 L922.6 250.1 L923.0 249.7 L923.5 250.2 L924.0 250.2 L924.4 250.0 L924.9 249.9 L925.4 249.9 L925.8 249.6 L926.3 249.8 L926.8 249.5 L927.2 249.8 L927.7 249.7 L928.2 249.7 L928.7 249.6 L929.1 249.9 L929.6 249.9 L930.1 249.9 L930.5 249.4 L931.0 249.4 L931.5 249.2 L931.9 249.7 L932.4 249.8 L932.9 249.8 L933.4 249.6 L933.8 249.5 L934.3 249.8 L934.8 250.2 L935.2 250.0 L935.7 250.1 L936.2 250.0 L936.6 250.0 L937.1 250.2 L937.6 250.1 L938.0 249.8 L938.5 249.7 L939.0 249.7 L939.5 249.5 L939.9 249.8 L940.4 249.6 L940.9 249.5 L941.3 249.4 L941.8 250.0 L942.3 249.7 L942.7 249.5 L943.2 249.3 L943.7 249.3 L944.1 249.0 L944.6 249.1 L945.1 249.0 L945.6 249.2 L946.0 249.5 L946.5 249.5 L947.0 248.9 L947.4 249.5 L947.9 249.0 L948.4 248.7 L948.8 248.4 L949.3 248.5 L949.8 248.7 L950.2 249.1 L950.7 249.5 L951.2 249.4 L951.7 249.5 L952.1 249.3 L952.6 249.2 L953.1 248.9 L953.5 248.9 L954.0 248.9 L954.5 248.7 L954.9 248.7 L955.4 248.9 L955.9 249.0 L956.4 248.9 L956.8 248.6 L957.3 248.6 L957.8 249.1 L958.2 248.8 L958.7 249.2 L959.2 248.7 L959.6 248.9 L960.1 248.9 L960.6 249.0 L961.0 248.5 L961.5 248.7 L962.0 249.3 L962.5 249.1 L962.9 248.9 L963.4 249.1 L963.9 248.9 L964.3 248.9 L964.8 248.3 L965.3 248.5 L965.7 248.4 L966.2 248.4 L966.7 248.6 L967.1 248.8 L967.6 248.6 L968.1 248.9 L968.6 248.5 L969.0 248.6 L969.5 248.1 L970.0 248.1 L970.4 248.4 L970.9 248.6 L971.4 248.5 L971.8 248.4 L972.3 248.7 L972.8 248.9 L973.2 248.9 L973.7 248.3 L974.2 248.3 L974.7 248.3 L975.1 248.3 L975.6 247.5 L976.1 247.9 L976.5 247.9 L977.0 247.7 L977.5 247.7 L977.9 247.6 L978.4 247.8 L978.9 248.2 L979.3 248.2 L979.8 247.8 L980.3 248.1 L980.8 248.4 L981.2 248.4 L981.7 248.2 L982.2 247.7 L982.6 248.1 L983.1 248.4 L983.6 247.9 L984.0 248.6 L984.5 248.6 L985.0 248.9 L985.5 248.4 L985.9 248.4 L986.4 248.5 L986.9 248.5 L987.3 248.4 L987.8 248.7 L988.3 248.4 L988.7 248.2 L989.2 248.4 L989.7 248.4 L990.1 248.4 L990.6 248.7 L991.1 248.1 L991.6 248.4 L992.0 248.4 L992.5 248.5 L993.0 248.3 L993.4 248.2 L993.9 247.9 L994.4 248.1 L994.8 248.2 L995.3 247.8 L995.8 247.7 L996.2 248.1 L996.7 247.9 L997.2 248.1 L997.7 247.6 L998.1 247.3 L998.6 246.9 L999.1 246.6 L999.5 246.4 L1000.0 246.2 L1000.5 246.5 L1000.9 246.7 L1001.4 247.2 L1001.9 246.7 L1002.3 246.5 L1002.8 246.4 L1003.3 246.5 L1003.8 246.6 L1004.2 246.6 L1004.7 246.4 L1005.2 246.4 L1005.6 246.4 L1006.1 246.5 L1006.6 246.5 L1007.0 246.9 L1007.5 246.9 L1008.0 246.6 L1008.5 246.3 L1008.9 246.5 L1009.4 246.4 L1009.9 246.2 L1010.3 246.1 L1010.8 246.6 L1011.3 245.8 L1011.7 246.1 L1012.2 245.8 L1012.7 245.7 L1013.1 245.6 L1013.6 245.9 L1014.1 246.6 L1014.6 246.3 L1015.0 246.1 L1015.5 246.0 L1016.0 245.9 L1016.4 246.1 L1016.9 246.2 L1017.4 245.7 L1017.8 245.6 L1018.3 245.5 L1018.8 245.2 L1019.2 245.2 L1019.7 245.0 L1020.2 245.1 L1020.7 244.6 L1021.1 244.3 L1021.6 244.3 L1022.1 244.3 L1022.5 244.0 L1023.0 244.1 L1023.5 243.7 L1023.9 243.3 L1024.4 243.6 L1024.9 243.3 L1025.3 243.3 L1025.8 242.8 L1026.3 242.9 L1026.8 243.1 L1027.2 243.0 L1027.7 242.8 L1028.2 242.7 L1028.6 242.9 L1029.1 243.1 L1029.6 242.2 L1030.0 242.1 L1030.5 241.9 L1031.0 242.1 L1031.4 241.3 L1031.9 241.8 L1032.4 241.7 L1032.9 242.0 L1033.3 241.7 L1033.8 241.6 L1034.3 241.1 L1034.7 241.0 L1035.2 241.6 L1035.7 241.6 L1036.1 241.7 L1036.6 241.6 L1037.1 241.3 L1037.6 241.8 L1038.0 241.2 L1038.5 241.0 L1039.0 240.5 L1039.4 241.3 L1039.9 240.6 L1040.4 241.0 L1040.8 241.5 L1041.3 240.6 L1041.8 241.0 L1042.2 240.6 L1042.7 240.1 L1043.2 240.2 L1043.7 241.3 L1044.1 241.0 L1044.6 241.1 L1045.1 241.6 L1045.5 242.0 L1046.0 242.1 L1046.5 241.8 L1046.9 241.6 L1047.4 242.0 L1047.9 241.5 L1048.3 241.9 L1048.8 241.8 L1049.3 241.4 L1049.8 242.3 L1050.2 242.3 L1050.7 242.5 L1051.2 242.5 L1051.6 242.4 L1052.1 242.8 L1052.6 242.2 L1053.0 242.6 L1053.5 243.1 L1054.0 242.7 L1054.4 243.7 L1054.9 243.8 L1055.4 244.1 L1055.9 244.0 L1056.3 244.4 L1056.8 244.2 L1057.3 244.4 L1057.7 244.2 L1058.2 245.0 L1058.7 245.5 L1059.1 245.4 L1059.6 245.3 L1060.1 245.2 L1060.6 245.7 L1061.0 245.6 L1061.5 245.2 L1062.0 245.1 L1062.4 245.2 L1062.9 245.6 L1063.4 245.3 L1063.8 245.8 L1064.3 245.5 L1064.8 245.0 L1065.2 245.0 L1065.7 245.0 L1066.2 245.1 L1066.7 244.7 L1067.1 244.6 L1067.6 245.0 L1068.1 245.0 L1068.5 244.8 L1069.0 245.8 L1069.5 246.1 L1069.9 245.6 L1070.4 246.0 L1070.9 246.5 L1071.3 247.5 L1071.8 248.2 L1072.3 248.7 L1072.8 249.8 L1073.2 249.8 L1073.7 250.1 L1074.2 249.9 L1074.6 250.2 L1075.1 250.2 L1075.6 250.4 L1076.0 250.5 L1076.5 250.5 L1077.0 250.5 L1077.4 250.4 L1077.9 250.4 L1078.4 250.3 L1078.9 250.2 L1079.3 250.4 L1079.8 250.7 L1080.3 250.4 L1080.7 250.1 L1081.2 250.2 L1081.7 250.2 L1082.1 250.5 L1082.6 250.7 L1083.1 250.9 L1083.6 250.8 L1084.0 250.6 L1084.5 250.6 L1085.0 250.8 L1085.4 250.5 L1085.9 250.3 L1086.4 250.5 L1086.8 250.3 L1087.3 250.3 L1087.8 250.1 L1088.2 249.9 L1088.7 250.0 L1089.2 250.6 L1089.7 250.7 L1090.1 250.4 L1090.6 250.6 L1091.1 250.1 L1091.5 250.8 L1092.0 250.3 L1092.5 250.3 L1092.9 250.3 L1093.4 250.4 L1093.9 250.7 L1094.3 250.6 L1094.8 250.5 L1095.3 250.8 L1095.8 250.7 L1096.2 250.7 L1096.7 250.5 L1097.2 251.0 L1097.6 250.7 L1098.1 250.1 L1098.6 249.8 L1099.0 250.0 L1099.5 249.7 L1100.0 250.2 L1100.4 250.0 L1100.9 249.9 L1101.4 250.2 L1101.9 249.9 L1102.3 249.8 L1102.8 250.0 L1103.3 250.0 L1103.7 250.2 L1104.2 250.0 L1104.7 249.9 L1105.1 250.3 L1105.6 250.0 L1106.1 250.1 L1106.6 249.8 L1107.0 250.0 L1107.5 249.8 L1108.0 249.6 L1108.4 249.3 L1108.9 249.7 L1109.4 249.4 L1109.8 249.3 L1110.3 249.1 L1110.8 249.2 L1111.2 249.0 L1111.7 248.7 L1112.2 248.8 L1112.7 248.5 L1113.1 248.3 L1113.6 248.0 L1114.1 247.2 L1114.5 247.0 L1115.0 246.4 L1115.5 246.1 L1115.9 245.7 L1116.4 245.3 L1116.9 245.4 L1117.3 244.9 L1117.8 244.5 L1118.3 243.6 L1118.8 243.5 L1119.2 242.2 L1119.7 241.9 L1120.2 241.5 L1120.6 241.7 L1121.1 241.9 L1121.6 241.5 L1122.0 241.4 L1122.5 241.0 L1123.0 240.8 L1123.4 240.5 L1123.9 239.8 L1124.4 239.4 L1124.9 240.0 L1125.3 239.6 L1125.8 239.5 L1126.3 239.6 L1126.7 239.3 L1127.2 239.7 L1127.7 239.3 L1128.1 238.7 L1128.6 237.9 L1129.1 237.4 L1129.5 236.9 L1130.0 236.4 L1130.5 235.2 L1131.0 234.9 L1131.4 235.3 L1131.9 235.1 L1132.4 235.3 L1132.8 235.0 L1133.3 234.7 L1133.8 235.8 L1134.2 235.3 L1134.7 235.9 L1135.2 235.8 L1135.7 235.5 L1136.1 235.7 L1136.6 235.3 L1137.1 235.1 L1137.5 234.7 L1138.0 234.9 L1138.5 234.5 L1138.9 235.2 L1139.4 235.8 L1139.9 235.6 L1140.3 235.9" stroke="#6bc659" stroke-width="4"/>
<path d="M686.0 242.7 L686.5 243.0 L686.9 243.2 L687.4 243.6 L687.9 243.7 L688.3 243.8 L688.8 243.7 L689.3 244.1 L689.7 243.5 L690.2 244.2 L690.7 243.8 L691.2 243.3 L691.6 243.1 L692.1 243.5 L692.6 243.7 L693.0 243.7 L693.5 243.8 L694.0 244.5 L694.4 244.5 L694.9 244.8 L695.4 244.7 L695.8 244.6 L696.3 244.2 L696.8 243.6 L697.3 243.4 L697.7 243.2 L698.2 243.2 L698.7 243.0 L699.1 243.2 L699.6 243.2 L700.1 243.2 L700.5 243.3 L701.0 242.8 L701.5 243.6 L701.9 244.0 L702.4 243.7 L702.9 243.5 L703.4 243.6 L703.8 243.5 L704.3 243.3 L704.8 243.8 L705.2 244.2 L705.7 244.1 L706.2 243.7 L706.6 243.7 L707.1 244.0 L707.6 244.0 L708.1 244.1 L708.5 244.5 L709.0 244.4 L709.5 244.6 L709.9 244.7 L710.4 244.8 L710.9 245.0 L711.3 245.0 L711.8 245.4 L712.3 245.7 L712.7 245.1 L713.2 244.8 L713.7 244.6 L714.2 244.0 L714.6 244.0 L715.1 243.9 L715.6 243.7 L716.0 243.2 L716.5 243.5 L717.0 243.5 L717.4 243.4 L717.9 243.5 L718.4 243.5 L718.8 243.3 L719.3 243.9 L719.8 243.9 L720.3 244.1 L720.7 243.7 L721.2 243.9 L721.7 244.1 L722.1 244.3 L722.6 244.6 L723.1 244.6 L723.5 244.5 L724.0 244.6 L724.5 244.3 L724.9 244.4 L725.4 244.8 L725.9 244.9 L726.4 244.9 L726.8 245.2 L727.3 245.1 L727.8 245.2 L728.2 245.1 L728.7 245.0 L729.2 245.2 L729.6 244.8 L730.1 245.0 L730.6 244.8 L731.0 245.0 L731.5 245.2 L732.0 245.2 L732.5 245.3 L732.9 245.1 L733.4 245.3 L733.9 244.7 L734.3 244.9 L734.8 244.3 L735.3 244.5 L735.7 244.8 L736.2 244.7 L736.7 244.9 L737.2 245.0 L737.6 245.0 L738.1 244.5 L738.6 245.0 L739.0 244.7 L739.5 244.9 L740.0 245.1 L740.4 245.1 L740.9 244.6 L741.4 244.6 L741.8 244.6 L742.3 244.2 L742.8 244.2 L743.3 244.0 L743.7 244.3 L744.2 244.0 L744.7 244.0 L745.1 244.5 L745.6 244.8 L746.1 244.8 L746.5 244.7 L747.0 244.3 L747.5 244.1 L747.9 244.0 L748.4 244.1 L748.9 244.3 L749.4 243.9 L749.8 244.0 L750.3 243.5 L750.8 243.1 L751.2 243.2 L751.7 243.1 L752.2 243.1 L752.6 243.2 L753.1 243.8 L753.6 244.0 L754.0 244.0 L754.5 243.8 L755.0 243.9 L755.5 243.7 L755.9 243.3 L756.4 243.4 L756.9 243.2 L757.3 243.3 L757.8 243.0 L758.3 242.6 L758.7 242.2 L759.2 242.1 L759.7 242.4 L760.2 241.9 L760.6 242.5 L761.1 242.4 L761.6 242.4 L762.0 242.2 L762.5 241.9 L763.0 242.0 L763.4 241.2 L763.9 241.2 L764.4 241.4 L764.8 241.8 L765.3 242.5 L765.8 242.2 L766.3 242.3 L766.7 242.6 L767.2 242.3 L767.7 242.4 L768.1 242.9 L768.6 243.1 L769.1 242.9 L769.5 242.6 L770.0 242.3 L770.5 242.2 L770.9 242.5 L771.4 242.8 L771.9 242.7 L772.4 242.6 L772.8 242.9 L773.3 243.1 L773.8 243.1 L774.2 243.2 L774.7 242.8 L775.2 242.9 L775.6 242.5 L776.1 242.5 L776.6 242.3 L777.0 241.9 L777.5 242.5 L778.0 242.5 L778.5 242.2 L778.9 242.4 L779.4 242.8 L779.9 243.0 L780.3 243.1 L780.8 243.3 L781.3 243.7 L781.7 243.4 L782.2 243.1 L782.7 242.6 L783.2 242.5 L783.6 242.8 L784.1 242.2 L784.6 242.2 L785.0 241.5 L785.5 241.5 L786.0 241.3 L786.4 241.4 L786.9 241.6 L787.4 241.3 L787.8 241.7 L788.3 242.4 L788.8 242.2 L789.3 242.5 L789.7 242.6 L790.2 242.6 L790.7 242.6 L791.1 242.8 L791.6 243.1 L792.1 243.2 L792.5 243.4 L793.0 243.3 L793.5 243.8 L793.9 243.9 L794.4 244.4 L794.9 244.6 L795.4 244.2 L795.8 244.3 L796.3 244.5 L796.8 244.3 L797.2 244.9 L797.7 245.2 L798.2 245.2 L798.6 245.5 L799.1 245.7 L799.6 245.9 L800.0 246.0 L800.5 245.7 L801.0 245.8 L801.5 246.0 L801.9 246.6 L802.4 246.9 L802.9 247.0 L803.3 246.9 L803.8 246.4 L804.3 246.0 L804.7 246.3 L805.2 246.3 L805.7 246.0 L806.1 246.1 L806.6 245.5 L807.1 245.2 L807.6 245.4 L808.0 245.3 L808.5 245.1 L809.0 245.0 L809.4 245.2 L809.9 245.4 L810.4 245.3 L810.8 245.1 L811.3 244.9 L811.8 245.0 L812.3 244.9 L812.7 244.7 L813.2 244.5 L813.7 244.4 L814.1 243.8 L814.6 242.9 L815.1 241.8 L815.5 241.1 L816.0 240.7 L816.5 240.7 L816.9 240.5 L817.4 240.3 L817.9 241.6 L818.4 241.9 L818.8 242.3 L819.3 243.4 L819.8 243.9 L820.2 244.0 L820.7 244.1 L821.2 244.0 L821.6 244.5 L822.1 244.6 L822.6 244.9 L823.0 244.8 L823.5 244.9 L824.0 244.8 L824.5 245.0 L824.9 245.0 L825.4 244.9 L825.9 245.3 L826.3 245.4 L826.8 245.5 L827.3 245.4 L827.7 245.3 L828.2 244.8 L828.7 244.6 L829.1 244.7 L829.6 244.2 L830.1 244.2 L830.6 243.9 L831.0 244.4 L831.5 244.5 L832.0 244.6 L832.4 244.1 L832.9 244.2 L833.4 244.5 L833.8 244.5 L834.3 244.6 L834.8 244.8 L835.3 245.1 L835.7 244.9 L836.2 245.0 L836.7 245.4 L837.1 245.4 L837.6 245.4 L838.1 245.6 L838.5 245.9 L839.0 245.9 L839.5 246.0 L839.9 246.0 L840.4 246.2 L840.9 246.2 L841.4 246.1 L841.8 246.2 L842.3 246.1 L842.8 246.4 L843.2 246.4 L843.7 246.5 L844.2 246.2 L844.6 246.1 L845.1 246.2 L845.6 246.0 L846.0 245.8 L846.5 245.8 L847.0 246.2 L847.5 245.4 L847.9 245.6 L848.4 245.4 L848.9 245.7 L849.3 245.8 L849.8 245.8 L850.3 245.9 L850.7 246.2 L851.2 246.0 L851.7 246.4 L852.1 246.5 L852.6 246.1 L853.1 246.3 L853.6 246.7 L854.0 246.5 L854.5 246.4 L855.0 246.3 L855.4 246.3 L855.9 246.7 L856.4 246.8 L856.8 247.2 L857.3 247.5 L857.8 247.7 L858.3 247.9 L858.7 248.1 L859.2 248.0 L859.7 248.5 L860.1 249.0 L860.6 249.2 L861.1 249.3 L861.5 248.8 L862.0 248.4 L862.5 248.4 L862.9 248.2 L863.4 248.0 L863.9 247.5 L864.4 247.1 L864.8 247.0 L865.3 247.2 L865.8 247.2 L866.2 247.5 L866.7 247.1 L867.2 246.7 L867.6 246.4 L868.1 246.6 L868.6 247.1 L869.0 246.8 L869.5 247.1 L870.0 247.5 L870.5 247.5 L870.9 247.7 L871.4 247.7 L871.9 247.8 L872.3 248.0 L872.8 248.3 L873.3 248.4 L873.7 248.9 L874.2 248.4 L874.7 248.4 L875.1 248.5 L875.6 248.3 L876.1 248.3 L876.6 248.5 L877.0 248.8 L877.5 249.2 L878.0 249.5 L878.4 249.9 L878.9 250.5 L879.4 250.7 L879.8 250.6 L880.3 250.7 L880.8 250.4 L881.3 250.6 L881.7 250.5 L882.2 249.9 L882.7 249.9 L883.1 250.0 L883.6 250.3 L884.1 250.6 L884.5 250.8 L885.0 251.0 L885.5 251.3 L885.9 251.4 L886.4 251.1 L886.9 250.9 L887.4 251.0 L887.8 251.3 L888.3 251.6 L888.8 251.3 L889.2 251.2 L889.7 251.3 L890.2 251.6 L890.6 251.9 L891.1 251.6 L891.6 251.7 L892.0 251.8 L892.5 251.9 L893.0 251.9 L893.5 251.8 L893.9 251.9 L894.4 251.6 L894.9 252.0 L895.3 251.8 L895.8 252.0 L896.3 252.2 L896.7 252.2 L897.2 252.7 L897.7 252.5 L898.1 252.8 L898.6 253.0 L899.1 252.9 L899.6 253.0 L900.0 253.3 L900.5 253.1 L901.0 253.3 L901.4 253.2 L901.9 253.3 L902.4 253.3 L902.8 253.3 L903.3 253.5 L903.8 253.7 L904.2 253.5 L904.7 253.5 L905.2 253.7 L905.7 253.8 L906.1 253.9 L906.6 253.4 L907.1 253.6 L907.5 253.5 L908.0 253.5 L908.5 253.5 L908.9 253.6 L909.4 254.0 L909.9 253.8 L910.4 253.5 L910.8 253.5 L911.3 253.0 L911.8 253.1 L912.2 253.1 L912.7 253.5 L913.2 253.1 L913.6 252.9 L914.1 253.3 L914.6 253.4 L915.0 253.1 L915.5 253.4 L916.0 253.3 L916.5 253.4 L916.9 253.1 L917.4 253.0 L917.9 252.7 L918.3 252.6 L918.8 252.6 L919.3 251.9 L919.7 251.1 L920.2 250.6 L920.7 250.1 L921.1 249.9 L921.6 249.6 L922.1 249.4 L922.6 249.1 L923.0 249.3 L923.5 249.5 L924.0 249.1 L924.4 249.1 L924.9 249.0 L925.4 248.6 L925.8 248.7 L926.3 248.3 L926.8 248.7 L927.2 249.3 L927.7 249.4 L928.2 249.5 L928.7 249.4 L929.1 249.3 L929.6 248.7 L930.1 248.6 L930.5 248.5 L931.0 248.6 L931.5 248.5 L931.9 248.3 L932.4 248.1 L932.9 248.7 L933.4 248.5 L933.8 248.5 L934.3 248.6 L934.8 248.7 L935.2 249.0 L935.7 249.1 L936.2 248.8 L936.6 248.8 L937.1 248.7 L937.6 248.7 L938.0 249.0 L938.5 248.8 L939.0 248.7 L939.5 248.6 L939.9 248.9 L940.4 249.5 L940.9 249.4 L941.3 249.9 L941.8 249.5 L942.3 249.7 L942.7 249.9 L943.2 249.6 L943.7 249.6 L944.1 249.7 L944.6 249.6 L945.1 249.9 L945.6 249.9 L946.0 250.0 L946.5 250.0 L947.0 250.0 L947.4 249.8 L947.9 250.0 L948.4 249.7 L948.8 249.4 L949.3 249.6 L949.8 249.4 L950.2 249.6 L950.7 249.8 L951.2 249.6 L951.7 249.7 L952.1 249.6 L952.6 249.5 L953.1 249.5 L953.5 249.3 L954.0 249.1 L954.5 249.2 L954.9 249.4 L955.4 249.6 L955.9 249.9 L956.4 250.2 L956.8 250.0 L957.3 250.1 L957.8 250.1 L958.2 250.2 L958.7 250.3 L959.2 250.0 L959.6 250.1 L960.1 250.2 L960.6 250.1 L961.0 250.1 L961.5 250.5 L962.0 250.6 L962.5 250.6 L962.9 250.3 L963.4 249.9 L963.9 249.9 L964.3 249.9 L964.8 249.7 L965.3 249.4 L965.7 249.1 L966.2 249.3 L966.7 249.2 L967.1 248.9 L967.6 249.0 L968.1 249.3 L968.6 249.1 L969.0 249.3 L969.5 249.2 L970.0 249.1 L970.4 248.7 L970.9 248.4 L971.4 248.3 L971.8 248.4 L972.3 248.8 L972.8 248.6 L973.2 248.6 L973.7 248.9 L974.2 248.4 L974.7 248.4 L975.1 248.4 L975.6 248.3 L976.1 248.0 L976.5 248.3 L977.0 248.1 L977.5 248.0 L977.9 248.3 L978.4 248.2 L978.9 248.4 L979.3 248.8 L979.8 248.9 L980.3 249.0 L980.8 249.0 L981.2 249.0 L981.7 249.2 L982.2 249.5 L982.6 249.7 L983.1 249.9 L983.6 250.3 L984.0 250.2 L984.5 250.1 L985.0 250.3 L985.5 250.3 L985.9 250.2 L986.4 250.2 L986.9 250.5 L987.3 250.6 L987.8 250.5 L988.3 250.4 L988.7 250.6 L989.2 250.6 L989.7 250.7 L990.1 250.8 L990.6 250.8 L991.1 250.6 L991.6 250.6 L992.0 250.6 L992.5 250.8 L993.0 250.4 L993.4 250.3 L993.9 250.1 L994.4 250.5 L994.8 250.6 L995.3 250.6 L995.8 250.7 L996.2 250.5 L996.7 250.3 L997.2 249.9 L997.7 249.7 L998.1 249.7 L998.6 249.3 L999.1 249.1 L999.5 248.6 L1000.0 248.7 L1000.5 248.9 L1000.9 249.3 L1001.4 249.5 L1001.9 249.2 L1002.3 249.4 L1002.8 249.3 L1003.3 249.6 L1003.8 249.6 L1004.2 249.4 L1004.7 249.4 L1005.2 249.4 L1005.6 249.3 L1006.1 249.4 L1006.6 249.4 L1007.0 249.6 L1007.5 249.4 L1008.0 249.7 L1008.5 249.8 L1008.9 249.5 L1009.4 249.2 L1009.9 249.3 L1010.3 249.2 L1010.8 249.3 L1011.3 249.1 L1011.7 249.0 L1012.2 249.1 L1012.7 248.8 L1013.1 249.1 L1013.6 249.5 L1014.1 249.3 L1014.6 249.4 L1015.0 249.5 L1015.5 249.8 L1016.0 249.6 L1016.4 249.7 L1016.9 249.6 L1017.4 249.2 L1017.8 249.2 L1018.3 249.0 L1018.8 249.2 L1019.2 249.2 L1019.7 249.3 L1020.2 249.1 L1020.7 249.0 L1021.1 249.0 L1021.6 249.1 L1022.1 249.4 L1022.5 249.3 L1023.0 248.9 L1023.5 248.9 L1023.9 248.9 L1024.4 248.5 L1024.9 248.5 L1025.3 248.4 L1025.8 248.2 L1026.3 248.1 L1026.8 247.9 L1027.2 248.0 L1027.7 248.3 L1028.2 248.3 L1028.6 248.2 L1029.1 248.0 L1029.6 248.4 L1030.0 248.2 L1030.5 248.1 L1031.0 247.9 L1031.4 247.9 L1031.9 247.8 L1032.4 247.9 L1032.9 248.0 L1033.3 247.7 L1033.8 248.1 L1034.3 247.8 L1034.7 248.0 L1035.2 248.2 L1035.7 248.0 L1036.1 248.1 L1036.6 248.1 L1037.1 248.2 L1037.6 247.9 L1038.0 248.1 L1038.5 248.0 L1039.0 248.0 L1039.4 247.6 L1039.9 247.3 L1040.4 247.1 L1040.8 247.2 L1041.3 247.2 L1041.8 247.4 L1042.2 247.1 L1042.7 247.2 L1043.2 247.2 L1043.7 247.5 L1044.1 247.5 L1044.6 247.2 L1045.1 247.5 L1045.5 247.6 L1046.0 248.0 L1046.5 248.2 L1046.9 248.1 L1047.4 248.3 L1047.9 248.4 L1048.3 248.2 L1048.8 248.7 L1049.3 248.6 L1049.8 248.9 L1050.2 248.9 L1050.7 248.8 L1051.2 249.0 L1051.6 248.8 L1052.1 249.0 L1052.6 248.9 L1053.0 248.5 L1053.5 248.7 L1054.0 249.0 L1054.4 249.0 L1054.9 249.2 L1055.4 249.6 L1055.9 249.7 L1056.3 249.8 L1056.8 249.9 L1057.3 249.9 L1057.7 250.2 L1058.2 250.3 L1058.7 250.5 L1059.1 250.4 L1059.6 250.8 L1060.1 250.9 L1060.6 250.7 L1061.0 250.4 L1061.5 250.2 L1062.0 250.7 L1062.4 250.3 L1062.9 250.4 L1063.4 250.6 L1063.8 250.3 L1064.3 250.3 L1064.8 250.5 L1065.2 250.4 L1065.7 250.5 L1066.2 250.5 L1066.7 250.7 L1067.1 250.6 L1067.6 250.6 L1068.1 250.7 L1068.5 250.8 L1069.0 251.0 L1069.5 250.7 L1069.9 251.0 L1070.4 251.3 L1070.9 251.5 L1071.3 251.4 L1071.8 251.4 L1072.3 251.6 L1072.8 251.6 L1073.2 251.9 L1073.7 252.0 L1074.2 252.3 L1074.6 252.7 L1075.1 253.1 L1075.6 252.8 L1076.0 252.7 L1076.5 252.9 L1077.0 252.9 L1077.4 252.9 L1077.9 252.9 L1078.4 252.9 L1078.9 253.0 L1079.3 253.5 L1079.8 253.9 L1080.3 254.0 L1080.7 254.3 L1081.2 254.6 L1081.7 255.0 L1082.1 255.0 L1082.6 254.6 L1083.1 254.6 L1083.6 254.5 L1084.0 254.4 L1084.5 254.1 L1085.0 254.3 L1085.4 254.2 L1085.9 254.3 L1086.4 254.2 L1086.8 254.2 L1087.3 254.0 L1087.8 254.0 L1088.2 254.1 L1088.7 254.3 L1089.2 254.5 L1089.7 254.6 L1090.1 254.7 L1090.6 254.5 L1091.1 254.6 L1091.5 254.5 L1092.0 254.5 L1092.5 254.6 L1092.9 254.3 L1093.4 254.0 L1093.9 253.8 L1094.3 253.8 L1094.8 253.7 L1095.3 253.5 L1095.8 253.7 L1096.2 253.3 L1096.7 253.4 L1097.2 253.4 L1097.6 253.6 L1098.1 253.6 L1098.6 253.6 L1099.0 254.0 L1099.5 254.1 L1100.0 253.9 L1100.4 253.8 L1100.9 254.0 L1101.4 254.0 L1101.9 254.1 L1102.3 254.4 L1102.8 254.2 L1103.3 254.5 L1103.7 254.6 L1104.2 254.6 L1104.7 254.8 L1105.1 254.7 L1105.6 254.7 L1106.1 254.7 L1106.6 254.5 L1107.0 254.8 L1107.5 254.3 L1108.0 254.4 L1108.4 254.4 L1108.9 254.6 L1109.4 254.5 L1109.8 254.7 L1110.3 254.5 L1110.8 254.8 L1111.2 254.7 L1111.7 255.0 L1112.2 254.6 L1112.7 254.1 L1113.1 253.9 L1113.6 253.6 L1114.1 253.2 L1114.5 253.1 L1115.0 253.1 L1115.5 253.2 L1115.9 252.8 L1116.4 252.9 L1116.9 253.0 L1117.3 253.4 L1117.8 253.4 L1118.3 252.6 L1118.8 252.3 L1119.2 251.9 L1119.7 251.4 L1120.2 251.2 L1120.6 251.2 L1121.1 250.7 L1121.6 250.2 L1122.0 250.0 L1122.5 249.7 L1123.0 249.5 L1123.4 249.2 L1123.9 249.2 L1124.4 249.2 L1124.9 249.1 L1125.3 249.3 L1125.8 249.1 L1126.3 249.4 L1126.7 249.5 L1127.2 249.7 L1127.7 249.0 L1128.1 247.9 L1128.6 247.4 L1129.1 246.8 L1129.5 246.4 L1130.0 246.1 L1130.5 245.6 L1131.0 245.5 L1131.4 245.4 L1131.9 245.6 L1132.4 245.5 L1132.8 245.5 L1133.3 245.7 L1133.8 245.8 L1134.2 245.7 L1134.7 246.0 L1135.2 246.6 L1135.7 246.5 L1136.1 246.4 L1136.6 246.4 L1137.1 246.1 L1137.5 245.8 L1138.0 245.9 L1138.5 246.0 L1138.9 245.9 L1139.4 246.0 L1139.9 246.3 L1140.3 246.0" stroke="#2fb99b" stroke-width="4"/>
<path d="M167.8 201.2 L169.7 200.1 L171.6 189.1 L173.4 187.6 L175.3 211.5 L177.2 216.9 L179.1 218.5 L180.9 216.4 L182.8 211.9 L184.7 204.9 L186.6 193.9 L188.5 183.0 L190.3 182.3 L192.2 193.7 L194.1 198.1 L196.0 194.4 L197.8 184.3 L199.7 182.2 L201.6 182.5 L203.5 186.8 L205.4 193.9 L207.2 196.7 L209.1 203.1 L211.0 206.5 L212.9 203.4 L214.7 197.8 L216.6 198.2 L218.5 197.2 L220.4 199.0 L222.2 200.1 L224.1 205.7 L226.0 214.6 L227.9 213.9 L229.8 216.0 L231.6 217.9 L233.5 218.8 L235.4 219.8 L237.3 220.4 L239.1 219.4 L241.0 219.3 L242.9 219.9 L244.8 218.7 L246.7 217.3 L248.5 216.6 L250.4 217.0 L252.3 216.9 L254.2 217.4 L256.0 216.9 L257.9 216.6 L259.8 216.5 L261.7 215.3 L263.6 214.0 L265.4 213.8 L267.3 211.2 L269.2 210.6 L271.1 209.1 L272.9 210.3 L274.8 215.0 L276.7 217.1 L278.6 220.8 L280.5 220.9 L282.3 220.4 L284.2 220.1 L286.1 221.2 L288.0 222.3 L289.8 223.9 L291.7 222.6 L293.6 222.6 L295.5 222.5 L297.3 222.2 L299.2 222.0 L301.1 221.2 L303.0 221.7 L304.9 222.7 L306.7 224.1 L308.6 225.8 L310.5 226.3 L312.4 226.1 L314.2 227.4 L316.1 228.8 L318.0 229.8 L319.9 229.9 L321.8 229.3 L323.6 226.1 L325.5 227.9 L327.4 229.0 L329.3 228.9 L331.1 228.1 L333.0 226.3 L334.9 226.8 L336.8 227.3 L338.7 226.8 L340.5 225.0 L342.4 224.8 L344.3 226.9 L346.2 226.6 L348.0 226.4 L349.9 227.3 L351.8 227.3 L353.7 226.3 L355.5 225.5 L357.4 224.0 L359.3 223.1 L361.2 222.2 L363.1 221.5 L364.9 221.1 L366.8 220.9 L368.7 219.5 L370.6 218.2 L372.4 217.3 L374.3 215.5 L376.2 215.6 L378.1 215.7 L380.0 216.7 L381.8 217.7 L383.7 218.6 L385.6 218.5 L387.5 219.2 L389.3 220.2 L391.2 220.6 L393.1 221.4 L395.0 221.3 L396.9 221.2 L398.7 221.3 L400.6 221.6 L402.5 221.2 L404.4 221.7 L406.2 221.7 L408.1 221.5 L410.0 221.8 L411.9 222.9 L413.8 224.7 L415.6 226.1 L417.5 228.5 L419.4 229.0 L421.3 229.7 L423.1 230.2 L425.0 229.8 L426.9 230.0 L428.8 230.6 L430.7 231.4 L432.5 232.2 L434.4 233.7 L436.3 235.1 L438.2 236.5 L440.0 236.4 L441.9 236.7 L443.8 237.6 L445.7 237.2 L447.5 237.5 L449.4 239.3 L451.3 239.1 L453.2 239.4 L455.1 239.8 L456.9 239.9 L458.8 240.5 L460.7 240.1 L462.6 240.1 L464.4 239.9 L466.3 240.3 L468.2 240.2 L470.1 240.1 L472.0 240.0 L473.8 240.1 L475.7 239.9 L477.6 240.2 L479.5 240.1 L481.3 240.3 L483.2 240.0 L485.1 239.3 L487.0 239.0 L488.9 238.2 L490.7 236.6 L492.6 235.7 L494.5 235.7 L496.4 234.9 L498.2 234.0 L500.1 233.9 L502.0 232.0 L503.9 231.4 L505.8 231.1 L507.6 229.7 L509.5 229.5 L511.4 229.2 L513.3 229.4 L515.1 229.4 L517.0 229.9 L518.9 230.3 L520.8 230.1 L522.6 230.3 L524.5 230.1 L526.4 230.8 L528.3 231.0 L530.2 232.2 L532.0 231.9 L533.9 232.2 L535.8 232.1 L537.7 232.0 L539.5 231.6 L541.4 232.2 L543.3 231.9 L545.2 232.1 L547.1 231.9 L548.9 232.0 L550.8 232.1 L552.7 232.3 L554.6 231.6 L556.4 231.2 L558.3 231.2 L560.2 231.0 L562.1 231.1 L564.0 231.1 L565.8 231.1 L567.7 231.2 L569.6 231.1 L571.5 231.2 L573.3 231.0 L575.2 231.2 L577.1 231.2 L579.0 231.4 L580.8 231.2 L582.7 231.0 L584.6 231.1 L586.5 231.0 L588.4 231.2 L590.2 232.7 L592.1 233.6 L594.0 234.2 L595.9 234.3 L597.7 233.9 L599.6 233.7 L601.5 233.9 L603.4 233.9 L605.3 233.9 L607.1 233.0 L609.0 232.7 L610.9 232.2 L612.8 232.3 L614.6 231.5 L616.5 231.9 L618.4 231.4 L620.3 230.4 L622.2 229.9 L624.0 229.3 L625.9 228.4 L627.8 227.5 L629.7 227.5 L631.5 227.6 L633.4 227.5 L635.3 227.6 L637.2 227.6 L639.1 228.0 L640.9 229.5 L642.8 231.2 L644.7 231.9 L646.6 233.7 L648.4 235.8 L650.3 236.7 L652.2 237.4 L654.1 237.9 L656.0 239.9 L657.8 242.0 L659.7 243.5 L661.6 244.4 L663.5 244.8 L665.3 244.7 L667.2 244.8 L669.1 244.7 L671.0 244.7 L672.8 244.7 L674.7 244.8 L676.6 244.7 L678.5 244.7 L680.4 244.7 L682.2 246.2 L684.1 246.5 L686.0 246.5 L687.9 246.5 L689.7 246.5 L691.6 246.5 L693.5 246.5 L695.4 246.6 L697.3 247.4 L699.1 247.3 L701.0 247.4 L702.9 247.4 L704.8 247.4 L706.6 247.5 L708.5 247.4 L710.4 247.4 L712.3 247.4 L714.2 247.4 L716.0 247.4 L717.9 247.3 L719.8 246.5 L721.7 245.9 L723.5 245.2 L725.4 244.7 L727.3 244.1 L729.2 243.2 L731.0 242.8 L732.9 242.0 L734.8 241.5 L736.7 241.0 L738.6 240.2 L740.4 240.1 L742.3 239.3 L744.2 238.4 L746.1 238.0 L747.9 237.4 L749.8 236.6 L751.7 236.0 L753.6 235.6 L755.5 234.8 L757.3 234.5 L759.2 233.8 L761.1 233.2 L763.0 233.0 L764.8 232.1 L766.7 232.1 L768.6 232.1 L770.5 232.1 L772.4 232.1 L774.2 232.1 L776.1 232.1 L778.0 232.1 L779.9 232.1 L781.7 232.1 L783.6 232.1 L785.5 232.1 L787.4 232.1 L789.3 232.9 L791.1 233.2 L793.0 233.9 L794.9 234.8 L796.8 235.7 L798.6 236.8 L800.5 240.3 L802.4 241.6 L804.3 242.8 L806.1 243.9 L808.0 243.8 L809.9 243.8 L811.8 243.8 L813.7 244.5 L815.5 247.5 L817.4 249.6 L819.3 250.4 L821.2 250.5 L823.0 250.2 L824.9 250.4 L826.8 250.5 L828.7 250.4 L830.6 250.2 L832.4 250.4 L834.3 250.4 L836.2 250.5 L838.1 250.6 L839.9 250.6 L841.8 250.6 L843.7 250.6 L845.6 250.5 L847.5 250.4 L849.3 250.3 L851.2 250.3 L853.1 250.4 L855.0 250.4 L856.8 250.3 L858.7 250.3 L860.6 250.3 L862.5 250.3 L864.4 250.4 L866.2 250.4 L868.1 250.4 L870.0 250.5 L871.9 250.6 L873.7 250.7 L875.6 250.7 L877.5 250.7 L879.4 250.6 L881.3 250.7 L883.1 250.7 L885.0 250.7 L886.9 250.7 L888.8 250.7 L890.6 250.6 L892.5 250.5 L894.4 250.5 L896.3 250.4 L898.1 250.4 L900.0 250.4 L901.9 250.5 L903.8 250.5 L905.7 250.4 L907.5 250.4 L909.4 250.4 L911.3 250.5 L913.2 250.5 L915.0 250.5 L916.9 250.5 L918.8 250.6 L920.7 250.7 L922.6 250.7 L924.4 250.7 L926.3 250.7 L928.2 250.7 L930.1 250.7 L931.9 250.7 L933.8 250.7 L935.7 250.7 L937.6 250.7 L939.5 250.7 L941.3 250.7 L943.2 250.6 L945.1 250.7 L947.0 250.7 L948.8 250.7 L950.7 250.7 L952.6 250.7 L954.5 250.6 L956.4 250.6 L958.2 250.6 L960.1 250.6 L962.0 250.6 L963.9 250.6 L965.7 250.5 L967.6 250.5 L969.5 250.5 L971.4 250.5 L973.2 250.6 L975.1 250.6 L977.0 250.1 L978.9 249.8 L980.8 249.6 L982.6 249.7 L984.5 249.7 L986.4 249.7 L988.3 249.6 L990.1 249.6 L992.0 249.6 L993.9 249.6 L995.8 249.6 L997.7 249.5 L999.5 249.1 L1001.4 248.7 L1003.3 248.6 L1005.2 248.2 L1007.0 247.8 L1008.9 247.7 L1010.8 247.3 L1012.7 246.9 L1014.6 246.8 L1016.4 246.9 L1018.3 246.9 L1020.2 246.8 L1022.1 246.3 L1023.9 245.9 L1025.8 245.9 L1027.7 245.6 L1029.6 244.9 L1031.4 244.9 L1033.3 244.4 L1035.2 244.1 L1037.1 244.1 L1039.0 244.0 L1040.8 243.1 L1042.7 243.1 L1044.6 242.8 L1046.5 242.4 L1048.3 242.4 L1050.2 242.3 L1052.1 242.3 L1054.0 242.4 L1055.9 242.4 L1057.7 242.4 L1059.6 243.3 L1061.5 243.7 L1063.4 244.4 L1065.2 245.4 L1067.1 245.4 L1069.0 245.4 L1070.9 245.3 L1072.8 248.7 L1074.6 250.8 L1076.5 250.8 L1078.4 250.7 L1080.3 250.7 L1082.1 250.6 L1084.0 250.7 L1085.9 250.7 L1087.8 250.7 L1089.7 250.7 L1091.5 250.7 L1093.4 250.7 L1095.3 250.7 L1097.2 250.7 L1099.0 250.8 L1100.9 250.7 L1102.8 250.6 L1104.7 250.7 L1106.6 250.7 L1108.4 250.7 L1110.3 250.7 L1112.2 250.7 L1114.1 250.7 L1115.9 250.7 L1117.8 250.3 L1119.7 249.8 L1121.6 248.2 L1123.4 246.6 L1125.3 245.0 L1127.2 242.6 L1129.1 241.8 L1131.0 239.9 L1132.8 237.4 L1134.7 236.2 L1136.6 235.4 L1138.5 234.5 L1140.3 234.3" stroke="#343849" stroke-width="4"/>
</g>
<text x="600" y="40" font-size="26" fill="#333" text-anchor="middle">Interest Rates</text>
<text x="600" y="78" font-size="24" fill="#666" text-anchor="middle">MacroMicro.me | David Zhao</text>
<rect x="326" y="414.0" width="32" height="4" fill="#3da9dc"/>
<text class="lg" x="368" y="424.0">US Real Interest Rate</text>
<rect x="326" y="446.0" width="32" height="4" fill="#e8543c"/>
<text class="lg" x="368" y="456.0">10-year US Treasury Yield</text>
<rect x="326" y="478.0" width="32" height="4" fill="#f6b63d"/>
<text class="lg" x="368" y="488.0">US 30-Year Fixed Rate Mortgage Average</text>
<rect x="326" y="510.0" width="32" height="4" fill="#6bc659"/>
<text class="lg" x="368" y="520.0">US 2 Year bonds yield rate</text>
<rect x="326" y="542.0" width="32" height="4" fill="#2fb99b"/>
<text class="lg" x="368" y="552.0">US 10 Year TIPS Yield Rate</text>
<rect x="326" y="574.0" width="32" height="4" fill="#343849"/>
<text class="lg" x="368" y="584.0">US Federal Funds Rate (Daily)</text>
</svg></body></html>
